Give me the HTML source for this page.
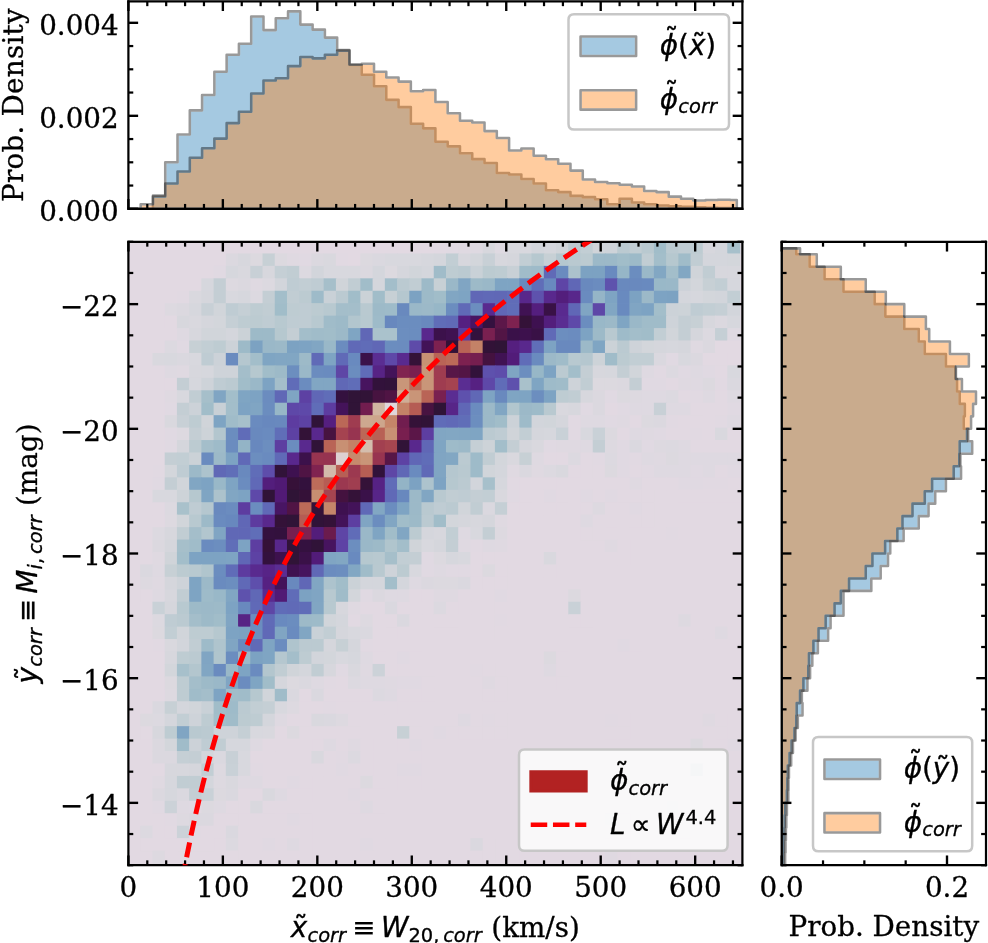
<!DOCTYPE html>
<html><head><meta charset="utf-8"><title>figure</title>
<style>html,body{margin:0;padding:0;background:#fff}svg text{stroke:#000;stroke-width:.22px;stroke-linejoin:round}body{width:988px;height:943px;overflow:hidden}</style></head>
<body>
<svg width="988" height="943" viewBox="0 0 711.36 678.96" style="display:block">
 
 <defs>
  <style type="text/css">*{stroke-linejoin: round; stroke-linecap: butt}</style>
 </defs>
 <g id="figure_1">
  <g id="patch_1">
   <path d="M 0 678.96 
L 711.36 678.96 
L 711.36 0 
L 0 0 
L 0 678.96 
z
" style="fill: none"/>
  </g>
  <g id="axes_1">
   <g id="patch_2">
    <path d="M 92.448 622.944 
L 534.528 622.944 
L 534.528 174.096 
L 92.448 174.096 
L 92.448 622.944 
z
" style="fill: none"/>
   </g>
   <g id="cells"><rect x="92.45" y="174.10" width="442.08" height="448.85" fill="#e2d9e2"/>
<rect x="312.30" y="174.10" width="9.31" height="8.88" fill="#e1d9e2"/>
<rect x="321.11" y="174.10" width="9.31" height="8.88" fill="#e0d9e2"/>
<rect x="329.91" y="174.10" width="9.31" height="8.88" fill="#dfd9e1"/>
<rect x="338.72" y="174.10" width="9.31" height="8.88" fill="#ded9e1"/>
<rect x="347.52" y="174.10" width="9.31" height="8.88" fill="#d7d7dd"/>
<rect x="356.33" y="174.10" width="9.31" height="8.88" fill="#ded9e1"/>
<rect x="365.13" y="174.10" width="9.31" height="8.88" fill="#d8d8de"/>
<rect x="373.94" y="174.10" width="9.31" height="8.88" fill="#d8d8de"/>
<rect x="382.74" y="174.10" width="9.31" height="8.88" fill="#d2d5db"/>
<rect x="391.55" y="174.10" width="9.31" height="8.88" fill="#d4d6dc"/>
<rect x="400.36" y="174.10" width="9.31" height="8.88" fill="#d0d4d9"/>
<rect x="409.16" y="174.10" width="9.31" height="8.88" fill="#bbcad1"/>
<rect x="417.97" y="174.10" width="9.31" height="8.88" fill="#c2ced4"/>
<rect x="426.77" y="174.10" width="9.31" height="8.88" fill="#d0d4d9"/>
<rect x="435.58" y="174.10" width="9.31" height="8.88" fill="#ced3d9"/>
<rect x="444.38" y="174.10" width="9.31" height="8.88" fill="#bbcad1"/>
<rect x="453.19" y="174.10" width="9.31" height="8.88" fill="#c1cdd3"/>
<rect x="462.00" y="174.10" width="9.31" height="8.88" fill="#b9c9d0"/>
<rect x="470.80" y="174.10" width="9.31" height="8.88" fill="#a1bdc9"/>
<rect x="479.61" y="174.10" width="9.31" height="8.88" fill="#bbcad1"/>
<rect x="488.41" y="174.10" width="9.31" height="8.88" fill="#bfccd3"/>
<rect x="497.22" y="174.10" width="9.31" height="8.88" fill="#beccd2"/>
<rect x="506.02" y="174.10" width="9.31" height="8.88" fill="#d7d7dd"/>
<rect x="514.83" y="174.10" width="9.31" height="8.88" fill="#d4d6dc"/>
<rect x="523.63" y="174.10" width="9.31" height="8.88" fill="#a7c0cb"/>
<rect x="162.60" y="182.48" width="9.31" height="9.46" fill="#dbd8df"/>
<rect x="171.41" y="182.48" width="9.31" height="9.46" fill="#d7d7dd"/>
<rect x="180.22" y="182.48" width="9.31" height="9.46" fill="#dcd9df"/>
<rect x="189.02" y="182.48" width="9.31" height="9.46" fill="#c7d0d5"/>
<rect x="197.83" y="182.48" width="9.31" height="9.46" fill="#dcd9df"/>
<rect x="206.63" y="182.48" width="9.31" height="9.46" fill="#dfd9e1"/>
<rect x="215.44" y="182.48" width="9.31" height="9.46" fill="#e0d9e2"/>
<rect x="224.24" y="182.48" width="9.31" height="9.46" fill="#dbd8df"/>
<rect x="233.05" y="182.48" width="9.31" height="9.46" fill="#d9d8de"/>
<rect x="241.86" y="182.48" width="9.31" height="9.46" fill="#e1d9e2"/>
<rect x="250.66" y="182.48" width="9.31" height="9.46" fill="#e2d9e2"/>
<rect x="259.47" y="182.48" width="9.31" height="9.46" fill="#dcd9df"/>
<rect x="268.27" y="182.48" width="9.31" height="9.46" fill="#dad8df"/>
<rect x="277.08" y="182.48" width="9.31" height="9.46" fill="#d8d8de"/>
<rect x="285.88" y="182.48" width="9.31" height="9.46" fill="#d8d8de"/>
<rect x="294.69" y="182.48" width="9.31" height="9.46" fill="#d8d8de"/>
<rect x="303.49" y="182.48" width="9.31" height="9.46" fill="#d6d7dd"/>
<rect x="312.30" y="182.48" width="9.31" height="9.46" fill="#d4d6dc"/>
<rect x="321.11" y="182.48" width="9.31" height="9.46" fill="#c2ced4"/>
<rect x="329.91" y="182.48" width="9.31" height="9.46" fill="#d7d7dd"/>
<rect x="338.72" y="182.48" width="9.31" height="9.46" fill="#d3d6db"/>
<rect x="347.52" y="182.48" width="9.31" height="9.46" fill="#c8d0d6"/>
<rect x="356.33" y="182.48" width="9.31" height="9.46" fill="#d7d7dd"/>
<rect x="365.13" y="182.48" width="9.31" height="9.46" fill="#d5d6dc"/>
<rect x="373.94" y="182.48" width="9.31" height="9.46" fill="#c2ced4"/>
<rect x="382.74" y="182.48" width="9.31" height="9.46" fill="#b6c8cf"/>
<rect x="391.55" y="182.48" width="9.31" height="9.46" fill="#c7d0d5"/>
<rect x="400.36" y="182.48" width="9.31" height="9.46" fill="#b5c7cf"/>
<rect x="409.16" y="182.48" width="9.31" height="9.46" fill="#b9c9d0"/>
<rect x="417.97" y="182.48" width="9.31" height="9.46" fill="#bccbd1"/>
<rect x="426.77" y="182.48" width="9.31" height="9.46" fill="#9cb9c8"/>
<rect x="435.58" y="182.48" width="9.31" height="9.46" fill="#9cb9c8"/>
<rect x="444.38" y="182.48" width="9.31" height="9.46" fill="#a1bdc9"/>
<rect x="453.19" y="182.48" width="9.31" height="9.46" fill="#9dbac8"/>
<rect x="462.00" y="182.48" width="9.31" height="9.46" fill="#c1cdd3"/>
<rect x="470.80" y="182.48" width="9.31" height="9.46" fill="#a3beca"/>
<rect x="479.61" y="182.48" width="9.31" height="9.46" fill="#b6c8cf"/>
<rect x="488.41" y="182.48" width="9.31" height="9.46" fill="#a0bcc9"/>
<rect x="497.22" y="182.48" width="9.31" height="9.46" fill="#c1cdd3"/>
<rect x="506.02" y="182.48" width="9.31" height="9.46" fill="#d4d6dc"/>
<rect x="514.83" y="182.48" width="9.31" height="9.46" fill="#d4d6dc"/>
<rect x="523.63" y="182.48" width="9.31" height="9.46" fill="#d3d6db"/>
<rect x="153.80" y="191.43" width="9.31" height="9.46" fill="#e0d9e2"/>
<rect x="162.60" y="191.43" width="9.31" height="9.46" fill="#d6d7dd"/>
<rect x="171.41" y="191.43" width="9.31" height="9.46" fill="#d9d8de"/>
<rect x="180.22" y="191.43" width="9.31" height="9.46" fill="#c8d0d6"/>
<rect x="189.02" y="191.43" width="9.31" height="9.46" fill="#d7d7dd"/>
<rect x="197.83" y="191.43" width="9.31" height="9.46" fill="#c5cfd5"/>
<rect x="206.63" y="191.43" width="9.31" height="9.46" fill="#c1cdd3"/>
<rect x="215.44" y="191.43" width="9.31" height="9.46" fill="#dcd9e0"/>
<rect x="224.24" y="191.43" width="9.31" height="9.46" fill="#d2d5db"/>
<rect x="233.05" y="191.43" width="9.31" height="9.46" fill="#d8d8de"/>
<rect x="241.86" y="191.43" width="9.31" height="9.46" fill="#d8d8de"/>
<rect x="250.66" y="191.43" width="9.31" height="9.46" fill="#d8d8de"/>
<rect x="259.47" y="191.43" width="9.31" height="9.46" fill="#dbd8df"/>
<rect x="268.27" y="191.43" width="9.31" height="9.46" fill="#d4d6dc"/>
<rect x="277.08" y="191.43" width="9.31" height="9.46" fill="#dcd9df"/>
<rect x="285.88" y="191.43" width="9.31" height="9.46" fill="#d5d6dc"/>
<rect x="294.69" y="191.43" width="9.31" height="9.46" fill="#d1d5da"/>
<rect x="303.49" y="191.43" width="9.31" height="9.46" fill="#d4d6dc"/>
<rect x="312.30" y="191.43" width="9.31" height="9.46" fill="#a0bcc9"/>
<rect x="321.11" y="191.43" width="9.31" height="9.46" fill="#beccd2"/>
<rect x="329.91" y="191.43" width="9.31" height="9.46" fill="#bbcad1"/>
<rect x="338.72" y="191.43" width="9.31" height="9.46" fill="#c9d1d7"/>
<rect x="347.52" y="191.43" width="9.31" height="9.46" fill="#bccbd1"/>
<rect x="356.33" y="191.43" width="9.31" height="9.46" fill="#beccd2"/>
<rect x="365.13" y="191.43" width="9.31" height="9.46" fill="#c8d0d6"/>
<rect x="373.94" y="191.43" width="9.31" height="9.46" fill="#a0bcc9"/>
<rect x="382.74" y="191.43" width="9.31" height="9.46" fill="#9ebbc9"/>
<rect x="391.55" y="191.43" width="9.31" height="9.46" fill="#606ab7"/>
<rect x="400.36" y="191.43" width="9.31" height="9.46" fill="#6a8bbf"/>
<rect x="409.16" y="191.43" width="9.31" height="9.46" fill="#acc2cc"/>
<rect x="417.97" y="191.43" width="9.31" height="9.46" fill="#7ca2c2"/>
<rect x="426.77" y="191.43" width="9.31" height="9.46" fill="#7ca2c2"/>
<rect x="435.58" y="191.43" width="9.31" height="9.46" fill="#698abf"/>
<rect x="444.38" y="191.43" width="9.31" height="9.46" fill="#96b6c7"/>
<rect x="453.19" y="191.43" width="9.31" height="9.46" fill="#6b8dbf"/>
<rect x="462.00" y="191.43" width="9.31" height="9.46" fill="#9ab8c8"/>
<rect x="470.80" y="191.43" width="9.31" height="9.46" fill="#82a7c3"/>
<rect x="479.61" y="191.43" width="9.31" height="9.46" fill="#a3beca"/>
<rect x="488.41" y="191.43" width="9.31" height="9.46" fill="#82a7c3"/>
<rect x="497.22" y="191.43" width="9.31" height="9.46" fill="#d0d4d9"/>
<rect x="506.02" y="191.43" width="9.31" height="9.46" fill="#c1cdd3"/>
<rect x="514.83" y="191.43" width="9.31" height="9.46" fill="#d7d7dd"/>
<rect x="523.63" y="191.43" width="9.31" height="9.46" fill="#d7d7dd"/>
<rect x="144.99" y="200.39" width="9.31" height="9.46" fill="#d6d7dd"/>
<rect x="153.80" y="200.39" width="9.31" height="9.46" fill="#c4ced4"/>
<rect x="162.60" y="200.39" width="9.31" height="9.46" fill="#ddd9e0"/>
<rect x="171.41" y="200.39" width="9.31" height="9.46" fill="#dbd8df"/>
<rect x="180.22" y="200.39" width="9.31" height="9.46" fill="#dfd9e1"/>
<rect x="189.02" y="200.39" width="9.31" height="9.46" fill="#dcd9e0"/>
<rect x="197.83" y="200.39" width="9.31" height="9.46" fill="#d2d5db"/>
<rect x="206.63" y="200.39" width="9.31" height="9.46" fill="#bfccd3"/>
<rect x="215.44" y="200.39" width="9.31" height="9.46" fill="#c2ced4"/>
<rect x="224.24" y="200.39" width="9.31" height="9.46" fill="#bfccd3"/>
<rect x="233.05" y="200.39" width="9.31" height="9.46" fill="#a6bfca"/>
<rect x="241.86" y="200.39" width="9.31" height="9.46" fill="#d0d4d9"/>
<rect x="250.66" y="200.39" width="9.31" height="9.46" fill="#c1cdd3"/>
<rect x="259.47" y="200.39" width="9.31" height="9.46" fill="#a1bdc9"/>
<rect x="268.27" y="200.39" width="9.31" height="9.46" fill="#d4d6dc"/>
<rect x="277.08" y="200.39" width="9.31" height="9.46" fill="#a3beca"/>
<rect x="285.88" y="200.39" width="9.31" height="9.46" fill="#bbcad1"/>
<rect x="294.69" y="200.39" width="9.31" height="9.46" fill="#c1cdd3"/>
<rect x="303.49" y="200.39" width="9.31" height="9.46" fill="#9dbac8"/>
<rect x="312.30" y="200.39" width="9.31" height="9.46" fill="#c7d0d5"/>
<rect x="321.11" y="200.39" width="9.31" height="9.46" fill="#9ab8c8"/>
<rect x="329.91" y="200.39" width="9.31" height="9.46" fill="#80a5c3"/>
<rect x="338.72" y="200.39" width="9.31" height="9.46" fill="#9dbac8"/>
<rect x="347.52" y="200.39" width="9.31" height="9.46" fill="#9ab8c8"/>
<rect x="356.33" y="200.39" width="9.31" height="9.46" fill="#7ea4c3"/>
<rect x="365.13" y="200.39" width="9.31" height="9.46" fill="#7ea4c3"/>
<rect x="373.94" y="200.39" width="9.31" height="9.46" fill="#6989be"/>
<rect x="382.74" y="200.39" width="9.31" height="9.46" fill="#606db8"/>
<rect x="391.55" y="200.39" width="9.31" height="9.46" fill="#698abf"/>
<rect x="400.36" y="200.39" width="9.31" height="9.46" fill="#5e45a6"/>
<rect x="409.16" y="200.39" width="9.31" height="9.46" fill="#6067b6"/>
<rect x="417.97" y="200.39" width="9.31" height="9.46" fill="#6989be"/>
<rect x="426.77" y="200.39" width="9.31" height="9.46" fill="#6b8cbf"/>
<rect x="435.58" y="200.39" width="9.31" height="9.46" fill="#5e52ad"/>
<rect x="444.38" y="200.39" width="9.31" height="9.46" fill="#6989be"/>
<rect x="453.19" y="200.39" width="9.31" height="9.46" fill="#6989be"/>
<rect x="462.00" y="200.39" width="9.31" height="9.46" fill="#698abf"/>
<rect x="470.80" y="200.39" width="9.31" height="9.46" fill="#99b8c8"/>
<rect x="479.61" y="200.39" width="9.31" height="9.46" fill="#9ab8c8"/>
<rect x="488.41" y="200.39" width="9.31" height="9.46" fill="#ccd2d8"/>
<rect x="497.22" y="200.39" width="9.31" height="9.46" fill="#d3d6db"/>
<rect x="506.02" y="200.39" width="9.31" height="9.46" fill="#c7d0d5"/>
<rect x="514.83" y="200.39" width="9.31" height="9.46" fill="#c2ced4"/>
<rect x="523.63" y="200.39" width="9.31" height="9.46" fill="#d6d7dd"/>
<rect x="127.38" y="209.35" width="9.31" height="9.46" fill="#e1d9e2"/>
<rect x="136.19" y="209.35" width="9.31" height="9.46" fill="#d9d8de"/>
<rect x="144.99" y="209.35" width="9.31" height="9.46" fill="#d5d6dc"/>
<rect x="153.80" y="209.35" width="9.31" height="9.46" fill="#c4ced4"/>
<rect x="162.60" y="209.35" width="9.31" height="9.46" fill="#d8d8de"/>
<rect x="171.41" y="209.35" width="9.31" height="9.46" fill="#d6d7dd"/>
<rect x="180.22" y="209.35" width="9.31" height="9.46" fill="#dcd9e0"/>
<rect x="189.02" y="209.35" width="9.31" height="9.46" fill="#c4ced4"/>
<rect x="197.83" y="209.35" width="9.31" height="9.46" fill="#a3beca"/>
<rect x="206.63" y="209.35" width="9.31" height="9.46" fill="#c1cdd3"/>
<rect x="215.44" y="209.35" width="9.31" height="9.46" fill="#bccbd1"/>
<rect x="224.24" y="209.35" width="9.31" height="9.46" fill="#9ebbc9"/>
<rect x="233.05" y="209.35" width="9.31" height="9.46" fill="#c9d1d7"/>
<rect x="241.86" y="209.35" width="9.31" height="9.46" fill="#bbcad1"/>
<rect x="250.66" y="209.35" width="9.31" height="9.46" fill="#a1bdc9"/>
<rect x="259.47" y="209.35" width="9.31" height="9.46" fill="#cbd2d7"/>
<rect x="268.27" y="209.35" width="9.31" height="9.46" fill="#a1bdc9"/>
<rect x="277.08" y="209.35" width="9.31" height="9.46" fill="#c7d0d5"/>
<rect x="285.88" y="209.35" width="9.31" height="9.46" fill="#b5c7cf"/>
<rect x="294.69" y="209.35" width="9.31" height="9.46" fill="#7ca2c2"/>
<rect x="303.49" y="209.35" width="9.31" height="9.46" fill="#9dbac8"/>
<rect x="312.30" y="209.35" width="9.31" height="9.46" fill="#a1bdc9"/>
<rect x="321.11" y="209.35" width="9.31" height="9.46" fill="#81a6c3"/>
<rect x="329.91" y="209.35" width="9.31" height="9.46" fill="#7ea4c3"/>
<rect x="338.72" y="209.35" width="9.31" height="9.46" fill="#6067b6"/>
<rect x="347.52" y="209.35" width="9.31" height="9.46" fill="#6069b7"/>
<rect x="356.33" y="209.35" width="9.31" height="9.46" fill="#6068b6"/>
<rect x="365.13" y="209.35" width="9.31" height="9.46" fill="#606cb8"/>
<rect x="373.94" y="209.35" width="9.31" height="9.46" fill="#58278b"/>
<rect x="382.74" y="209.35" width="9.31" height="9.46" fill="#5e52ad"/>
<rect x="391.55" y="209.35" width="9.31" height="9.46" fill="#59288d"/>
<rect x="400.36" y="209.35" width="9.31" height="9.46" fill="#531e7c"/>
<rect x="409.16" y="209.35" width="9.31" height="9.46" fill="#58278b"/>
<rect x="417.97" y="209.35" width="9.31" height="9.46" fill="#6a8bbf"/>
<rect x="426.77" y="209.35" width="9.31" height="9.46" fill="#95b5c7"/>
<rect x="435.58" y="209.35" width="9.31" height="9.46" fill="#7ea4c3"/>
<rect x="444.38" y="209.35" width="9.31" height="9.46" fill="#698abf"/>
<rect x="453.19" y="209.35" width="9.31" height="9.46" fill="#7ca2c2"/>
<rect x="462.00" y="209.35" width="9.31" height="9.46" fill="#9cb9c8"/>
<rect x="470.80" y="209.35" width="9.31" height="9.46" fill="#7da3c3"/>
<rect x="479.61" y="209.35" width="9.31" height="9.46" fill="#7ca2c2"/>
<rect x="488.41" y="209.35" width="9.31" height="9.46" fill="#d4d6dc"/>
<rect x="497.22" y="209.35" width="9.31" height="9.46" fill="#d6d7dd"/>
<rect x="506.02" y="209.35" width="9.31" height="9.46" fill="#d3d6db"/>
<rect x="514.83" y="209.35" width="9.31" height="9.46" fill="#d2d5db"/>
<rect x="523.63" y="209.35" width="9.31" height="9.46" fill="#c2ced4"/>
<rect x="118.58" y="218.30" width="9.31" height="9.46" fill="#ddd9e0"/>
<rect x="127.38" y="218.30" width="9.31" height="9.46" fill="#dbd8df"/>
<rect x="136.19" y="218.30" width="9.31" height="9.46" fill="#d6d7dd"/>
<rect x="144.99" y="218.30" width="9.31" height="9.46" fill="#c8d0d6"/>
<rect x="153.80" y="218.30" width="9.31" height="9.46" fill="#d1d5da"/>
<rect x="162.60" y="218.30" width="9.31" height="9.46" fill="#bfccd3"/>
<rect x="171.41" y="218.30" width="9.31" height="9.46" fill="#c5cfd5"/>
<rect x="180.22" y="218.30" width="9.31" height="9.46" fill="#beccd2"/>
<rect x="189.02" y="218.30" width="9.31" height="9.46" fill="#c1cdd3"/>
<rect x="197.83" y="218.30" width="9.31" height="9.46" fill="#a1bdc9"/>
<rect x="206.63" y="218.30" width="9.31" height="9.46" fill="#beccd2"/>
<rect x="215.44" y="218.30" width="9.31" height="9.46" fill="#bfccd3"/>
<rect x="224.24" y="218.30" width="9.31" height="9.46" fill="#bccbd1"/>
<rect x="233.05" y="218.30" width="9.31" height="9.46" fill="#b8c9d0"/>
<rect x="241.86" y="218.30" width="9.31" height="9.46" fill="#a4beca"/>
<rect x="250.66" y="218.30" width="9.31" height="9.46" fill="#a4beca"/>
<rect x="259.47" y="218.30" width="9.31" height="9.46" fill="#b9c9d0"/>
<rect x="268.27" y="218.30" width="9.31" height="9.46" fill="#9dbac8"/>
<rect x="277.08" y="218.30" width="9.31" height="9.46" fill="#9ebbc9"/>
<rect x="285.88" y="218.30" width="9.31" height="9.46" fill="#6989be"/>
<rect x="294.69" y="218.30" width="9.31" height="9.46" fill="#9ab8c8"/>
<rect x="303.49" y="218.30" width="9.31" height="9.46" fill="#9cb9c8"/>
<rect x="312.30" y="218.30" width="9.31" height="9.46" fill="#97b7c7"/>
<rect x="321.11" y="218.30" width="9.31" height="9.46" fill="#6b8dbf"/>
<rect x="329.91" y="218.30" width="9.31" height="9.46" fill="#606ab7"/>
<rect x="338.72" y="218.30" width="9.31" height="9.46" fill="#6c8ebf"/>
<rect x="347.52" y="218.30" width="9.31" height="9.46" fill="#592a8f"/>
<rect x="356.33" y="218.30" width="9.31" height="9.46" fill="#6067b6"/>
<rect x="365.13" y="218.30" width="9.31" height="9.46" fill="#606db8"/>
<rect x="373.94" y="218.30" width="9.31" height="9.46" fill="#401253"/>
<rect x="382.74" y="218.30" width="9.31" height="9.46" fill="#541e7e"/>
<rect x="391.55" y="218.30" width="9.31" height="9.46" fill="#391146"/>
<rect x="400.36" y="218.30" width="9.31" height="9.46" fill="#592a8f"/>
<rect x="409.16" y="218.30" width="9.31" height="9.46" fill="#6067b6"/>
<rect x="417.97" y="218.30" width="9.31" height="9.46" fill="#80a5c3"/>
<rect x="426.77" y="218.30" width="9.31" height="9.46" fill="#5e47a7"/>
<rect x="435.58" y="218.30" width="9.31" height="9.46" fill="#81a6c3"/>
<rect x="444.38" y="218.30" width="9.31" height="9.46" fill="#698abf"/>
<rect x="453.19" y="218.30" width="9.31" height="9.46" fill="#80a5c3"/>
<rect x="462.00" y="218.30" width="9.31" height="9.46" fill="#7da3c3"/>
<rect x="470.80" y="218.30" width="9.31" height="9.46" fill="#a3beca"/>
<rect x="479.61" y="218.30" width="9.31" height="9.46" fill="#ccd2d8"/>
<rect x="488.41" y="218.30" width="9.31" height="9.46" fill="#cdd3d8"/>
<rect x="497.22" y="218.30" width="9.31" height="9.46" fill="#bfccd3"/>
<rect x="506.02" y="218.30" width="9.31" height="9.46" fill="#c2ced4"/>
<rect x="514.83" y="218.30" width="9.31" height="9.46" fill="#c5cfd5"/>
<rect x="523.63" y="218.30" width="9.31" height="9.46" fill="#d2d5db"/>
<rect x="118.58" y="227.26" width="9.31" height="9.46" fill="#e2d9e2"/>
<rect x="127.38" y="227.26" width="9.31" height="9.46" fill="#d7d7dd"/>
<rect x="136.19" y="227.26" width="9.31" height="9.46" fill="#d9d8de"/>
<rect x="144.99" y="227.26" width="9.31" height="9.46" fill="#d5d6dc"/>
<rect x="153.80" y="227.26" width="9.31" height="9.46" fill="#d3d6db"/>
<rect x="162.60" y="227.26" width="9.31" height="9.46" fill="#c5cfd5"/>
<rect x="171.41" y="227.26" width="9.31" height="9.46" fill="#beccd2"/>
<rect x="180.22" y="227.26" width="9.31" height="9.46" fill="#bccbd1"/>
<rect x="189.02" y="227.26" width="9.31" height="9.46" fill="#bfccd3"/>
<rect x="197.83" y="227.26" width="9.31" height="9.46" fill="#b8c9d0"/>
<rect x="206.63" y="227.26" width="9.31" height="9.46" fill="#bfccd3"/>
<rect x="215.44" y="227.26" width="9.31" height="9.46" fill="#bfccd3"/>
<rect x="224.24" y="227.26" width="9.31" height="9.46" fill="#b8c9d0"/>
<rect x="233.05" y="227.26" width="9.31" height="9.46" fill="#a0bcc9"/>
<rect x="241.86" y="227.26" width="9.31" height="9.46" fill="#9dbac8"/>
<rect x="250.66" y="227.26" width="9.31" height="9.46" fill="#b2c6ce"/>
<rect x="259.47" y="227.26" width="9.31" height="9.46" fill="#b8c9d0"/>
<rect x="268.27" y="227.26" width="9.31" height="9.46" fill="#9ebbc9"/>
<rect x="277.08" y="227.26" width="9.31" height="9.46" fill="#6888be"/>
<rect x="285.88" y="227.26" width="9.31" height="9.46" fill="#6b8dbf"/>
<rect x="294.69" y="227.26" width="9.31" height="9.46" fill="#6b8dbf"/>
<rect x="303.49" y="227.26" width="9.31" height="9.46" fill="#6989be"/>
<rect x="312.30" y="227.26" width="9.31" height="9.46" fill="#606db8"/>
<rect x="321.11" y="227.26" width="9.31" height="9.46" fill="#606ab7"/>
<rect x="329.91" y="227.26" width="9.31" height="9.46" fill="#552081"/>
<rect x="338.72" y="227.26" width="9.31" height="9.46" fill="#481563"/>
<rect x="347.52" y="227.26" width="9.31" height="9.46" fill="#34113f"/>
<rect x="356.33" y="227.26" width="9.31" height="9.46" fill="#5c1749"/>
<rect x="365.13" y="227.26" width="9.31" height="9.46" fill="#7e2250"/>
<rect x="373.94" y="227.26" width="9.31" height="9.46" fill="#341238"/>
<rect x="382.74" y="227.26" width="9.31" height="9.46" fill="#3e1150"/>
<rect x="391.55" y="227.26" width="9.31" height="9.46" fill="#531e7c"/>
<rect x="400.36" y="227.26" width="9.31" height="9.46" fill="#5a2d92"/>
<rect x="409.16" y="227.26" width="9.31" height="9.46" fill="#5e49a9"/>
<rect x="417.97" y="227.26" width="9.31" height="9.46" fill="#6b8dbf"/>
<rect x="426.77" y="227.26" width="9.31" height="9.46" fill="#99b8c8"/>
<rect x="435.58" y="227.26" width="9.31" height="9.46" fill="#9cb9c8"/>
<rect x="444.38" y="227.26" width="9.31" height="9.46" fill="#7fa5c3"/>
<rect x="453.19" y="227.26" width="9.31" height="9.46" fill="#9ab8c8"/>
<rect x="462.00" y="227.26" width="9.31" height="9.46" fill="#a0bcc9"/>
<rect x="470.80" y="227.26" width="9.31" height="9.46" fill="#a0bcc9"/>
<rect x="479.61" y="227.26" width="9.31" height="9.46" fill="#ced3d9"/>
<rect x="488.41" y="227.26" width="9.31" height="9.46" fill="#c4ced4"/>
<rect x="497.22" y="227.26" width="9.31" height="9.46" fill="#c7d0d5"/>
<rect x="506.02" y="227.26" width="9.31" height="9.46" fill="#d7d7dd"/>
<rect x="514.83" y="227.26" width="9.31" height="9.46" fill="#dbd8df"/>
<rect x="523.63" y="227.26" width="9.31" height="9.46" fill="#d6d7dd"/>
<rect x="127.38" y="236.22" width="9.31" height="9.46" fill="#ded9e1"/>
<rect x="136.19" y="236.22" width="9.31" height="9.46" fill="#d7d7dd"/>
<rect x="144.99" y="236.22" width="9.31" height="9.46" fill="#d1d5da"/>
<rect x="153.80" y="236.22" width="9.31" height="9.46" fill="#d1d5da"/>
<rect x="162.60" y="236.22" width="9.31" height="9.46" fill="#d4d6dc"/>
<rect x="171.41" y="236.22" width="9.31" height="9.46" fill="#cbd2d7"/>
<rect x="180.22" y="236.22" width="9.31" height="9.46" fill="#9dbac8"/>
<rect x="189.02" y="236.22" width="9.31" height="9.46" fill="#9dbac8"/>
<rect x="197.83" y="236.22" width="9.31" height="9.46" fill="#b6c8cf"/>
<rect x="206.63" y="236.22" width="9.31" height="9.46" fill="#c4ced4"/>
<rect x="215.44" y="236.22" width="9.31" height="9.46" fill="#a3beca"/>
<rect x="224.24" y="236.22" width="9.31" height="9.46" fill="#a0bcc9"/>
<rect x="233.05" y="236.22" width="9.31" height="9.46" fill="#a1bdc9"/>
<rect x="241.86" y="236.22" width="9.31" height="9.46" fill="#9cb9c8"/>
<rect x="250.66" y="236.22" width="9.31" height="9.46" fill="#7fa5c3"/>
<rect x="259.47" y="236.22" width="9.31" height="9.46" fill="#6067b6"/>
<rect x="268.27" y="236.22" width="9.31" height="9.46" fill="#aac2cc"/>
<rect x="277.08" y="236.22" width="9.31" height="9.46" fill="#aac2cc"/>
<rect x="285.88" y="236.22" width="9.31" height="9.46" fill="#6c8ebf"/>
<rect x="294.69" y="236.22" width="9.31" height="9.46" fill="#6b8dbf"/>
<rect x="303.49" y="236.22" width="9.31" height="9.46" fill="#59288d"/>
<rect x="312.30" y="236.22" width="9.31" height="9.46" fill="#3c114b"/>
<rect x="321.11" y="236.22" width="9.31" height="9.46" fill="#3f1251"/>
<rect x="329.91" y="236.22" width="9.31" height="9.46" fill="#5d3b9f"/>
<rect x="338.72" y="236.22" width="9.31" height="9.46" fill="#33113d"/>
<rect x="347.52" y="236.22" width="9.31" height="9.46" fill="#792050"/>
<rect x="356.33" y="236.22" width="9.31" height="9.46" fill="#521545"/>
<rect x="365.13" y="236.22" width="9.31" height="9.46" fill="#3a1149"/>
<rect x="373.94" y="236.22" width="9.31" height="9.46" fill="#3d114d"/>
<rect x="382.74" y="236.22" width="9.31" height="9.46" fill="#391146"/>
<rect x="391.55" y="236.22" width="9.31" height="9.46" fill="#606ab7"/>
<rect x="400.36" y="236.22" width="9.31" height="9.46" fill="#6c8ebf"/>
<rect x="409.16" y="236.22" width="9.31" height="9.46" fill="#6b8cbf"/>
<rect x="417.97" y="236.22" width="9.31" height="9.46" fill="#7da3c3"/>
<rect x="426.77" y="236.22" width="9.31" height="9.46" fill="#9dbac8"/>
<rect x="435.58" y="236.22" width="9.31" height="9.46" fill="#b8c9d0"/>
<rect x="444.38" y="236.22" width="9.31" height="9.46" fill="#9ebbc9"/>
<rect x="453.19" y="236.22" width="9.31" height="9.46" fill="#a3beca"/>
<rect x="462.00" y="236.22" width="9.31" height="9.46" fill="#a1bdc9"/>
<rect x="470.80" y="236.22" width="9.31" height="9.46" fill="#c2ced4"/>
<rect x="479.61" y="236.22" width="9.31" height="9.46" fill="#d1d5da"/>
<rect x="488.41" y="236.22" width="9.31" height="9.46" fill="#c4ced4"/>
<rect x="497.22" y="236.22" width="9.31" height="9.46" fill="#d5d6dc"/>
<rect x="506.02" y="236.22" width="9.31" height="9.46" fill="#dcd9e0"/>
<rect x="514.83" y="236.22" width="9.31" height="9.46" fill="#c5cfd5"/>
<rect x="523.63" y="236.22" width="9.31" height="9.46" fill="#ded9e1"/>
<rect x="118.58" y="245.17" width="9.31" height="9.46" fill="#dcd9e0"/>
<rect x="127.38" y="245.17" width="9.31" height="9.46" fill="#e0d9e2"/>
<rect x="136.19" y="245.17" width="9.31" height="9.46" fill="#c7d0d5"/>
<rect x="144.99" y="245.17" width="9.31" height="9.46" fill="#c2ced4"/>
<rect x="153.80" y="245.17" width="9.31" height="9.46" fill="#beccd2"/>
<rect x="162.60" y="245.17" width="9.31" height="9.46" fill="#ccd2d8"/>
<rect x="171.41" y="245.17" width="9.31" height="9.46" fill="#9dbac8"/>
<rect x="180.22" y="245.17" width="9.31" height="9.46" fill="#7ca2c2"/>
<rect x="189.02" y="245.17" width="9.31" height="9.46" fill="#9ab8c8"/>
<rect x="197.83" y="245.17" width="9.31" height="9.46" fill="#9cb9c8"/>
<rect x="206.63" y="245.17" width="9.31" height="9.46" fill="#7ca2c2"/>
<rect x="215.44" y="245.17" width="9.31" height="9.46" fill="#7da3c3"/>
<rect x="224.24" y="245.17" width="9.31" height="9.46" fill="#81a6c3"/>
<rect x="233.05" y="245.17" width="9.31" height="9.46" fill="#99b8c8"/>
<rect x="241.86" y="245.17" width="9.31" height="9.46" fill="#6b8cbf"/>
<rect x="250.66" y="245.17" width="9.31" height="9.46" fill="#6069b7"/>
<rect x="259.47" y="245.17" width="9.31" height="9.46" fill="#606cb8"/>
<rect x="268.27" y="245.17" width="9.31" height="9.46" fill="#6067b6"/>
<rect x="277.08" y="245.17" width="9.31" height="9.46" fill="#6b8dbf"/>
<rect x="285.88" y="245.17" width="9.31" height="9.46" fill="#6b8cbf"/>
<rect x="294.69" y="245.17" width="9.31" height="9.46" fill="#5e4ba9"/>
<rect x="303.49" y="245.17" width="9.31" height="9.46" fill="#421257"/>
<rect x="312.30" y="245.17" width="9.31" height="9.46" fill="#7d2150"/>
<rect x="321.11" y="245.17" width="9.31" height="9.46" fill="#331237"/>
<rect x="329.91" y="245.17" width="9.31" height="9.46" fill="#b96356"/>
<rect x="338.72" y="245.17" width="9.31" height="9.46" fill="#c48267"/>
<rect x="347.52" y="245.17" width="9.31" height="9.46" fill="#321237"/>
<rect x="356.33" y="245.17" width="9.31" height="9.46" fill="#2f1436"/>
<rect x="365.13" y="245.17" width="9.31" height="9.46" fill="#551f7f"/>
<rect x="373.94" y="245.17" width="9.31" height="9.46" fill="#59288d"/>
<rect x="382.74" y="245.17" width="9.31" height="9.46" fill="#606eb8"/>
<rect x="391.55" y="245.17" width="9.31" height="9.46" fill="#7da3c3"/>
<rect x="400.36" y="245.17" width="9.31" height="9.46" fill="#6989be"/>
<rect x="409.16" y="245.17" width="9.31" height="9.46" fill="#6989be"/>
<rect x="417.97" y="245.17" width="9.31" height="9.46" fill="#9cb9c8"/>
<rect x="426.77" y="245.17" width="9.31" height="9.46" fill="#7fa5c3"/>
<rect x="435.58" y="245.17" width="9.31" height="9.46" fill="#cbd2d7"/>
<rect x="444.38" y="245.17" width="9.31" height="9.46" fill="#bbcad1"/>
<rect x="453.19" y="245.17" width="9.31" height="9.46" fill="#ced3d9"/>
<rect x="462.00" y="245.17" width="9.31" height="9.46" fill="#d3d6db"/>
<rect x="470.80" y="245.17" width="9.31" height="9.46" fill="#d5d6dc"/>
<rect x="479.61" y="245.17" width="9.31" height="9.46" fill="#d6d7dd"/>
<rect x="488.41" y="245.17" width="9.31" height="9.46" fill="#d5d6dc"/>
<rect x="497.22" y="245.17" width="9.31" height="9.46" fill="#dfd9e1"/>
<rect x="506.02" y="245.17" width="9.31" height="9.46" fill="#dbd8df"/>
<rect x="514.83" y="245.17" width="9.31" height="9.46" fill="#e2d9e2"/>
<rect x="523.63" y="245.17" width="9.31" height="9.46" fill="#e2d9e2"/>
<rect x="109.77" y="254.13" width="9.31" height="9.46" fill="#d9d8de"/>
<rect x="118.58" y="254.13" width="9.31" height="9.46" fill="#d8d8de"/>
<rect x="127.38" y="254.13" width="9.31" height="9.46" fill="#dad8df"/>
<rect x="136.19" y="254.13" width="9.31" height="9.46" fill="#d8d8de"/>
<rect x="144.99" y="254.13" width="9.31" height="9.46" fill="#bfccd3"/>
<rect x="153.80" y="254.13" width="9.31" height="9.46" fill="#ccd2d8"/>
<rect x="162.60" y="254.13" width="9.31" height="9.46" fill="#6a8bbf"/>
<rect x="171.41" y="254.13" width="9.31" height="9.46" fill="#b5c7cf"/>
<rect x="180.22" y="254.13" width="9.31" height="9.46" fill="#a3beca"/>
<rect x="189.02" y="254.13" width="9.31" height="9.46" fill="#7fa5c3"/>
<rect x="197.83" y="254.13" width="9.31" height="9.46" fill="#81a6c3"/>
<rect x="206.63" y="254.13" width="9.31" height="9.46" fill="#81a6c3"/>
<rect x="215.44" y="254.13" width="9.31" height="9.46" fill="#9dbac8"/>
<rect x="224.24" y="254.13" width="9.31" height="9.46" fill="#606ab7"/>
<rect x="233.05" y="254.13" width="9.31" height="9.46" fill="#7ea4c3"/>
<rect x="241.86" y="254.13" width="9.31" height="9.46" fill="#606ab7"/>
<rect x="250.66" y="254.13" width="9.31" height="9.46" fill="#698abf"/>
<rect x="259.47" y="254.13" width="9.31" height="9.46" fill="#3b114a"/>
<rect x="268.27" y="254.13" width="9.31" height="9.46" fill="#5a2d92"/>
<rect x="277.08" y="254.13" width="9.31" height="9.46" fill="#5e48a8"/>
<rect x="285.88" y="254.13" width="9.31" height="9.46" fill="#592a8f"/>
<rect x="294.69" y="254.13" width="9.31" height="9.46" fill="#341238"/>
<rect x="303.49" y="254.13" width="9.31" height="9.46" fill="#c89174"/>
<rect x="312.30" y="254.13" width="9.31" height="9.46" fill="#b96456"/>
<rect x="321.11" y="254.13" width="9.31" height="9.46" fill="#bc6a58"/>
<rect x="329.91" y="254.13" width="9.31" height="9.46" fill="#7d2150"/>
<rect x="338.72" y="254.13" width="9.31" height="9.46" fill="#751e4f"/>
<rect x="347.52" y="254.13" width="9.31" height="9.46" fill="#44123f"/>
<rect x="356.33" y="254.13" width="9.31" height="9.46" fill="#401253"/>
<rect x="365.13" y="254.13" width="9.31" height="9.46" fill="#521c79"/>
<rect x="373.94" y="254.13" width="9.31" height="9.46" fill="#606cb8"/>
<rect x="382.74" y="254.13" width="9.31" height="9.46" fill="#6a8bbf"/>
<rect x="391.55" y="254.13" width="9.31" height="9.46" fill="#9cb9c8"/>
<rect x="400.36" y="254.13" width="9.31" height="9.46" fill="#a0bcc9"/>
<rect x="409.16" y="254.13" width="9.31" height="9.46" fill="#b8c9d0"/>
<rect x="417.97" y="254.13" width="9.31" height="9.46" fill="#b5c7cf"/>
<rect x="426.77" y="254.13" width="9.31" height="9.46" fill="#cdd3d8"/>
<rect x="435.58" y="254.13" width="9.31" height="9.46" fill="#a0bcc9"/>
<rect x="444.38" y="254.13" width="9.31" height="9.46" fill="#bccbd1"/>
<rect x="453.19" y="254.13" width="9.31" height="9.46" fill="#c2ced4"/>
<rect x="462.00" y="254.13" width="9.31" height="9.46" fill="#c2ced4"/>
<rect x="470.80" y="254.13" width="9.31" height="9.46" fill="#dad8df"/>
<rect x="479.61" y="254.13" width="9.31" height="9.46" fill="#e0d9e2"/>
<rect x="488.41" y="254.13" width="9.31" height="9.46" fill="#d8d8de"/>
<rect x="497.22" y="254.13" width="9.31" height="9.46" fill="#dbd8df"/>
<rect x="506.02" y="254.13" width="9.31" height="9.46" fill="#e2d9e2"/>
<rect x="514.83" y="254.13" width="9.31" height="9.46" fill="#e2d9e2"/>
<rect x="109.77" y="263.09" width="9.31" height="9.46" fill="#e2d9e2"/>
<rect x="118.58" y="263.09" width="9.31" height="9.46" fill="#ded9e1"/>
<rect x="127.38" y="263.09" width="9.31" height="9.46" fill="#dfd9e1"/>
<rect x="136.19" y="263.09" width="9.31" height="9.46" fill="#d7d7dd"/>
<rect x="144.99" y="263.09" width="9.31" height="9.46" fill="#d6d7dd"/>
<rect x="153.80" y="263.09" width="9.31" height="9.46" fill="#ced3d9"/>
<rect x="162.60" y="263.09" width="9.31" height="9.46" fill="#ced3d9"/>
<rect x="171.41" y="263.09" width="9.31" height="9.46" fill="#a4beca"/>
<rect x="180.22" y="263.09" width="9.31" height="9.46" fill="#b6c8cf"/>
<rect x="189.02" y="263.09" width="9.31" height="9.46" fill="#a1bdc9"/>
<rect x="197.83" y="263.09" width="9.31" height="9.46" fill="#9dbac8"/>
<rect x="206.63" y="263.09" width="9.31" height="9.46" fill="#6c8ebf"/>
<rect x="215.44" y="263.09" width="9.31" height="9.46" fill="#9ab8c8"/>
<rect x="224.24" y="263.09" width="9.31" height="9.46" fill="#6b8cbf"/>
<rect x="233.05" y="263.09" width="9.31" height="9.46" fill="#6a8bbf"/>
<rect x="241.86" y="263.09" width="9.31" height="9.46" fill="#5e46a6"/>
<rect x="250.66" y="263.09" width="9.31" height="9.46" fill="#6b8dbf"/>
<rect x="259.47" y="263.09" width="9.31" height="9.46" fill="#606cb8"/>
<rect x="268.27" y="263.09" width="9.31" height="9.46" fill="#572385"/>
<rect x="277.08" y="263.09" width="9.31" height="9.46" fill="#431359"/>
<rect x="285.88" y="263.09" width="9.31" height="9.46" fill="#812450"/>
<rect x="294.69" y="263.09" width="9.31" height="9.46" fill="#792050"/>
<rect x="303.49" y="263.09" width="9.31" height="9.46" fill="#c99679"/>
<rect x="312.30" y="263.09" width="9.31" height="9.46" fill="#9f3c50"/>
<rect x="321.11" y="263.09" width="9.31" height="9.46" fill="#571647"/>
<rect x="329.91" y="263.09" width="9.31" height="9.46" fill="#531545"/>
<rect x="338.72" y="263.09" width="9.31" height="9.46" fill="#32123b"/>
<rect x="347.52" y="263.09" width="9.31" height="9.46" fill="#5e51ad"/>
<rect x="356.33" y="263.09" width="9.31" height="9.46" fill="#5e4dab"/>
<rect x="365.13" y="263.09" width="9.31" height="9.46" fill="#7fa5c3"/>
<rect x="373.94" y="263.09" width="9.31" height="9.46" fill="#6c8ebf"/>
<rect x="382.74" y="263.09" width="9.31" height="9.46" fill="#97b7c7"/>
<rect x="391.55" y="263.09" width="9.31" height="9.46" fill="#7da3c3"/>
<rect x="400.36" y="263.09" width="9.31" height="9.46" fill="#bbcad1"/>
<rect x="409.16" y="263.09" width="9.31" height="9.46" fill="#a3beca"/>
<rect x="417.97" y="263.09" width="9.31" height="9.46" fill="#c4ced4"/>
<rect x="426.77" y="263.09" width="9.31" height="9.46" fill="#d7d7dd"/>
<rect x="435.58" y="263.09" width="9.31" height="9.46" fill="#d6d7dd"/>
<rect x="444.38" y="263.09" width="9.31" height="9.46" fill="#c4ced4"/>
<rect x="453.19" y="263.09" width="9.31" height="9.46" fill="#d1d5da"/>
<rect x="462.00" y="263.09" width="9.31" height="9.46" fill="#ded9e1"/>
<rect x="470.80" y="263.09" width="9.31" height="9.46" fill="#e1d9e2"/>
<rect x="479.61" y="263.09" width="9.31" height="9.46" fill="#dcd9e0"/>
<rect x="488.41" y="263.09" width="9.31" height="9.46" fill="#e0d9e2"/>
<rect x="497.22" y="263.09" width="9.31" height="9.46" fill="#ded9e1"/>
<rect x="506.02" y="263.09" width="9.31" height="9.46" fill="#e0d9e2"/>
<rect x="514.83" y="263.09" width="9.31" height="9.46" fill="#e2d9e2"/>
<rect x="523.63" y="263.09" width="9.31" height="9.46" fill="#d8d8de"/>
<rect x="118.58" y="272.04" width="9.31" height="9.46" fill="#e2d9e2"/>
<rect x="127.38" y="272.04" width="9.31" height="9.46" fill="#c4ced4"/>
<rect x="136.19" y="272.04" width="9.31" height="9.46" fill="#d6d7dd"/>
<rect x="144.99" y="272.04" width="9.31" height="9.46" fill="#ced3d9"/>
<rect x="153.80" y="272.04" width="9.31" height="9.46" fill="#bfccd3"/>
<rect x="162.60" y="272.04" width="9.31" height="9.46" fill="#bbcad1"/>
<rect x="171.41" y="272.04" width="9.31" height="9.46" fill="#a1bdc9"/>
<rect x="180.22" y="272.04" width="9.31" height="9.46" fill="#9ab8c8"/>
<rect x="189.02" y="272.04" width="9.31" height="9.46" fill="#7da3c3"/>
<rect x="197.83" y="272.04" width="9.31" height="9.46" fill="#a4beca"/>
<rect x="206.63" y="272.04" width="9.31" height="9.46" fill="#606cb8"/>
<rect x="215.44" y="272.04" width="9.31" height="9.46" fill="#6b8cbf"/>
<rect x="224.24" y="272.04" width="9.31" height="9.46" fill="#81a6c3"/>
<rect x="233.05" y="272.04" width="9.31" height="9.46" fill="#81a6c3"/>
<rect x="241.86" y="272.04" width="9.31" height="9.46" fill="#6068b6"/>
<rect x="250.66" y="272.04" width="9.31" height="9.46" fill="#606db8"/>
<rect x="259.47" y="272.04" width="9.31" height="9.46" fill="#47145f"/>
<rect x="268.27" y="272.04" width="9.31" height="9.46" fill="#32123b"/>
<rect x="277.08" y="272.04" width="9.31" height="9.46" fill="#311339"/>
<rect x="285.88" y="272.04" width="9.31" height="9.46" fill="#c99679"/>
<rect x="294.69" y="272.04" width="9.31" height="9.46" fill="#bc6b59"/>
<rect x="303.49" y="272.04" width="9.31" height="9.46" fill="#c99679"/>
<rect x="312.30" y="272.04" width="9.31" height="9.46" fill="#9f3c50"/>
<rect x="321.11" y="272.04" width="9.31" height="9.46" fill="#a54350"/>
<rect x="329.91" y="272.04" width="9.31" height="9.46" fill="#5a2d92"/>
<rect x="338.72" y="272.04" width="9.31" height="9.46" fill="#562182"/>
<rect x="347.52" y="272.04" width="9.31" height="9.46" fill="#5e48a8"/>
<rect x="356.33" y="272.04" width="9.31" height="9.46" fill="#606cb8"/>
<rect x="365.13" y="272.04" width="9.31" height="9.46" fill="#5e51ad"/>
<rect x="373.94" y="272.04" width="9.31" height="9.46" fill="#a9c1cb"/>
<rect x="382.74" y="272.04" width="9.31" height="9.46" fill="#7fa5c3"/>
<rect x="391.55" y="272.04" width="9.31" height="9.46" fill="#9ebbc9"/>
<rect x="400.36" y="272.04" width="9.31" height="9.46" fill="#a0bcc9"/>
<rect x="409.16" y="272.04" width="9.31" height="9.46" fill="#ced3d9"/>
<rect x="417.97" y="272.04" width="9.31" height="9.46" fill="#c1cdd3"/>
<rect x="426.77" y="272.04" width="9.31" height="9.46" fill="#dcd9df"/>
<rect x="435.58" y="272.04" width="9.31" height="9.46" fill="#dcd9df"/>
<rect x="444.38" y="272.04" width="9.31" height="9.46" fill="#dbd8df"/>
<rect x="453.19" y="272.04" width="9.31" height="9.46" fill="#c4ced4"/>
<rect x="462.00" y="272.04" width="9.31" height="9.46" fill="#e0d9e2"/>
<rect x="470.80" y="272.04" width="9.31" height="9.46" fill="#e0d9e2"/>
<rect x="479.61" y="272.04" width="9.31" height="9.46" fill="#e2d9e2"/>
<rect x="488.41" y="272.04" width="9.31" height="9.46" fill="#dfd9e1"/>
<rect x="497.22" y="272.04" width="9.31" height="9.46" fill="#dfd9e1"/>
<rect x="506.02" y="272.04" width="9.31" height="9.46" fill="#dcd9df"/>
<rect x="514.83" y="272.04" width="9.31" height="9.46" fill="#e1d9e2"/>
<rect x="523.63" y="272.04" width="9.31" height="9.46" fill="#dad8df"/>
<rect x="118.58" y="281.00" width="9.31" height="9.46" fill="#dfd9e1"/>
<rect x="127.38" y="281.00" width="9.31" height="9.46" fill="#d8d8de"/>
<rect x="136.19" y="281.00" width="9.31" height="9.46" fill="#c1cdd3"/>
<rect x="144.99" y="281.00" width="9.31" height="9.46" fill="#a6bfca"/>
<rect x="153.80" y="281.00" width="9.31" height="9.46" fill="#80a5c3"/>
<rect x="162.60" y="281.00" width="9.31" height="9.46" fill="#a3beca"/>
<rect x="171.41" y="281.00" width="9.31" height="9.46" fill="#7fa5c3"/>
<rect x="180.22" y="281.00" width="9.31" height="9.46" fill="#7da3c3"/>
<rect x="189.02" y="281.00" width="9.31" height="9.46" fill="#6b8cbf"/>
<rect x="197.83" y="281.00" width="9.31" height="9.46" fill="#6068b6"/>
<rect x="206.63" y="281.00" width="9.31" height="9.46" fill="#7fa5c3"/>
<rect x="215.44" y="281.00" width="9.31" height="9.46" fill="#5d41a3"/>
<rect x="224.24" y="281.00" width="9.31" height="9.46" fill="#6067b6"/>
<rect x="233.05" y="281.00" width="9.31" height="9.46" fill="#606db8"/>
<rect x="241.86" y="281.00" width="9.31" height="9.46" fill="#34113f"/>
<rect x="250.66" y="281.00" width="9.31" height="9.46" fill="#301437"/>
<rect x="259.47" y="281.00" width="9.31" height="9.46" fill="#311337"/>
<rect x="268.27" y="281.00" width="9.31" height="9.46" fill="#471340"/>
<rect x="277.08" y="281.00" width="9.31" height="9.46" fill="#501444"/>
<rect x="285.88" y="281.00" width="9.31" height="9.46" fill="#cfad96"/>
<rect x="294.69" y="281.00" width="9.31" height="9.46" fill="#c99578"/>
<rect x="303.49" y="281.00" width="9.31" height="9.46" fill="#b96456"/>
<rect x="312.30" y="281.00" width="9.31" height="9.46" fill="#792050"/>
<rect x="321.11" y="281.00" width="9.31" height="9.46" fill="#5a2d92"/>
<rect x="329.91" y="281.00" width="9.31" height="9.46" fill="#5e51ad"/>
<rect x="338.72" y="281.00" width="9.31" height="9.46" fill="#6068b6"/>
<rect x="347.52" y="281.00" width="9.31" height="9.46" fill="#7ea4c3"/>
<rect x="356.33" y="281.00" width="9.31" height="9.46" fill="#6989be"/>
<rect x="365.13" y="281.00" width="9.31" height="9.46" fill="#7fa5c3"/>
<rect x="373.94" y="281.00" width="9.31" height="9.46" fill="#7ea4c3"/>
<rect x="382.74" y="281.00" width="9.31" height="9.46" fill="#6c8ebf"/>
<rect x="391.55" y="281.00" width="9.31" height="9.46" fill="#7da3c3"/>
<rect x="400.36" y="281.00" width="9.31" height="9.46" fill="#beccd2"/>
<rect x="409.16" y="281.00" width="9.31" height="9.46" fill="#c1cdd3"/>
<rect x="417.97" y="281.00" width="9.31" height="9.46" fill="#d7d7dd"/>
<rect x="426.77" y="281.00" width="9.31" height="9.46" fill="#dbd8df"/>
<rect x="435.58" y="281.00" width="9.31" height="9.46" fill="#e0d9e2"/>
<rect x="444.38" y="281.00" width="9.31" height="9.46" fill="#dcd9df"/>
<rect x="453.19" y="281.00" width="9.31" height="9.46" fill="#ddd9e0"/>
<rect x="462.00" y="281.00" width="9.31" height="9.46" fill="#ded9e1"/>
<rect x="470.80" y="281.00" width="9.31" height="9.46" fill="#ded9e1"/>
<rect x="479.61" y="281.00" width="9.31" height="9.46" fill="#dcd9e0"/>
<rect x="488.41" y="281.00" width="9.31" height="9.46" fill="#e2d9e2"/>
<rect x="497.22" y="281.00" width="9.31" height="9.46" fill="#e1d9e2"/>
<rect x="506.02" y="281.00" width="9.31" height="9.46" fill="#ded9e1"/>
<rect x="514.83" y="281.00" width="9.31" height="9.46" fill="#e2d9e2"/>
<rect x="523.63" y="281.00" width="9.31" height="9.46" fill="#ded9e1"/>
<rect x="118.58" y="289.96" width="9.31" height="9.46" fill="#e0d9e2"/>
<rect x="127.38" y="289.96" width="9.31" height="9.46" fill="#c4ced4"/>
<rect x="136.19" y="289.96" width="9.31" height="9.46" fill="#ccd2d8"/>
<rect x="144.99" y="289.96" width="9.31" height="9.46" fill="#a1bdc9"/>
<rect x="153.80" y="289.96" width="9.31" height="9.46" fill="#c8d0d6"/>
<rect x="162.60" y="289.96" width="9.31" height="9.46" fill="#a3beca"/>
<rect x="171.41" y="289.96" width="9.31" height="9.46" fill="#7da3c3"/>
<rect x="180.22" y="289.96" width="9.31" height="9.46" fill="#80a5c3"/>
<rect x="189.02" y="289.96" width="9.31" height="9.46" fill="#6b8dbf"/>
<rect x="197.83" y="289.96" width="9.31" height="9.46" fill="#97b7c7"/>
<rect x="206.63" y="289.96" width="9.31" height="9.46" fill="#5e48a8"/>
<rect x="215.44" y="289.96" width="9.31" height="9.46" fill="#5e49a9"/>
<rect x="224.24" y="289.96" width="9.31" height="9.46" fill="#606db8"/>
<rect x="233.05" y="289.96" width="9.31" height="9.46" fill="#5d3ca0"/>
<rect x="241.86" y="289.96" width="9.31" height="9.46" fill="#44135a"/>
<rect x="250.66" y="289.96" width="9.31" height="9.46" fill="#301437"/>
<rect x="259.47" y="289.96" width="9.31" height="9.46" fill="#721d4f"/>
<rect x="268.27" y="289.96" width="9.31" height="9.46" fill="#d1b5a1"/>
<rect x="277.08" y="289.96" width="9.31" height="9.46" fill="#e0d6da"/>
<rect x="285.88" y="289.96" width="9.31" height="9.46" fill="#c48267"/>
<rect x="294.69" y="289.96" width="9.31" height="9.46" fill="#b55c54"/>
<rect x="303.49" y="289.96" width="9.31" height="9.46" fill="#481341"/>
<rect x="312.30" y="289.96" width="9.31" height="9.46" fill="#2f1436"/>
<rect x="321.11" y="289.96" width="9.31" height="9.46" fill="#572588"/>
<rect x="329.91" y="289.96" width="9.31" height="9.46" fill="#6067b6"/>
<rect x="338.72" y="289.96" width="9.31" height="9.46" fill="#6b8cbf"/>
<rect x="347.52" y="289.96" width="9.31" height="9.46" fill="#9cb9c8"/>
<rect x="356.33" y="289.96" width="9.31" height="9.46" fill="#81a6c3"/>
<rect x="365.13" y="289.96" width="9.31" height="9.46" fill="#b2c6ce"/>
<rect x="373.94" y="289.96" width="9.31" height="9.46" fill="#9cb9c8"/>
<rect x="382.74" y="289.96" width="9.31" height="9.46" fill="#9ebbc9"/>
<rect x="391.55" y="289.96" width="9.31" height="9.46" fill="#b9c9d0"/>
<rect x="400.36" y="289.96" width="9.31" height="9.46" fill="#d9d8de"/>
<rect x="409.16" y="289.96" width="9.31" height="9.46" fill="#d7d7dd"/>
<rect x="417.97" y="289.96" width="9.31" height="9.46" fill="#e0d9e2"/>
<rect x="426.77" y="289.96" width="9.31" height="9.46" fill="#dbd8df"/>
<rect x="435.58" y="289.96" width="9.31" height="9.46" fill="#e2d9e2"/>
<rect x="444.38" y="289.96" width="9.31" height="9.46" fill="#e0d9e2"/>
<rect x="453.19" y="289.96" width="9.31" height="9.46" fill="#ded9e1"/>
<rect x="462.00" y="289.96" width="9.31" height="9.46" fill="#ded9e1"/>
<rect x="470.80" y="289.96" width="9.31" height="9.46" fill="#c8d0d6"/>
<rect x="479.61" y="289.96" width="9.31" height="9.46" fill="#ded9e1"/>
<rect x="488.41" y="289.96" width="9.31" height="9.46" fill="#ded9e1"/>
<rect x="497.22" y="289.96" width="9.31" height="9.46" fill="#e2d9e2"/>
<rect x="506.02" y="289.96" width="9.31" height="9.46" fill="#e2d9e2"/>
<rect x="514.83" y="289.96" width="9.31" height="9.46" fill="#e2d9e2"/>
<rect x="523.63" y="289.96" width="9.31" height="9.46" fill="#e0d9e2"/>
<rect x="118.58" y="298.92" width="9.31" height="9.46" fill="#d9d8de"/>
<rect x="127.38" y="298.92" width="9.31" height="9.46" fill="#c8d0d6"/>
<rect x="136.19" y="298.92" width="9.31" height="9.46" fill="#beccd2"/>
<rect x="144.99" y="298.92" width="9.31" height="9.46" fill="#d0d4d9"/>
<rect x="153.80" y="298.92" width="9.31" height="9.46" fill="#7ea4c3"/>
<rect x="162.60" y="298.92" width="9.31" height="9.46" fill="#a0bcc9"/>
<rect x="171.41" y="298.92" width="9.31" height="9.46" fill="#a7c0cb"/>
<rect x="180.22" y="298.92" width="9.31" height="9.46" fill="#6a8bbf"/>
<rect x="189.02" y="298.92" width="9.31" height="9.46" fill="#6888be"/>
<rect x="197.83" y="298.92" width="9.31" height="9.46" fill="#6989be"/>
<rect x="206.63" y="298.92" width="9.31" height="9.46" fill="#5d3ca0"/>
<rect x="215.44" y="298.92" width="9.31" height="9.46" fill="#5d42a4"/>
<rect x="224.24" y="298.92" width="9.31" height="9.46" fill="#301338"/>
<rect x="233.05" y="298.92" width="9.31" height="9.46" fill="#551f7f"/>
<rect x="241.86" y="298.92" width="9.31" height="9.46" fill="#bb6857"/>
<rect x="250.66" y="298.92" width="9.31" height="9.46" fill="#9f3c50"/>
<rect x="259.47" y="298.92" width="9.31" height="9.46" fill="#cda88f"/>
<rect x="268.27" y="298.92" width="9.31" height="9.46" fill="#cda68c"/>
<rect x="277.08" y="298.92" width="9.31" height="9.46" fill="#c58569"/>
<rect x="285.88" y="298.92" width="9.31" height="9.46" fill="#711d4f"/>
<rect x="294.69" y="298.92" width="9.31" height="9.46" fill="#341238"/>
<rect x="303.49" y="298.92" width="9.31" height="9.46" fill="#311337"/>
<rect x="312.30" y="298.92" width="9.31" height="9.46" fill="#606cb8"/>
<rect x="321.11" y="298.92" width="9.31" height="9.46" fill="#6069b7"/>
<rect x="329.91" y="298.92" width="9.31" height="9.46" fill="#606eb8"/>
<rect x="338.72" y="298.92" width="9.31" height="9.46" fill="#6c8ebf"/>
<rect x="347.52" y="298.92" width="9.31" height="9.46" fill="#9cb9c8"/>
<rect x="356.33" y="298.92" width="9.31" height="9.46" fill="#a1bdc9"/>
<rect x="365.13" y="298.92" width="9.31" height="9.46" fill="#ccd2d8"/>
<rect x="373.94" y="298.92" width="9.31" height="9.46" fill="#9ebbc9"/>
<rect x="382.74" y="298.92" width="9.31" height="9.46" fill="#d2d5db"/>
<rect x="391.55" y="298.92" width="9.31" height="9.46" fill="#d1d5da"/>
<rect x="400.36" y="298.92" width="9.31" height="9.46" fill="#d5d6dc"/>
<rect x="409.16" y="298.92" width="9.31" height="9.46" fill="#e1d9e2"/>
<rect x="417.97" y="298.92" width="9.31" height="9.46" fill="#ded9e1"/>
<rect x="426.77" y="298.92" width="9.31" height="9.46" fill="#ded9e1"/>
<rect x="435.58" y="298.92" width="9.31" height="9.46" fill="#e0d9e2"/>
<rect x="444.38" y="298.92" width="9.31" height="9.46" fill="#dfd9e1"/>
<rect x="453.19" y="298.92" width="9.31" height="9.46" fill="#e2d9e2"/>
<rect x="462.00" y="298.92" width="9.31" height="9.46" fill="#dcd9df"/>
<rect x="470.80" y="298.92" width="9.31" height="9.46" fill="#dbd8df"/>
<rect x="479.61" y="298.92" width="9.31" height="9.46" fill="#e1d9e2"/>
<rect x="488.41" y="298.92" width="9.31" height="9.46" fill="#e2d9e2"/>
<rect x="497.22" y="298.92" width="9.31" height="9.46" fill="#e2d9e2"/>
<rect x="514.83" y="298.92" width="9.31" height="9.46" fill="#e1d9e2"/>
<rect x="523.63" y="298.92" width="9.31" height="9.46" fill="#ded9e1"/>
<rect x="118.58" y="307.87" width="9.31" height="9.46" fill="#e0d9e2"/>
<rect x="127.38" y="307.87" width="9.31" height="9.46" fill="#ddd9e0"/>
<rect x="136.19" y="307.87" width="9.31" height="9.46" fill="#c4ced4"/>
<rect x="144.99" y="307.87" width="9.31" height="9.46" fill="#cdd3d8"/>
<rect x="153.80" y="307.87" width="9.31" height="9.46" fill="#b3c6ce"/>
<rect x="162.60" y="307.87" width="9.31" height="9.46" fill="#6b8dbf"/>
<rect x="171.41" y="307.87" width="9.31" height="9.46" fill="#606cb8"/>
<rect x="180.22" y="307.87" width="9.31" height="9.46" fill="#6989be"/>
<rect x="189.02" y="307.87" width="9.31" height="9.46" fill="#6a8bbf"/>
<rect x="197.83" y="307.87" width="9.31" height="9.46" fill="#606eb8"/>
<rect x="206.63" y="307.87" width="9.31" height="9.46" fill="#5d41a3"/>
<rect x="215.44" y="307.87" width="9.31" height="9.46" fill="#331237"/>
<rect x="224.24" y="307.87" width="9.31" height="9.46" fill="#59288d"/>
<rect x="233.05" y="307.87" width="9.31" height="9.46" fill="#471340"/>
<rect x="241.86" y="307.87" width="9.31" height="9.46" fill="#a54350"/>
<rect x="250.66" y="307.87" width="9.31" height="9.46" fill="#973450"/>
<rect x="259.47" y="307.87" width="9.31" height="9.46" fill="#bb6857"/>
<rect x="268.27" y="307.87" width="9.31" height="9.46" fill="#b86155"/>
<rect x="277.08" y="307.87" width="9.31" height="9.46" fill="#c89174"/>
<rect x="285.88" y="307.87" width="9.31" height="9.46" fill="#781f4f"/>
<rect x="294.69" y="307.87" width="9.31" height="9.46" fill="#5b1648"/>
<rect x="303.49" y="307.87" width="9.31" height="9.46" fill="#5d3ea1"/>
<rect x="312.30" y="307.87" width="9.31" height="9.46" fill="#81a6c3"/>
<rect x="321.11" y="307.87" width="9.31" height="9.46" fill="#82a7c3"/>
<rect x="329.91" y="307.87" width="9.31" height="9.46" fill="#81a6c3"/>
<rect x="338.72" y="307.87" width="9.31" height="9.46" fill="#7fa5c3"/>
<rect x="347.52" y="307.87" width="9.31" height="9.46" fill="#bbcad1"/>
<rect x="356.33" y="307.87" width="9.31" height="9.46" fill="#bfccd3"/>
<rect x="365.13" y="307.87" width="9.31" height="9.46" fill="#d0d4d9"/>
<rect x="373.94" y="307.87" width="9.31" height="9.46" fill="#c2ced4"/>
<rect x="382.74" y="307.87" width="9.31" height="9.46" fill="#d5d6dc"/>
<rect x="391.55" y="307.87" width="9.31" height="9.46" fill="#d6d7dd"/>
<rect x="400.36" y="307.87" width="9.31" height="9.46" fill="#c9d1d7"/>
<rect x="409.16" y="307.87" width="9.31" height="9.46" fill="#e1d9e2"/>
<rect x="417.97" y="307.87" width="9.31" height="9.46" fill="#d8d8de"/>
<rect x="426.77" y="307.87" width="9.31" height="9.46" fill="#c9d1d7"/>
<rect x="435.58" y="307.87" width="9.31" height="9.46" fill="#dcd9df"/>
<rect x="444.38" y="307.87" width="9.31" height="9.46" fill="#e2d9e2"/>
<rect x="453.19" y="307.87" width="9.31" height="9.46" fill="#ded9e1"/>
<rect x="462.00" y="307.87" width="9.31" height="9.46" fill="#dfd9e1"/>
<rect x="470.80" y="307.87" width="9.31" height="9.46" fill="#e0d9e2"/>
<rect x="479.61" y="307.87" width="9.31" height="9.46" fill="#e2d9e2"/>
<rect x="488.41" y="307.87" width="9.31" height="9.46" fill="#e2d9e2"/>
<rect x="497.22" y="307.87" width="9.31" height="9.46" fill="#e1d9e2"/>
<rect x="506.02" y="307.87" width="9.31" height="9.46" fill="#e2d9e2"/>
<rect x="514.83" y="307.87" width="9.31" height="9.46" fill="#d9d8de"/>
<rect x="523.63" y="307.87" width="9.31" height="9.46" fill="#e2d9e2"/>
<rect x="118.58" y="316.83" width="9.31" height="9.46" fill="#e0d9e2"/>
<rect x="127.38" y="316.83" width="9.31" height="9.46" fill="#d5d6dc"/>
<rect x="136.19" y="316.83" width="9.31" height="9.46" fill="#bccbd1"/>
<rect x="144.99" y="316.83" width="9.31" height="9.46" fill="#a4beca"/>
<rect x="153.80" y="316.83" width="9.31" height="9.46" fill="#9ebbc9"/>
<rect x="162.60" y="316.83" width="9.31" height="9.46" fill="#6b8cbf"/>
<rect x="171.41" y="316.83" width="9.31" height="9.46" fill="#93b4c6"/>
<rect x="180.22" y="316.83" width="9.31" height="9.46" fill="#6888be"/>
<rect x="189.02" y="316.83" width="9.31" height="9.46" fill="#6c8ebf"/>
<rect x="197.83" y="316.83" width="9.31" height="9.46" fill="#5d3ea1"/>
<rect x="206.63" y="316.83" width="9.31" height="9.46" fill="#6b8cbf"/>
<rect x="215.44" y="316.83" width="9.31" height="9.46" fill="#59298e"/>
<rect x="224.24" y="316.83" width="9.31" height="9.46" fill="#301338"/>
<rect x="233.05" y="316.83" width="9.31" height="9.46" fill="#b96456"/>
<rect x="241.86" y="316.83" width="9.31" height="9.46" fill="#c89073"/>
<rect x="250.66" y="316.83" width="9.31" height="9.46" fill="#c48166"/>
<rect x="259.47" y="316.83" width="9.31" height="9.46" fill="#d4bdad"/>
<rect x="268.27" y="316.83" width="9.31" height="9.46" fill="#a24050"/>
<rect x="277.08" y="316.83" width="9.31" height="9.46" fill="#a74650"/>
<rect x="285.88" y="316.83" width="9.31" height="9.46" fill="#311337"/>
<rect x="294.69" y="316.83" width="9.31" height="9.46" fill="#59288d"/>
<rect x="303.49" y="316.83" width="9.31" height="9.46" fill="#6067b6"/>
<rect x="312.30" y="316.83" width="9.31" height="9.46" fill="#7fa5c3"/>
<rect x="321.11" y="316.83" width="9.31" height="9.46" fill="#9ebbc9"/>
<rect x="329.91" y="316.83" width="9.31" height="9.46" fill="#9cb9c8"/>
<rect x="338.72" y="316.83" width="9.31" height="9.46" fill="#c5cfd5"/>
<rect x="347.52" y="316.83" width="9.31" height="9.46" fill="#cdd3d8"/>
<rect x="356.33" y="316.83" width="9.31" height="9.46" fill="#a3beca"/>
<rect x="365.13" y="316.83" width="9.31" height="9.46" fill="#c4ced4"/>
<rect x="373.94" y="316.83" width="9.31" height="9.46" fill="#d5d6dc"/>
<rect x="382.74" y="316.83" width="9.31" height="9.46" fill="#d9d8de"/>
<rect x="391.55" y="316.83" width="9.31" height="9.46" fill="#e0d9e2"/>
<rect x="400.36" y="316.83" width="9.31" height="9.46" fill="#dfd9e1"/>
<rect x="409.16" y="316.83" width="9.31" height="9.46" fill="#dfd9e1"/>
<rect x="417.97" y="316.83" width="9.31" height="9.46" fill="#ded9e1"/>
<rect x="426.77" y="316.83" width="9.31" height="9.46" fill="#c4ced4"/>
<rect x="435.58" y="316.83" width="9.31" height="9.46" fill="#ddd9e0"/>
<rect x="444.38" y="316.83" width="9.31" height="9.46" fill="#e0d9e2"/>
<rect x="453.19" y="316.83" width="9.31" height="9.46" fill="#dad8df"/>
<rect x="462.00" y="316.83" width="9.31" height="9.46" fill="#e0d9e2"/>
<rect x="470.80" y="316.83" width="9.31" height="9.46" fill="#ddd9e0"/>
<rect x="479.61" y="316.83" width="9.31" height="9.46" fill="#dcd9e0"/>
<rect x="488.41" y="316.83" width="9.31" height="9.46" fill="#ded9e1"/>
<rect x="497.22" y="316.83" width="9.31" height="9.46" fill="#e2d9e2"/>
<rect x="506.02" y="316.83" width="9.31" height="9.46" fill="#e2d9e2"/>
<rect x="514.83" y="316.83" width="9.31" height="9.46" fill="#e2d9e2"/>
<rect x="523.63" y="316.83" width="9.31" height="9.46" fill="#e2d9e2"/>
<rect x="118.58" y="325.79" width="9.31" height="9.46" fill="#c4ced4"/>
<rect x="127.38" y="325.79" width="9.31" height="9.46" fill="#c2ced4"/>
<rect x="136.19" y="325.79" width="9.31" height="9.46" fill="#cbd2d7"/>
<rect x="144.99" y="325.79" width="9.31" height="9.46" fill="#6a8bbf"/>
<rect x="153.80" y="325.79" width="9.31" height="9.46" fill="#9cb9c8"/>
<rect x="162.60" y="325.79" width="9.31" height="9.46" fill="#7da3c3"/>
<rect x="171.41" y="325.79" width="9.31" height="9.46" fill="#6069b7"/>
<rect x="180.22" y="325.79" width="9.31" height="9.46" fill="#6c8ebf"/>
<rect x="189.02" y="325.79" width="9.31" height="9.46" fill="#6a8bbf"/>
<rect x="197.83" y="325.79" width="9.31" height="9.46" fill="#606ab7"/>
<rect x="206.63" y="325.79" width="9.31" height="9.46" fill="#59288d"/>
<rect x="215.44" y="325.79" width="9.31" height="9.46" fill="#3c114b"/>
<rect x="224.24" y="325.79" width="9.31" height="9.46" fill="#973450"/>
<rect x="233.05" y="325.79" width="9.31" height="9.46" fill="#963350"/>
<rect x="241.86" y="325.79" width="9.31" height="9.46" fill="#ddd1d1"/>
<rect x="250.66" y="325.79" width="9.31" height="9.46" fill="#c68a6d"/>
<rect x="259.47" y="325.79" width="9.31" height="9.46" fill="#c99578"/>
<rect x="268.27" y="325.79" width="9.31" height="9.46" fill="#973450"/>
<rect x="277.08" y="325.79" width="9.31" height="9.46" fill="#571647"/>
<rect x="285.88" y="325.79" width="9.31" height="9.46" fill="#5d42a4"/>
<rect x="294.69" y="325.79" width="9.31" height="9.46" fill="#6067b6"/>
<rect x="303.49" y="325.79" width="9.31" height="9.46" fill="#606db8"/>
<rect x="312.30" y="325.79" width="9.31" height="9.46" fill="#80a5c3"/>
<rect x="321.11" y="325.79" width="9.31" height="9.46" fill="#82a7c3"/>
<rect x="329.91" y="325.79" width="9.31" height="9.46" fill="#bbcad1"/>
<rect x="338.72" y="325.79" width="9.31" height="9.46" fill="#9ebbc9"/>
<rect x="347.52" y="325.79" width="9.31" height="9.46" fill="#c1cdd3"/>
<rect x="356.33" y="325.79" width="9.31" height="9.46" fill="#d3d6db"/>
<rect x="365.13" y="325.79" width="9.31" height="9.46" fill="#d9d8de"/>
<rect x="373.94" y="325.79" width="9.31" height="9.46" fill="#c7d0d5"/>
<rect x="382.74" y="325.79" width="9.31" height="9.46" fill="#ded9e1"/>
<rect x="391.55" y="325.79" width="9.31" height="9.46" fill="#e2d9e2"/>
<rect x="400.36" y="325.79" width="9.31" height="9.46" fill="#e2d9e2"/>
<rect x="409.16" y="325.79" width="9.31" height="9.46" fill="#dcd9e0"/>
<rect x="417.97" y="325.79" width="9.31" height="9.46" fill="#e2d9e2"/>
<rect x="426.77" y="325.79" width="9.31" height="9.46" fill="#e1d9e2"/>
<rect x="435.58" y="325.79" width="9.31" height="9.46" fill="#dcd9e0"/>
<rect x="444.38" y="325.79" width="9.31" height="9.46" fill="#e0d9e2"/>
<rect x="453.19" y="325.79" width="9.31" height="9.46" fill="#e1d9e2"/>
<rect x="462.00" y="325.79" width="9.31" height="9.46" fill="#ded9e1"/>
<rect x="470.80" y="325.79" width="9.31" height="9.46" fill="#dfd9e1"/>
<rect x="479.61" y="325.79" width="9.31" height="9.46" fill="#dcd9df"/>
<rect x="488.41" y="325.79" width="9.31" height="9.46" fill="#ded9e1"/>
<rect x="497.22" y="325.79" width="9.31" height="9.46" fill="#ded9e1"/>
<rect x="506.02" y="325.79" width="9.31" height="9.46" fill="#ded9e1"/>
<rect x="514.83" y="325.79" width="9.31" height="9.46" fill="#ded9e1"/>
<rect x="523.63" y="325.79" width="9.31" height="9.46" fill="#ded9e1"/>
<rect x="109.77" y="334.74" width="9.31" height="9.46" fill="#e1d9e2"/>
<rect x="118.58" y="334.74" width="9.31" height="9.46" fill="#d3d6db"/>
<rect x="127.38" y="334.74" width="9.31" height="9.46" fill="#bfccd3"/>
<rect x="136.19" y="334.74" width="9.31" height="9.46" fill="#9cb9c8"/>
<rect x="144.99" y="334.74" width="9.31" height="9.46" fill="#adc3cd"/>
<rect x="153.80" y="334.74" width="9.31" height="9.46" fill="#6068b6"/>
<rect x="162.60" y="334.74" width="9.31" height="9.46" fill="#606eb8"/>
<rect x="171.41" y="334.74" width="9.31" height="9.46" fill="#6989be"/>
<rect x="180.22" y="334.74" width="9.31" height="9.46" fill="#606db8"/>
<rect x="189.02" y="334.74" width="9.31" height="9.46" fill="#5e4dab"/>
<rect x="197.83" y="334.74" width="9.31" height="9.46" fill="#311339"/>
<rect x="206.63" y="334.74" width="9.31" height="9.46" fill="#3e1150"/>
<rect x="215.44" y="334.74" width="9.31" height="9.46" fill="#4f1444"/>
<rect x="224.24" y="334.74" width="9.31" height="9.46" fill="#802350"/>
<rect x="233.05" y="334.74" width="9.31" height="9.46" fill="#d3baaa"/>
<rect x="241.86" y="334.74" width="9.31" height="9.46" fill="#b75f55"/>
<rect x="250.66" y="334.74" width="9.31" height="9.46" fill="#9c3950"/>
<rect x="259.47" y="334.74" width="9.31" height="9.46" fill="#b65e54"/>
<rect x="268.27" y="334.74" width="9.31" height="9.46" fill="#31123a"/>
<rect x="277.08" y="334.74" width="9.31" height="9.46" fill="#5e46a6"/>
<rect x="285.88" y="334.74" width="9.31" height="9.46" fill="#6068b6"/>
<rect x="294.69" y="334.74" width="9.31" height="9.46" fill="#6a8bbf"/>
<rect x="303.49" y="334.74" width="9.31" height="9.46" fill="#6069b7"/>
<rect x="312.30" y="334.74" width="9.31" height="9.46" fill="#80a5c3"/>
<rect x="321.11" y="334.74" width="9.31" height="9.46" fill="#b5c7cf"/>
<rect x="329.91" y="334.74" width="9.31" height="9.46" fill="#b9c9d0"/>
<rect x="338.72" y="334.74" width="9.31" height="9.46" fill="#9ebbc9"/>
<rect x="347.52" y="334.74" width="9.31" height="9.46" fill="#d1d5da"/>
<rect x="356.33" y="334.74" width="9.31" height="9.46" fill="#d4d6dc"/>
<rect x="365.13" y="334.74" width="9.31" height="9.46" fill="#dfd9e1"/>
<rect x="373.94" y="334.74" width="9.31" height="9.46" fill="#dad8df"/>
<rect x="382.74" y="334.74" width="9.31" height="9.46" fill="#dfd9e1"/>
<rect x="391.55" y="334.74" width="9.31" height="9.46" fill="#dcd9e0"/>
<rect x="400.36" y="334.74" width="9.31" height="9.46" fill="#d9d8de"/>
<rect x="409.16" y="334.74" width="9.31" height="9.46" fill="#e2d9e2"/>
<rect x="417.97" y="334.74" width="9.31" height="9.46" fill="#e2d9e2"/>
<rect x="426.77" y="334.74" width="9.31" height="9.46" fill="#e2d9e2"/>
<rect x="435.58" y="334.74" width="9.31" height="9.46" fill="#dcd9df"/>
<rect x="444.38" y="334.74" width="9.31" height="9.46" fill="#e0d9e2"/>
<rect x="453.19" y="334.74" width="9.31" height="9.46" fill="#e2d9e2"/>
<rect x="462.00" y="334.74" width="9.31" height="9.46" fill="#e1d9e2"/>
<rect x="470.80" y="334.74" width="9.31" height="9.46" fill="#ded9e1"/>
<rect x="479.61" y="334.74" width="9.31" height="9.46" fill="#ded9e1"/>
<rect x="488.41" y="334.74" width="9.31" height="9.46" fill="#ded9e1"/>
<rect x="497.22" y="334.74" width="9.31" height="9.46" fill="#e0d9e2"/>
<rect x="506.02" y="334.74" width="9.31" height="9.46" fill="#ded9e1"/>
<rect x="514.83" y="334.74" width="9.31" height="9.46" fill="#e2d9e2"/>
<rect x="523.63" y="334.74" width="9.31" height="9.46" fill="#e0d9e2"/>
<rect x="109.77" y="343.70" width="9.31" height="9.46" fill="#e0d9e2"/>
<rect x="118.58" y="343.70" width="9.31" height="9.46" fill="#c4ced4"/>
<rect x="127.38" y="343.70" width="9.31" height="9.46" fill="#d1d5da"/>
<rect x="136.19" y="343.70" width="9.31" height="9.46" fill="#81a6c3"/>
<rect x="144.99" y="343.70" width="9.31" height="9.46" fill="#7da3c3"/>
<rect x="153.80" y="343.70" width="9.31" height="9.46" fill="#99b8c8"/>
<rect x="162.60" y="343.70" width="9.31" height="9.46" fill="#7ea4c3"/>
<rect x="171.41" y="343.70" width="9.31" height="9.46" fill="#6b8cbf"/>
<rect x="180.22" y="343.70" width="9.31" height="9.46" fill="#6069b7"/>
<rect x="189.02" y="343.70" width="9.31" height="9.46" fill="#531e7c"/>
<rect x="197.83" y="343.70" width="9.31" height="9.46" fill="#501a74"/>
<rect x="206.63" y="343.70" width="9.31" height="9.46" fill="#361138"/>
<rect x="215.44" y="343.70" width="9.31" height="9.46" fill="#33113d"/>
<rect x="224.24" y="343.70" width="9.31" height="9.46" fill="#bd6c5a"/>
<rect x="233.05" y="343.70" width="9.31" height="9.46" fill="#b65d54"/>
<rect x="241.86" y="343.70" width="9.31" height="9.46" fill="#9b3850"/>
<rect x="250.66" y="343.70" width="9.31" height="9.46" fill="#a03e50"/>
<rect x="259.47" y="343.70" width="9.31" height="9.46" fill="#341238"/>
<rect x="268.27" y="343.70" width="9.31" height="9.46" fill="#562284"/>
<rect x="277.08" y="343.70" width="9.31" height="9.46" fill="#606cb8"/>
<rect x="285.88" y="343.70" width="9.31" height="9.46" fill="#93b4c6"/>
<rect x="294.69" y="343.70" width="9.31" height="9.46" fill="#7ca2c2"/>
<rect x="303.49" y="343.70" width="9.31" height="9.46" fill="#adc3cd"/>
<rect x="312.30" y="343.70" width="9.31" height="9.46" fill="#7da3c3"/>
<rect x="321.11" y="343.70" width="9.31" height="9.46" fill="#b6c8cf"/>
<rect x="329.91" y="343.70" width="9.31" height="9.46" fill="#bbcad1"/>
<rect x="338.72" y="343.70" width="9.31" height="9.46" fill="#d2d5db"/>
<rect x="347.52" y="343.70" width="9.31" height="9.46" fill="#a7c0cb"/>
<rect x="356.33" y="343.70" width="9.31" height="9.46" fill="#d6d7dd"/>
<rect x="365.13" y="343.70" width="9.31" height="9.46" fill="#e1d9e2"/>
<rect x="373.94" y="343.70" width="9.31" height="9.46" fill="#e2d9e2"/>
<rect x="382.74" y="343.70" width="9.31" height="9.46" fill="#e2d9e2"/>
<rect x="391.55" y="343.70" width="9.31" height="9.46" fill="#e2d9e2"/>
<rect x="400.36" y="343.70" width="9.31" height="9.46" fill="#e2d9e2"/>
<rect x="409.16" y="343.70" width="9.31" height="9.46" fill="#e2d9e2"/>
<rect x="435.58" y="343.70" width="9.31" height="9.46" fill="#e2d9e2"/>
<rect x="444.38" y="343.70" width="9.31" height="9.46" fill="#e2d9e2"/>
<rect x="453.19" y="343.70" width="9.31" height="9.46" fill="#dfd9e1"/>
<rect x="462.00" y="343.70" width="9.31" height="9.46" fill="#e2d9e2"/>
<rect x="470.80" y="343.70" width="9.31" height="9.46" fill="#e2d9e2"/>
<rect x="479.61" y="343.70" width="9.31" height="9.46" fill="#e2d9e2"/>
<rect x="488.41" y="343.70" width="9.31" height="9.46" fill="#e0d9e2"/>
<rect x="497.22" y="343.70" width="9.31" height="9.46" fill="#e0d9e2"/>
<rect x="506.02" y="343.70" width="9.31" height="9.46" fill="#e1d9e2"/>
<rect x="514.83" y="343.70" width="9.31" height="9.46" fill="#e1d9e2"/>
<rect x="523.63" y="343.70" width="9.31" height="9.46" fill="#e2d9e2"/>
<rect x="109.77" y="352.66" width="9.31" height="9.46" fill="#d8d8de"/>
<rect x="118.58" y="352.66" width="9.31" height="9.46" fill="#d8d8de"/>
<rect x="127.38" y="352.66" width="9.31" height="9.46" fill="#cdd3d8"/>
<rect x="136.19" y="352.66" width="9.31" height="9.46" fill="#b6c8cf"/>
<rect x="144.99" y="352.66" width="9.31" height="9.46" fill="#7fa5c3"/>
<rect x="153.80" y="352.66" width="9.31" height="9.46" fill="#acc2cc"/>
<rect x="162.60" y="352.66" width="9.31" height="9.46" fill="#81a6c3"/>
<rect x="171.41" y="352.66" width="9.31" height="9.46" fill="#7da3c3"/>
<rect x="180.22" y="352.66" width="9.31" height="9.46" fill="#5e49a9"/>
<rect x="189.02" y="352.66" width="9.31" height="9.46" fill="#301338"/>
<rect x="197.83" y="352.66" width="9.31" height="9.46" fill="#511a75"/>
<rect x="206.63" y="352.66" width="9.31" height="9.46" fill="#2f1436"/>
<rect x="215.44" y="352.66" width="9.31" height="9.46" fill="#351138"/>
<rect x="224.24" y="352.66" width="9.31" height="9.46" fill="#c78e71"/>
<rect x="233.05" y="352.66" width="9.31" height="9.46" fill="#a54450"/>
<rect x="241.86" y="352.66" width="9.31" height="9.46" fill="#44123f"/>
<rect x="250.66" y="352.66" width="9.31" height="9.46" fill="#341238"/>
<rect x="259.47" y="352.66" width="9.31" height="9.46" fill="#3a1149"/>
<rect x="268.27" y="352.66" width="9.31" height="9.46" fill="#572588"/>
<rect x="277.08" y="352.66" width="9.31" height="9.46" fill="#6069b7"/>
<rect x="285.88" y="352.66" width="9.31" height="9.46" fill="#6888be"/>
<rect x="294.69" y="352.66" width="9.31" height="9.46" fill="#9cb9c8"/>
<rect x="303.49" y="352.66" width="9.31" height="9.46" fill="#81a6c3"/>
<rect x="312.30" y="352.66" width="9.31" height="9.46" fill="#b9c9d0"/>
<rect x="321.11" y="352.66" width="9.31" height="9.46" fill="#c1cdd3"/>
<rect x="329.91" y="352.66" width="9.31" height="9.46" fill="#bfccd3"/>
<rect x="338.72" y="352.66" width="9.31" height="9.46" fill="#c4ced4"/>
<rect x="347.52" y="352.66" width="9.31" height="9.46" fill="#c2ced4"/>
<rect x="356.33" y="352.66" width="9.31" height="9.46" fill="#d9d8de"/>
<rect x="365.13" y="352.66" width="9.31" height="9.46" fill="#e0d9e2"/>
<rect x="373.94" y="352.66" width="9.31" height="9.46" fill="#e2d9e2"/>
<rect x="391.55" y="352.66" width="9.31" height="9.46" fill="#e0d9e2"/>
<rect x="400.36" y="352.66" width="9.31" height="9.46" fill="#e2d9e2"/>
<rect x="417.97" y="352.66" width="9.31" height="9.46" fill="#e0d9e2"/>
<rect x="426.77" y="352.66" width="9.31" height="9.46" fill="#e2d9e2"/>
<rect x="435.58" y="352.66" width="9.31" height="9.46" fill="#e0d9e2"/>
<rect x="444.38" y="352.66" width="9.31" height="9.46" fill="#e2d9e2"/>
<rect x="453.19" y="352.66" width="9.31" height="9.46" fill="#e2d9e2"/>
<rect x="462.00" y="352.66" width="9.31" height="9.46" fill="#e2d9e2"/>
<rect x="488.41" y="352.66" width="9.31" height="9.46" fill="#e2d9e2"/>
<rect x="497.22" y="352.66" width="9.31" height="9.46" fill="#e2d9e2"/>
<rect x="506.02" y="352.66" width="9.31" height="9.46" fill="#e2d9e2"/>
<rect x="514.83" y="352.66" width="9.31" height="9.46" fill="#e2d9e2"/>
<rect x="523.63" y="352.66" width="9.31" height="9.46" fill="#e2d9e2"/>
<rect x="109.77" y="361.61" width="9.31" height="9.46" fill="#e2d9e2"/>
<rect x="118.58" y="361.61" width="9.31" height="9.46" fill="#dcd9e0"/>
<rect x="127.38" y="361.61" width="9.31" height="9.46" fill="#a9c1cb"/>
<rect x="136.19" y="361.61" width="9.31" height="9.46" fill="#bfccd3"/>
<rect x="144.99" y="361.61" width="9.31" height="9.46" fill="#b5c7cf"/>
<rect x="153.80" y="361.61" width="9.31" height="9.46" fill="#6989be"/>
<rect x="162.60" y="361.61" width="9.31" height="9.46" fill="#6b8cbf"/>
<rect x="171.41" y="361.61" width="9.31" height="9.46" fill="#5d3ca0"/>
<rect x="180.22" y="361.61" width="9.31" height="9.46" fill="#6b8dbf"/>
<rect x="189.02" y="361.61" width="9.31" height="9.46" fill="#6069b7"/>
<rect x="197.83" y="361.61" width="9.31" height="9.46" fill="#481563"/>
<rect x="206.63" y="361.61" width="9.31" height="9.46" fill="#501444"/>
<rect x="215.44" y="361.61" width="9.31" height="9.46" fill="#bc6a58"/>
<rect x="224.24" y="361.61" width="9.31" height="9.46" fill="#341238"/>
<rect x="233.05" y="361.61" width="9.31" height="9.46" fill="#c5866a"/>
<rect x="241.86" y="361.61" width="9.31" height="9.46" fill="#3e1150"/>
<rect x="250.66" y="361.61" width="9.31" height="9.46" fill="#431359"/>
<rect x="259.47" y="361.61" width="9.31" height="9.46" fill="#6069b7"/>
<rect x="268.27" y="361.61" width="9.31" height="9.46" fill="#82a7c3"/>
<rect x="277.08" y="361.61" width="9.31" height="9.46" fill="#6b8dbf"/>
<rect x="285.88" y="361.61" width="9.31" height="9.46" fill="#7ea4c3"/>
<rect x="294.69" y="361.61" width="9.31" height="9.46" fill="#9cb9c8"/>
<rect x="303.49" y="361.61" width="9.31" height="9.46" fill="#b9c9d0"/>
<rect x="312.30" y="361.61" width="9.31" height="9.46" fill="#bfccd3"/>
<rect x="321.11" y="361.61" width="9.31" height="9.46" fill="#bbcad1"/>
<rect x="329.91" y="361.61" width="9.31" height="9.46" fill="#d1d5da"/>
<rect x="338.72" y="361.61" width="9.31" height="9.46" fill="#c1cdd3"/>
<rect x="347.52" y="361.61" width="9.31" height="9.46" fill="#dad8df"/>
<rect x="356.33" y="361.61" width="9.31" height="9.46" fill="#c5cfd5"/>
<rect x="365.13" y="361.61" width="9.31" height="9.46" fill="#e2d9e2"/>
<rect x="373.94" y="361.61" width="9.31" height="9.46" fill="#e2d9e2"/>
<rect x="391.55" y="361.61" width="9.31" height="9.46" fill="#e2d9e2"/>
<rect x="400.36" y="361.61" width="9.31" height="9.46" fill="#e2d9e2"/>
<rect x="417.97" y="361.61" width="9.31" height="9.46" fill="#e2d9e2"/>
<rect x="426.77" y="361.61" width="9.31" height="9.46" fill="#ddd9e0"/>
<rect x="435.58" y="361.61" width="9.31" height="9.46" fill="#e2d9e2"/>
<rect x="444.38" y="361.61" width="9.31" height="9.46" fill="#e2d9e2"/>
<rect x="453.19" y="361.61" width="9.31" height="9.46" fill="#e0d9e2"/>
<rect x="462.00" y="361.61" width="9.31" height="9.46" fill="#e2d9e2"/>
<rect x="118.58" y="370.57" width="9.31" height="9.46" fill="#ddd9e0"/>
<rect x="127.38" y="370.57" width="9.31" height="9.46" fill="#d1d5da"/>
<rect x="136.19" y="370.57" width="9.31" height="9.46" fill="#b8c9d0"/>
<rect x="144.99" y="370.57" width="9.31" height="9.46" fill="#9dbac8"/>
<rect x="153.80" y="370.57" width="9.31" height="9.46" fill="#6a8bbf"/>
<rect x="162.60" y="370.57" width="9.31" height="9.46" fill="#6888be"/>
<rect x="171.41" y="370.57" width="9.31" height="9.46" fill="#6067b6"/>
<rect x="180.22" y="370.57" width="9.31" height="9.46" fill="#5d3b9f"/>
<rect x="189.02" y="370.57" width="9.31" height="9.46" fill="#59288d"/>
<rect x="197.83" y="370.57" width="9.31" height="9.46" fill="#341238"/>
<rect x="206.63" y="370.57" width="9.31" height="9.46" fill="#301437"/>
<rect x="215.44" y="370.57" width="9.31" height="9.46" fill="#b55c54"/>
<rect x="224.24" y="370.57" width="9.31" height="9.46" fill="#301338"/>
<rect x="233.05" y="370.57" width="9.31" height="9.46" fill="#341238"/>
<rect x="241.86" y="370.57" width="9.31" height="9.46" fill="#431359"/>
<rect x="250.66" y="370.57" width="9.31" height="9.46" fill="#5d3ea1"/>
<rect x="259.47" y="370.57" width="9.31" height="9.46" fill="#80a5c3"/>
<rect x="268.27" y="370.57" width="9.31" height="9.46" fill="#6b8dbf"/>
<rect x="277.08" y="370.57" width="9.31" height="9.46" fill="#81a6c3"/>
<rect x="285.88" y="370.57" width="9.31" height="9.46" fill="#a1bdc9"/>
<rect x="294.69" y="370.57" width="9.31" height="9.46" fill="#9dbac8"/>
<rect x="303.49" y="370.57" width="9.31" height="9.46" fill="#bbcad1"/>
<rect x="312.30" y="370.57" width="9.31" height="9.46" fill="#a1bdc9"/>
<rect x="321.11" y="370.57" width="9.31" height="9.46" fill="#d3d6db"/>
<rect x="329.91" y="370.57" width="9.31" height="9.46" fill="#d5d6dc"/>
<rect x="338.72" y="370.57" width="9.31" height="9.46" fill="#d7d7dd"/>
<rect x="347.52" y="370.57" width="9.31" height="9.46" fill="#d5d6dc"/>
<rect x="356.33" y="370.57" width="9.31" height="9.46" fill="#dfd9e1"/>
<rect x="365.13" y="370.57" width="9.31" height="9.46" fill="#e2d9e2"/>
<rect x="417.97" y="370.57" width="9.31" height="9.46" fill="#ded9e1"/>
<rect x="426.77" y="370.57" width="9.31" height="9.46" fill="#e2d9e2"/>
<rect x="435.58" y="370.57" width="9.31" height="9.46" fill="#e2d9e2"/>
<rect x="453.19" y="370.57" width="9.31" height="9.46" fill="#e2d9e2"/>
<rect x="462.00" y="370.57" width="9.31" height="9.46" fill="#e2d9e2"/>
<rect x="109.77" y="379.53" width="9.31" height="9.46" fill="#dcd9e0"/>
<rect x="118.58" y="379.53" width="9.31" height="9.46" fill="#d7d7dd"/>
<rect x="127.38" y="379.53" width="9.31" height="9.46" fill="#c1cdd3"/>
<rect x="136.19" y="379.53" width="9.31" height="9.46" fill="#a4beca"/>
<rect x="144.99" y="379.53" width="9.31" height="9.46" fill="#b2c6ce"/>
<rect x="153.80" y="379.53" width="9.31" height="9.46" fill="#80a5c3"/>
<rect x="162.60" y="379.53" width="9.31" height="9.46" fill="#6068b6"/>
<rect x="171.41" y="379.53" width="9.31" height="9.46" fill="#6067b6"/>
<rect x="180.22" y="379.53" width="9.31" height="9.46" fill="#606eb8"/>
<rect x="189.02" y="379.53" width="9.31" height="9.46" fill="#34113f"/>
<rect x="197.83" y="379.53" width="9.31" height="9.46" fill="#33113d"/>
<rect x="206.63" y="379.53" width="9.31" height="9.46" fill="#761f4f"/>
<rect x="215.44" y="379.53" width="9.31" height="9.46" fill="#7e2250"/>
<rect x="224.24" y="379.53" width="9.31" height="9.46" fill="#531d7a"/>
<rect x="233.05" y="379.53" width="9.31" height="9.46" fill="#6b1b4d"/>
<rect x="241.86" y="379.53" width="9.31" height="9.46" fill="#5e45a6"/>
<rect x="250.66" y="379.53" width="9.31" height="9.46" fill="#606cb8"/>
<rect x="259.47" y="379.53" width="9.31" height="9.46" fill="#9ab8c8"/>
<rect x="268.27" y="379.53" width="9.31" height="9.46" fill="#7fa5c3"/>
<rect x="277.08" y="379.53" width="9.31" height="9.46" fill="#a1bdc9"/>
<rect x="285.88" y="379.53" width="9.31" height="9.46" fill="#81a6c3"/>
<rect x="294.69" y="379.53" width="9.31" height="9.46" fill="#bccbd1"/>
<rect x="303.49" y="379.53" width="9.31" height="9.46" fill="#d5d6dc"/>
<rect x="312.30" y="379.53" width="9.31" height="9.46" fill="#d7d7dd"/>
<rect x="321.11" y="379.53" width="9.31" height="9.46" fill="#c2ced4"/>
<rect x="329.91" y="379.53" width="9.31" height="9.46" fill="#ded9e1"/>
<rect x="338.72" y="379.53" width="9.31" height="9.46" fill="#d8d8de"/>
<rect x="347.52" y="379.53" width="9.31" height="9.46" fill="#c4ced4"/>
<rect x="356.33" y="379.53" width="9.31" height="9.46" fill="#ddd9e0"/>
<rect x="365.13" y="379.53" width="9.31" height="9.46" fill="#e2d9e2"/>
<rect x="417.97" y="379.53" width="9.31" height="9.46" fill="#e2d9e2"/>
<rect x="426.77" y="379.53" width="9.31" height="9.46" fill="#e2d9e2"/>
<rect x="479.61" y="379.53" width="9.31" height="9.46" fill="#e1d9e2"/>
<rect x="488.41" y="379.53" width="9.31" height="9.46" fill="#e2d9e2"/>
<rect x="109.77" y="388.48" width="9.31" height="9.46" fill="#dbd8df"/>
<rect x="118.58" y="388.48" width="9.31" height="9.46" fill="#d5d6dc"/>
<rect x="127.38" y="388.48" width="9.31" height="9.46" fill="#a6bfca"/>
<rect x="136.19" y="388.48" width="9.31" height="9.46" fill="#a0bcc9"/>
<rect x="144.99" y="388.48" width="9.31" height="9.46" fill="#6a8bbf"/>
<rect x="153.80" y="388.48" width="9.31" height="9.46" fill="#6c8ebf"/>
<rect x="162.60" y="388.48" width="9.31" height="9.46" fill="#606eb8"/>
<rect x="171.41" y="388.48" width="9.31" height="9.46" fill="#7da3c3"/>
<rect x="180.22" y="388.48" width="9.31" height="9.46" fill="#5d3ea1"/>
<rect x="189.02" y="388.48" width="9.31" height="9.46" fill="#351138"/>
<rect x="197.83" y="388.48" width="9.31" height="9.46" fill="#58278b"/>
<rect x="206.63" y="388.48" width="9.31" height="9.46" fill="#311339"/>
<rect x="215.44" y="388.48" width="9.31" height="9.46" fill="#34113f"/>
<rect x="224.24" y="388.48" width="9.31" height="9.46" fill="#301338"/>
<rect x="233.05" y="388.48" width="9.31" height="9.46" fill="#47145f"/>
<rect x="241.86" y="388.48" width="9.31" height="9.46" fill="#5e43a5"/>
<rect x="250.66" y="388.48" width="9.31" height="9.46" fill="#6c8ebf"/>
<rect x="259.47" y="388.48" width="9.31" height="9.46" fill="#9ab8c8"/>
<rect x="268.27" y="388.48" width="9.31" height="9.46" fill="#9dbac8"/>
<rect x="277.08" y="388.48" width="9.31" height="9.46" fill="#b0c5cd"/>
<rect x="285.88" y="388.48" width="9.31" height="9.46" fill="#a3beca"/>
<rect x="294.69" y="388.48" width="9.31" height="9.46" fill="#d0d4d9"/>
<rect x="303.49" y="388.48" width="9.31" height="9.46" fill="#d8d8de"/>
<rect x="312.30" y="388.48" width="9.31" height="9.46" fill="#d5d6dc"/>
<rect x="321.11" y="388.48" width="9.31" height="9.46" fill="#c4ced4"/>
<rect x="329.91" y="388.48" width="9.31" height="9.46" fill="#dfd9e1"/>
<rect x="338.72" y="388.48" width="9.31" height="9.46" fill="#e1d9e2"/>
<rect x="347.52" y="388.48" width="9.31" height="9.46" fill="#ded9e1"/>
<rect x="356.33" y="388.48" width="9.31" height="9.46" fill="#dfd9e1"/>
<rect x="365.13" y="388.48" width="9.31" height="9.46" fill="#e2d9e2"/>
<rect x="435.58" y="388.48" width="9.31" height="9.46" fill="#dfd9e1"/>
<rect x="444.38" y="388.48" width="9.31" height="9.46" fill="#e2d9e2"/>
<rect x="479.61" y="388.48" width="9.31" height="9.46" fill="#e2d9e2"/>
<rect x="488.41" y="388.48" width="9.31" height="9.46" fill="#e2d9e2"/>
<rect x="109.77" y="397.44" width="9.31" height="9.46" fill="#dfd9e1"/>
<rect x="118.58" y="397.44" width="9.31" height="9.46" fill="#d0d4d9"/>
<rect x="127.38" y="397.44" width="9.31" height="9.46" fill="#a3beca"/>
<rect x="136.19" y="397.44" width="9.31" height="9.46" fill="#7da3c3"/>
<rect x="144.99" y="397.44" width="9.31" height="9.46" fill="#7da3c3"/>
<rect x="153.80" y="397.44" width="9.31" height="9.46" fill="#7da3c3"/>
<rect x="162.60" y="397.44" width="9.31" height="9.46" fill="#7ea4c3"/>
<rect x="171.41" y="397.44" width="9.31" height="9.46" fill="#6067b6"/>
<rect x="180.22" y="397.44" width="9.31" height="9.46" fill="#5d42a4"/>
<rect x="189.02" y="397.44" width="9.31" height="9.46" fill="#33113d"/>
<rect x="197.83" y="397.44" width="9.31" height="9.46" fill="#3d114d"/>
<rect x="206.63" y="397.44" width="9.31" height="9.46" fill="#301437"/>
<rect x="215.44" y="397.44" width="9.31" height="9.46" fill="#3a1148"/>
<rect x="224.24" y="397.44" width="9.31" height="9.46" fill="#521c79"/>
<rect x="233.05" y="397.44" width="9.31" height="9.46" fill="#80a5c3"/>
<rect x="241.86" y="397.44" width="9.31" height="9.46" fill="#82a7c3"/>
<rect x="250.66" y="397.44" width="9.31" height="9.46" fill="#698abf"/>
<rect x="259.47" y="397.44" width="9.31" height="9.46" fill="#b6c8cf"/>
<rect x="268.27" y="397.44" width="9.31" height="9.46" fill="#b8c9d0"/>
<rect x="277.08" y="397.44" width="9.31" height="9.46" fill="#a6bfca"/>
<rect x="285.88" y="397.44" width="9.31" height="9.46" fill="#c2ced4"/>
<rect x="294.69" y="397.44" width="9.31" height="9.46" fill="#c4ced4"/>
<rect x="303.49" y="397.44" width="9.31" height="9.46" fill="#e0d9e2"/>
<rect x="312.30" y="397.44" width="9.31" height="9.46" fill="#dcd9df"/>
<rect x="321.11" y="397.44" width="9.31" height="9.46" fill="#d6d7dd"/>
<rect x="329.91" y="397.44" width="9.31" height="9.46" fill="#d8d8de"/>
<rect x="338.72" y="397.44" width="9.31" height="9.46" fill="#e2d9e2"/>
<rect x="347.52" y="397.44" width="9.31" height="9.46" fill="#e2d9e2"/>
<rect x="356.33" y="397.44" width="9.31" height="9.46" fill="#e2d9e2"/>
<rect x="365.13" y="397.44" width="9.31" height="9.46" fill="#e2d9e2"/>
<rect x="391.55" y="397.44" width="9.31" height="9.46" fill="#d9d8de"/>
<rect x="400.36" y="397.44" width="9.31" height="9.46" fill="#e2d9e2"/>
<rect x="435.58" y="397.44" width="9.31" height="9.46" fill="#e2d9e2"/>
<rect x="444.38" y="397.44" width="9.31" height="9.46" fill="#e2d9e2"/>
<rect x="100.97" y="406.40" width="9.31" height="9.46" fill="#dad8df"/>
<rect x="109.77" y="406.40" width="9.31" height="9.46" fill="#ded9e1"/>
<rect x="118.58" y="406.40" width="9.31" height="9.46" fill="#c7d0d5"/>
<rect x="127.38" y="406.40" width="9.31" height="9.46" fill="#bccbd1"/>
<rect x="136.19" y="406.40" width="9.31" height="9.46" fill="#b8c9d0"/>
<rect x="144.99" y="406.40" width="9.31" height="9.46" fill="#b0c5cd"/>
<rect x="153.80" y="406.40" width="9.31" height="9.46" fill="#6b8dbf"/>
<rect x="162.60" y="406.40" width="9.31" height="9.46" fill="#606cb8"/>
<rect x="171.41" y="406.40" width="9.31" height="9.46" fill="#5d3b9f"/>
<rect x="180.22" y="406.40" width="9.31" height="9.46" fill="#592a8f"/>
<rect x="189.02" y="406.40" width="9.31" height="9.46" fill="#572487"/>
<rect x="197.83" y="406.40" width="9.31" height="9.46" fill="#5a2d92"/>
<rect x="206.63" y="406.40" width="9.31" height="9.46" fill="#3f1251"/>
<rect x="215.44" y="406.40" width="9.31" height="9.46" fill="#46145e"/>
<rect x="224.24" y="406.40" width="9.31" height="9.46" fill="#6068b6"/>
<rect x="233.05" y="406.40" width="9.31" height="9.46" fill="#6b8cbf"/>
<rect x="241.86" y="406.40" width="9.31" height="9.46" fill="#6c8ebf"/>
<rect x="250.66" y="406.40" width="9.31" height="9.46" fill="#82a7c3"/>
<rect x="259.47" y="406.40" width="9.31" height="9.46" fill="#a0bcc9"/>
<rect x="268.27" y="406.40" width="9.31" height="9.46" fill="#b9c9d0"/>
<rect x="277.08" y="406.40" width="9.31" height="9.46" fill="#ced3d9"/>
<rect x="285.88" y="406.40" width="9.31" height="9.46" fill="#bccbd1"/>
<rect x="294.69" y="406.40" width="9.31" height="9.46" fill="#d8d8de"/>
<rect x="303.49" y="406.40" width="9.31" height="9.46" fill="#e0d9e2"/>
<rect x="312.30" y="406.40" width="9.31" height="9.46" fill="#ded9e1"/>
<rect x="321.11" y="406.40" width="9.31" height="9.46" fill="#e0d9e2"/>
<rect x="329.91" y="406.40" width="9.31" height="9.46" fill="#e0d9e2"/>
<rect x="338.72" y="406.40" width="9.31" height="9.46" fill="#e2d9e2"/>
<rect x="347.52" y="406.40" width="9.31" height="9.46" fill="#dcd9df"/>
<rect x="356.33" y="406.40" width="9.31" height="9.46" fill="#e2d9e2"/>
<rect x="391.55" y="406.40" width="9.31" height="9.46" fill="#e2d9e2"/>
<rect x="400.36" y="406.40" width="9.31" height="9.46" fill="#e2d9e2"/>
<rect x="100.97" y="415.35" width="9.31" height="9.46" fill="#ddd9e0"/>
<rect x="109.77" y="415.35" width="9.31" height="9.46" fill="#dfd9e1"/>
<rect x="118.58" y="415.35" width="9.31" height="9.46" fill="#d5d6dc"/>
<rect x="127.38" y="415.35" width="9.31" height="9.46" fill="#ced3d9"/>
<rect x="136.19" y="415.35" width="9.31" height="9.46" fill="#7ea4c3"/>
<rect x="144.99" y="415.35" width="9.31" height="9.46" fill="#9cb9c8"/>
<rect x="153.80" y="415.35" width="9.31" height="9.46" fill="#6a8bbf"/>
<rect x="162.60" y="415.35" width="9.31" height="9.46" fill="#6c8ebf"/>
<rect x="171.41" y="415.35" width="9.31" height="9.46" fill="#6069b7"/>
<rect x="180.22" y="415.35" width="9.31" height="9.46" fill="#5e4fac"/>
<rect x="189.02" y="415.35" width="9.31" height="9.46" fill="#562182"/>
<rect x="197.83" y="415.35" width="9.31" height="9.46" fill="#431359"/>
<rect x="206.63" y="415.35" width="9.31" height="9.46" fill="#6989be"/>
<rect x="215.44" y="415.35" width="9.31" height="9.46" fill="#6067b6"/>
<rect x="224.24" y="415.35" width="9.31" height="9.46" fill="#81a6c3"/>
<rect x="233.05" y="415.35" width="9.31" height="9.46" fill="#adc3cd"/>
<rect x="241.86" y="415.35" width="9.31" height="9.46" fill="#a1bdc9"/>
<rect x="250.66" y="415.35" width="9.31" height="9.46" fill="#cbd2d7"/>
<rect x="259.47" y="415.35" width="9.31" height="9.46" fill="#d4d6dc"/>
<rect x="268.27" y="415.35" width="9.31" height="9.46" fill="#d4d6dc"/>
<rect x="277.08" y="415.35" width="9.31" height="9.46" fill="#a3beca"/>
<rect x="285.88" y="415.35" width="9.31" height="9.46" fill="#d4d6dc"/>
<rect x="294.69" y="415.35" width="9.31" height="9.46" fill="#ded9e1"/>
<rect x="303.49" y="415.35" width="9.31" height="9.46" fill="#dbd8df"/>
<rect x="312.30" y="415.35" width="9.31" height="9.46" fill="#dcd9df"/>
<rect x="321.11" y="415.35" width="9.31" height="9.46" fill="#dcd9df"/>
<rect x="329.91" y="415.35" width="9.31" height="9.46" fill="#dad8df"/>
<rect x="338.72" y="415.35" width="9.31" height="9.46" fill="#e2d9e2"/>
<rect x="347.52" y="415.35" width="9.31" height="9.46" fill="#e2d9e2"/>
<rect x="356.33" y="415.35" width="9.31" height="9.46" fill="#e2d9e2"/>
<rect x="100.97" y="424.31" width="9.31" height="9.46" fill="#e2d9e2"/>
<rect x="109.77" y="424.31" width="9.31" height="9.46" fill="#ded9e1"/>
<rect x="118.58" y="424.31" width="9.31" height="9.46" fill="#d7d7dd"/>
<rect x="127.38" y="424.31" width="9.31" height="9.46" fill="#c1cdd3"/>
<rect x="136.19" y="424.31" width="9.31" height="9.46" fill="#7ea4c3"/>
<rect x="144.99" y="424.31" width="9.31" height="9.46" fill="#9ebbc9"/>
<rect x="153.80" y="424.31" width="9.31" height="9.46" fill="#99b8c8"/>
<rect x="162.60" y="424.31" width="9.31" height="9.46" fill="#81a6c3"/>
<rect x="171.41" y="424.31" width="9.31" height="9.46" fill="#5e52ad"/>
<rect x="180.22" y="424.31" width="9.31" height="9.46" fill="#6068b6"/>
<rect x="189.02" y="424.31" width="9.31" height="9.46" fill="#592a8f"/>
<rect x="197.83" y="424.31" width="9.31" height="9.46" fill="#511a75"/>
<rect x="206.63" y="424.31" width="9.31" height="9.46" fill="#606cb8"/>
<rect x="215.44" y="424.31" width="9.31" height="9.46" fill="#7ca2c2"/>
<rect x="224.24" y="424.31" width="9.31" height="9.46" fill="#80a5c3"/>
<rect x="233.05" y="424.31" width="9.31" height="9.46" fill="#b8c9d0"/>
<rect x="241.86" y="424.31" width="9.31" height="9.46" fill="#a0bcc9"/>
<rect x="250.66" y="424.31" width="9.31" height="9.46" fill="#d3d6db"/>
<rect x="259.47" y="424.31" width="9.31" height="9.46" fill="#e0d9e2"/>
<rect x="268.27" y="424.31" width="9.31" height="9.46" fill="#dbd8df"/>
<rect x="277.08" y="424.31" width="9.31" height="9.46" fill="#ded9e1"/>
<rect x="285.88" y="424.31" width="9.31" height="9.46" fill="#ded9e1"/>
<rect x="294.69" y="424.31" width="9.31" height="9.46" fill="#e2d9e2"/>
<rect x="303.49" y="424.31" width="9.31" height="9.46" fill="#e2d9e2"/>
<rect x="312.30" y="424.31" width="9.31" height="9.46" fill="#dfd9e1"/>
<rect x="321.11" y="424.31" width="9.31" height="9.46" fill="#dfd9e1"/>
<rect x="329.91" y="424.31" width="9.31" height="9.46" fill="#e2d9e2"/>
<rect x="338.72" y="424.31" width="9.31" height="9.46" fill="#e2d9e2"/>
<rect x="356.33" y="424.31" width="9.31" height="9.46" fill="#e0d9e2"/>
<rect x="365.13" y="424.31" width="9.31" height="9.46" fill="#e2d9e2"/>
<rect x="409.16" y="424.31" width="9.31" height="9.46" fill="#dcd9df"/>
<rect x="417.97" y="424.31" width="9.31" height="9.46" fill="#e2d9e2"/>
<rect x="109.77" y="433.27" width="9.31" height="9.46" fill="#c9d1d7"/>
<rect x="118.58" y="433.27" width="9.31" height="9.46" fill="#d5d6dc"/>
<rect x="127.38" y="433.27" width="9.31" height="9.46" fill="#b8c9d0"/>
<rect x="136.19" y="433.27" width="9.31" height="9.46" fill="#9dbac8"/>
<rect x="144.99" y="433.27" width="9.31" height="9.46" fill="#9cb9c8"/>
<rect x="153.80" y="433.27" width="9.31" height="9.46" fill="#9dbac8"/>
<rect x="162.60" y="433.27" width="9.31" height="9.46" fill="#7da3c3"/>
<rect x="171.41" y="433.27" width="9.31" height="9.46" fill="#6989be"/>
<rect x="180.22" y="433.27" width="9.31" height="9.46" fill="#6069b7"/>
<rect x="189.02" y="433.27" width="9.31" height="9.46" fill="#5e46a6"/>
<rect x="197.83" y="433.27" width="9.31" height="9.46" fill="#606cb8"/>
<rect x="206.63" y="433.27" width="9.31" height="9.46" fill="#606ab7"/>
<rect x="215.44" y="433.27" width="9.31" height="9.46" fill="#606db8"/>
<rect x="224.24" y="433.27" width="9.31" height="9.46" fill="#81a6c3"/>
<rect x="233.05" y="433.27" width="9.31" height="9.46" fill="#b8c9d0"/>
<rect x="241.86" y="433.27" width="9.31" height="9.46" fill="#d7d7dd"/>
<rect x="250.66" y="433.27" width="9.31" height="9.46" fill="#dfd9e1"/>
<rect x="259.47" y="433.27" width="9.31" height="9.46" fill="#e2d9e2"/>
<rect x="268.27" y="433.27" width="9.31" height="9.46" fill="#e2d9e2"/>
<rect x="277.08" y="433.27" width="9.31" height="9.46" fill="#dad8df"/>
<rect x="285.88" y="433.27" width="9.31" height="9.46" fill="#e2d9e2"/>
<rect x="294.69" y="433.27" width="9.31" height="9.46" fill="#e2d9e2"/>
<rect x="312.30" y="433.27" width="9.31" height="9.46" fill="#dcd9e0"/>
<rect x="321.11" y="433.27" width="9.31" height="9.46" fill="#e2d9e2"/>
<rect x="329.91" y="433.27" width="9.31" height="9.46" fill="#e2d9e2"/>
<rect x="356.33" y="433.27" width="9.31" height="9.46" fill="#e2d9e2"/>
<rect x="365.13" y="433.27" width="9.31" height="9.46" fill="#e2d9e2"/>
<rect x="409.16" y="433.27" width="9.31" height="9.46" fill="#c9d1d7"/>
<rect x="417.97" y="433.27" width="9.31" height="9.46" fill="#e2d9e2"/>
<rect x="109.77" y="442.22" width="9.31" height="9.46" fill="#dcd9e0"/>
<rect x="118.58" y="442.22" width="9.31" height="9.46" fill="#bfccd3"/>
<rect x="127.38" y="442.22" width="9.31" height="9.46" fill="#bbcad1"/>
<rect x="136.19" y="442.22" width="9.31" height="9.46" fill="#a4beca"/>
<rect x="144.99" y="442.22" width="9.31" height="9.46" fill="#9dbac8"/>
<rect x="153.80" y="442.22" width="9.31" height="9.46" fill="#a1bdc9"/>
<rect x="162.60" y="442.22" width="9.31" height="9.46" fill="#80a5c3"/>
<rect x="171.41" y="442.22" width="9.31" height="9.46" fill="#572385"/>
<rect x="180.22" y="442.22" width="9.31" height="9.46" fill="#6b8dbf"/>
<rect x="189.02" y="442.22" width="9.31" height="9.46" fill="#606ab7"/>
<rect x="197.83" y="442.22" width="9.31" height="9.46" fill="#698abf"/>
<rect x="206.63" y="442.22" width="9.31" height="9.46" fill="#6b8dbf"/>
<rect x="215.44" y="442.22" width="9.31" height="9.46" fill="#9dbac8"/>
<rect x="224.24" y="442.22" width="9.31" height="9.46" fill="#9ebbc9"/>
<rect x="233.05" y="442.22" width="9.31" height="9.46" fill="#d1d5da"/>
<rect x="241.86" y="442.22" width="9.31" height="9.46" fill="#d4d6dc"/>
<rect x="250.66" y="442.22" width="9.31" height="9.46" fill="#e1d9e2"/>
<rect x="259.47" y="442.22" width="9.31" height="9.46" fill="#ddd9e0"/>
<rect x="268.27" y="442.22" width="9.31" height="9.46" fill="#e2d9e2"/>
<rect x="277.08" y="442.22" width="9.31" height="9.46" fill="#e2d9e2"/>
<rect x="285.88" y="442.22" width="9.31" height="9.46" fill="#dad8df"/>
<rect x="294.69" y="442.22" width="9.31" height="9.46" fill="#e2d9e2"/>
<rect x="312.30" y="442.22" width="9.31" height="9.46" fill="#e2d9e2"/>
<rect x="321.11" y="442.22" width="9.31" height="9.46" fill="#e2d9e2"/>
<rect x="356.33" y="442.22" width="9.31" height="9.46" fill="#e1d9e2"/>
<rect x="365.13" y="442.22" width="9.31" height="9.46" fill="#e2d9e2"/>
<rect x="409.16" y="442.22" width="9.31" height="9.46" fill="#e2d9e2"/>
<rect x="417.97" y="442.22" width="9.31" height="9.46" fill="#e2d9e2"/>
<rect x="488.41" y="442.22" width="9.31" height="9.46" fill="#ddd9e0"/>
<rect x="497.22" y="442.22" width="9.31" height="9.46" fill="#e2d9e2"/>
<rect x="109.77" y="451.18" width="9.31" height="9.46" fill="#dcd9df"/>
<rect x="118.58" y="451.18" width="9.31" height="9.46" fill="#c2ced4"/>
<rect x="127.38" y="451.18" width="9.31" height="9.46" fill="#d1d5da"/>
<rect x="136.19" y="451.18" width="9.31" height="9.46" fill="#beccd2"/>
<rect x="144.99" y="451.18" width="9.31" height="9.46" fill="#beccd2"/>
<rect x="153.80" y="451.18" width="9.31" height="9.46" fill="#b6c8cf"/>
<rect x="162.60" y="451.18" width="9.31" height="9.46" fill="#7da3c3"/>
<rect x="171.41" y="451.18" width="9.31" height="9.46" fill="#7ca2c2"/>
<rect x="180.22" y="451.18" width="9.31" height="9.46" fill="#6c8ebf"/>
<rect x="189.02" y="451.18" width="9.31" height="9.46" fill="#6069b7"/>
<rect x="197.83" y="451.18" width="9.31" height="9.46" fill="#80a5c3"/>
<rect x="206.63" y="451.18" width="9.31" height="9.46" fill="#6a8bbf"/>
<rect x="215.44" y="451.18" width="9.31" height="9.46" fill="#81a6c3"/>
<rect x="224.24" y="451.18" width="9.31" height="9.46" fill="#c9d1d7"/>
<rect x="233.05" y="451.18" width="9.31" height="9.46" fill="#c2ced4"/>
<rect x="241.86" y="451.18" width="9.31" height="9.46" fill="#d5d6dc"/>
<rect x="250.66" y="451.18" width="9.31" height="9.46" fill="#d8d8de"/>
<rect x="259.47" y="451.18" width="9.31" height="9.46" fill="#dad8df"/>
<rect x="268.27" y="451.18" width="9.31" height="9.46" fill="#e2d9e2"/>
<rect x="285.88" y="451.18" width="9.31" height="9.46" fill="#e2d9e2"/>
<rect x="294.69" y="451.18" width="9.31" height="9.46" fill="#e2d9e2"/>
<rect x="356.33" y="451.18" width="9.31" height="9.46" fill="#e2d9e2"/>
<rect x="365.13" y="451.18" width="9.31" height="9.46" fill="#e2d9e2"/>
<rect x="488.41" y="451.18" width="9.31" height="9.46" fill="#e2d9e2"/>
<rect x="497.22" y="451.18" width="9.31" height="9.46" fill="#e2d9e2"/>
<rect x="514.83" y="451.18" width="9.31" height="9.46" fill="#ded9e1"/>
<rect x="523.63" y="451.18" width="9.31" height="9.46" fill="#e2d9e2"/>
<rect x="109.77" y="460.14" width="9.31" height="9.46" fill="#e1d9e2"/>
<rect x="118.58" y="460.14" width="9.31" height="9.46" fill="#d9d8de"/>
<rect x="127.38" y="460.14" width="9.31" height="9.46" fill="#d2d5db"/>
<rect x="136.19" y="460.14" width="9.31" height="9.46" fill="#c1cdd3"/>
<rect x="144.99" y="460.14" width="9.31" height="9.46" fill="#9ebbc9"/>
<rect x="153.80" y="460.14" width="9.31" height="9.46" fill="#afc4cd"/>
<rect x="162.60" y="460.14" width="9.31" height="9.46" fill="#80a5c3"/>
<rect x="171.41" y="460.14" width="9.31" height="9.46" fill="#6989be"/>
<rect x="180.22" y="460.14" width="9.31" height="9.46" fill="#606ab7"/>
<rect x="189.02" y="460.14" width="9.31" height="9.46" fill="#7fa5c3"/>
<rect x="197.83" y="460.14" width="9.31" height="9.46" fill="#6b8cbf"/>
<rect x="206.63" y="460.14" width="9.31" height="9.46" fill="#afc4cd"/>
<rect x="215.44" y="460.14" width="9.31" height="9.46" fill="#bbcad1"/>
<rect x="224.24" y="460.14" width="9.31" height="9.46" fill="#bbcad1"/>
<rect x="233.05" y="460.14" width="9.31" height="9.46" fill="#d5d6dc"/>
<rect x="241.86" y="460.14" width="9.31" height="9.46" fill="#c7d0d5"/>
<rect x="250.66" y="460.14" width="9.31" height="9.46" fill="#d5d6dc"/>
<rect x="259.47" y="460.14" width="9.31" height="9.46" fill="#e1d9e2"/>
<rect x="268.27" y="460.14" width="9.31" height="9.46" fill="#e2d9e2"/>
<rect x="444.38" y="460.14" width="9.31" height="9.46" fill="#e0d9e2"/>
<rect x="453.19" y="460.14" width="9.31" height="9.46" fill="#e2d9e2"/>
<rect x="514.83" y="460.14" width="9.31" height="9.46" fill="#e2d9e2"/>
<rect x="523.63" y="460.14" width="9.31" height="9.46" fill="#e2d9e2"/>
<rect x="109.77" y="469.09" width="9.31" height="9.46" fill="#e2d9e2"/>
<rect x="118.58" y="469.09" width="9.31" height="9.46" fill="#d7d7dd"/>
<rect x="127.38" y="469.09" width="9.31" height="9.46" fill="#beccd2"/>
<rect x="136.19" y="469.09" width="9.31" height="9.46" fill="#bbcad1"/>
<rect x="144.99" y="469.09" width="9.31" height="9.46" fill="#80a5c3"/>
<rect x="153.80" y="469.09" width="9.31" height="9.46" fill="#b0c5cd"/>
<rect x="162.60" y="469.09" width="9.31" height="9.46" fill="#6b8dbf"/>
<rect x="171.41" y="469.09" width="9.31" height="9.46" fill="#9cb9c8"/>
<rect x="180.22" y="469.09" width="9.31" height="9.46" fill="#7ca2c2"/>
<rect x="189.02" y="469.09" width="9.31" height="9.46" fill="#7fa5c3"/>
<rect x="197.83" y="469.09" width="9.31" height="9.46" fill="#b5c7cf"/>
<rect x="206.63" y="469.09" width="9.31" height="9.46" fill="#a4beca"/>
<rect x="215.44" y="469.09" width="9.31" height="9.46" fill="#beccd2"/>
<rect x="224.24" y="469.09" width="9.31" height="9.46" fill="#d2d5db"/>
<rect x="233.05" y="469.09" width="9.31" height="9.46" fill="#d3d6db"/>
<rect x="241.86" y="469.09" width="9.31" height="9.46" fill="#d8d8de"/>
<rect x="250.66" y="469.09" width="9.31" height="9.46" fill="#d6d7dd"/>
<rect x="259.47" y="469.09" width="9.31" height="9.46" fill="#ded9e1"/>
<rect x="268.27" y="469.09" width="9.31" height="9.46" fill="#e2d9e2"/>
<rect x="285.88" y="469.09" width="9.31" height="9.46" fill="#e0d9e2"/>
<rect x="294.69" y="469.09" width="9.31" height="9.46" fill="#e2d9e2"/>
<rect x="391.55" y="469.09" width="9.31" height="9.46" fill="#dcd9df"/>
<rect x="400.36" y="469.09" width="9.31" height="9.46" fill="#e2d9e2"/>
<rect x="444.38" y="469.09" width="9.31" height="9.46" fill="#e2d9e2"/>
<rect x="453.19" y="469.09" width="9.31" height="9.46" fill="#e2d9e2"/>
<rect x="118.58" y="478.05" width="9.31" height="9.46" fill="#d3d6db"/>
<rect x="127.38" y="478.05" width="9.31" height="9.46" fill="#a7c0cb"/>
<rect x="136.19" y="478.05" width="9.31" height="9.46" fill="#b3c6ce"/>
<rect x="144.99" y="478.05" width="9.31" height="9.46" fill="#81a6c3"/>
<rect x="153.80" y="478.05" width="9.31" height="9.46" fill="#6a8bbf"/>
<rect x="162.60" y="478.05" width="9.31" height="9.46" fill="#99b8c8"/>
<rect x="171.41" y="478.05" width="9.31" height="9.46" fill="#7ea4c3"/>
<rect x="180.22" y="478.05" width="9.31" height="9.46" fill="#6a8bbf"/>
<rect x="189.02" y="478.05" width="9.31" height="9.46" fill="#b3c6ce"/>
<rect x="197.83" y="478.05" width="9.31" height="9.46" fill="#c1cdd3"/>
<rect x="206.63" y="478.05" width="9.31" height="9.46" fill="#d0d4d9"/>
<rect x="215.44" y="478.05" width="9.31" height="9.46" fill="#d4d6dc"/>
<rect x="224.24" y="478.05" width="9.31" height="9.46" fill="#c1cdd3"/>
<rect x="233.05" y="478.05" width="9.31" height="9.46" fill="#d7d7dd"/>
<rect x="241.86" y="478.05" width="9.31" height="9.46" fill="#e0d9e2"/>
<rect x="250.66" y="478.05" width="9.31" height="9.46" fill="#d9d8de"/>
<rect x="259.47" y="478.05" width="9.31" height="9.46" fill="#dfd9e1"/>
<rect x="268.27" y="478.05" width="9.31" height="9.46" fill="#ccd2d8"/>
<rect x="277.08" y="478.05" width="9.31" height="9.46" fill="#e2d9e2"/>
<rect x="285.88" y="478.05" width="9.31" height="9.46" fill="#e2d9e2"/>
<rect x="294.69" y="478.05" width="9.31" height="9.46" fill="#e2d9e2"/>
<rect x="338.72" y="478.05" width="9.31" height="9.46" fill="#e1d9e2"/>
<rect x="347.52" y="478.05" width="9.31" height="9.46" fill="#e2d9e2"/>
<rect x="391.55" y="478.05" width="9.31" height="9.46" fill="#ded9e1"/>
<rect x="400.36" y="478.05" width="9.31" height="9.46" fill="#e2d9e2"/>
<rect x="118.58" y="487.01" width="9.31" height="9.46" fill="#dcd9df"/>
<rect x="127.38" y="487.01" width="9.31" height="9.46" fill="#beccd2"/>
<rect x="136.19" y="487.01" width="9.31" height="9.46" fill="#a4beca"/>
<rect x="144.99" y="487.01" width="9.31" height="9.46" fill="#9dbac8"/>
<rect x="153.80" y="487.01" width="9.31" height="9.46" fill="#9ab8c8"/>
<rect x="162.60" y="487.01" width="9.31" height="9.46" fill="#80a5c3"/>
<rect x="171.41" y="487.01" width="9.31" height="9.46" fill="#6b8cbf"/>
<rect x="180.22" y="487.01" width="9.31" height="9.46" fill="#7fa5c3"/>
<rect x="189.02" y="487.01" width="9.31" height="9.46" fill="#a1bdc9"/>
<rect x="197.83" y="487.01" width="9.31" height="9.46" fill="#d5d6dc"/>
<rect x="206.63" y="487.01" width="9.31" height="9.46" fill="#dcd9df"/>
<rect x="215.44" y="487.01" width="9.31" height="9.46" fill="#dad8df"/>
<rect x="224.24" y="487.01" width="9.31" height="9.46" fill="#ded9e1"/>
<rect x="233.05" y="487.01" width="9.31" height="9.46" fill="#e1d9e2"/>
<rect x="241.86" y="487.01" width="9.31" height="9.46" fill="#e2d9e2"/>
<rect x="250.66" y="487.01" width="9.31" height="9.46" fill="#dcd9e0"/>
<rect x="259.47" y="487.01" width="9.31" height="9.46" fill="#ded9e1"/>
<rect x="268.27" y="487.01" width="9.31" height="9.46" fill="#ded9e1"/>
<rect x="277.08" y="487.01" width="9.31" height="9.46" fill="#dfd9e1"/>
<rect x="285.88" y="487.01" width="9.31" height="9.46" fill="#e0d9e2"/>
<rect x="294.69" y="487.01" width="9.31" height="9.46" fill="#e0d9e2"/>
<rect x="303.49" y="487.01" width="9.31" height="9.46" fill="#e2d9e2"/>
<rect x="338.72" y="487.01" width="9.31" height="9.46" fill="#e2d9e2"/>
<rect x="347.52" y="487.01" width="9.31" height="9.46" fill="#dfd9e1"/>
<rect x="356.33" y="487.01" width="9.31" height="9.46" fill="#e2d9e2"/>
<rect x="391.55" y="487.01" width="9.31" height="9.46" fill="#e2d9e2"/>
<rect x="400.36" y="487.01" width="9.31" height="9.46" fill="#e2d9e2"/>
<rect x="118.58" y="495.96" width="9.31" height="9.46" fill="#ddd9e0"/>
<rect x="127.38" y="495.96" width="9.31" height="9.46" fill="#beccd2"/>
<rect x="136.19" y="495.96" width="9.31" height="9.46" fill="#a0bcc9"/>
<rect x="144.99" y="495.96" width="9.31" height="9.46" fill="#a4beca"/>
<rect x="153.80" y="495.96" width="9.31" height="9.46" fill="#7ea4c3"/>
<rect x="162.60" y="495.96" width="9.31" height="9.46" fill="#a1bdc9"/>
<rect x="171.41" y="495.96" width="9.31" height="9.46" fill="#a0bcc9"/>
<rect x="180.22" y="495.96" width="9.31" height="9.46" fill="#b6c8cf"/>
<rect x="189.02" y="495.96" width="9.31" height="9.46" fill="#d1d5da"/>
<rect x="197.83" y="495.96" width="9.31" height="9.46" fill="#a0bcc9"/>
<rect x="206.63" y="495.96" width="9.31" height="9.46" fill="#dad8df"/>
<rect x="215.44" y="495.96" width="9.31" height="9.46" fill="#e2d9e2"/>
<rect x="224.24" y="495.96" width="9.31" height="9.46" fill="#dad8df"/>
<rect x="233.05" y="495.96" width="9.31" height="9.46" fill="#e2d9e2"/>
<rect x="241.86" y="495.96" width="9.31" height="9.46" fill="#e2d9e2"/>
<rect x="250.66" y="495.96" width="9.31" height="9.46" fill="#e2d9e2"/>
<rect x="259.47" y="495.96" width="9.31" height="9.46" fill="#e2d9e2"/>
<rect x="268.27" y="495.96" width="9.31" height="9.46" fill="#dcd9e0"/>
<rect x="277.08" y="495.96" width="9.31" height="9.46" fill="#ded9e1"/>
<rect x="285.88" y="495.96" width="9.31" height="9.46" fill="#e2d9e2"/>
<rect x="294.69" y="495.96" width="9.31" height="9.46" fill="#e2d9e2"/>
<rect x="303.49" y="495.96" width="9.31" height="9.46" fill="#e2d9e2"/>
<rect x="347.52" y="495.96" width="9.31" height="9.46" fill="#e2d9e2"/>
<rect x="356.33" y="495.96" width="9.31" height="9.46" fill="#e2d9e2"/>
<rect x="109.77" y="504.92" width="9.31" height="9.46" fill="#dad8df"/>
<rect x="118.58" y="504.92" width="9.31" height="9.46" fill="#c7d0d5"/>
<rect x="127.38" y="504.92" width="9.31" height="9.46" fill="#d4d6dc"/>
<rect x="136.19" y="504.92" width="9.31" height="9.46" fill="#d1d5da"/>
<rect x="144.99" y="504.92" width="9.31" height="9.46" fill="#c9d1d7"/>
<rect x="153.80" y="504.92" width="9.31" height="9.46" fill="#a1bdc9"/>
<rect x="162.60" y="504.92" width="9.31" height="9.46" fill="#9ebbc9"/>
<rect x="171.41" y="504.92" width="9.31" height="9.46" fill="#bbcad1"/>
<rect x="180.22" y="504.92" width="9.31" height="9.46" fill="#c2ced4"/>
<rect x="189.02" y="504.92" width="9.31" height="9.46" fill="#c5cfd5"/>
<rect x="197.83" y="504.92" width="9.31" height="9.46" fill="#d8d8de"/>
<rect x="206.63" y="504.92" width="9.31" height="9.46" fill="#ddd9e0"/>
<rect x="215.44" y="504.92" width="9.31" height="9.46" fill="#e2d9e2"/>
<rect x="224.24" y="504.92" width="9.31" height="9.46" fill="#e2d9e2"/>
<rect x="233.05" y="504.92" width="9.31" height="9.46" fill="#e1d9e2"/>
<rect x="241.86" y="504.92" width="9.31" height="9.46" fill="#e2d9e2"/>
<rect x="268.27" y="504.92" width="9.31" height="9.46" fill="#e2d9e2"/>
<rect x="277.08" y="504.92" width="9.31" height="9.46" fill="#e2d9e2"/>
<rect x="285.88" y="504.92" width="9.31" height="9.46" fill="#e2d9e2"/>
<rect x="100.97" y="513.88" width="9.31" height="9.46" fill="#dcd9df"/>
<rect x="109.77" y="513.88" width="9.31" height="9.46" fill="#dcd9e0"/>
<rect x="118.58" y="513.88" width="9.31" height="9.46" fill="#d4d6dc"/>
<rect x="127.38" y="513.88" width="9.31" height="9.46" fill="#c2ced4"/>
<rect x="136.19" y="513.88" width="9.31" height="9.46" fill="#ced3d9"/>
<rect x="144.99" y="513.88" width="9.31" height="9.46" fill="#beccd2"/>
<rect x="153.80" y="513.88" width="9.31" height="9.46" fill="#a3beca"/>
<rect x="162.60" y="513.88" width="9.31" height="9.46" fill="#a0bcc9"/>
<rect x="171.41" y="513.88" width="9.31" height="9.46" fill="#bccbd1"/>
<rect x="180.22" y="513.88" width="9.31" height="9.46" fill="#beccd2"/>
<rect x="189.02" y="513.88" width="9.31" height="9.46" fill="#d4d6dc"/>
<rect x="197.83" y="513.88" width="9.31" height="9.46" fill="#ded9e1"/>
<rect x="206.63" y="513.88" width="9.31" height="9.46" fill="#e2d9e2"/>
<rect x="215.44" y="513.88" width="9.31" height="9.46" fill="#e2d9e2"/>
<rect x="224.24" y="513.88" width="9.31" height="9.46" fill="#d9d8de"/>
<rect x="233.05" y="513.88" width="9.31" height="9.46" fill="#dad8df"/>
<rect x="241.86" y="513.88" width="9.31" height="9.46" fill="#ddd9e0"/>
<rect x="250.66" y="513.88" width="9.31" height="9.46" fill="#e2d9e2"/>
<rect x="329.91" y="513.88" width="9.31" height="9.46" fill="#ded9e1"/>
<rect x="338.72" y="513.88" width="9.31" height="9.46" fill="#e2d9e2"/>
<rect x="347.52" y="513.88" width="9.31" height="9.46" fill="#e1d9e2"/>
<rect x="356.33" y="513.88" width="9.31" height="9.46" fill="#e2d9e2"/>
<rect x="435.58" y="513.88" width="9.31" height="9.46" fill="#e1d9e2"/>
<rect x="444.38" y="513.88" width="9.31" height="9.46" fill="#e2d9e2"/>
<rect x="506.02" y="513.88" width="9.31" height="9.46" fill="#dfd9e1"/>
<rect x="514.83" y="513.88" width="9.31" height="9.46" fill="#e2d9e2"/>
<rect x="100.97" y="522.84" width="9.31" height="9.46" fill="#e2d9e2"/>
<rect x="109.77" y="522.84" width="9.31" height="9.46" fill="#d7d7dd"/>
<rect x="118.58" y="522.84" width="9.31" height="9.46" fill="#beccd2"/>
<rect x="127.38" y="522.84" width="9.31" height="9.46" fill="#80a5c3"/>
<rect x="136.19" y="522.84" width="9.31" height="9.46" fill="#b9c9d0"/>
<rect x="144.99" y="522.84" width="9.31" height="9.46" fill="#bbcad1"/>
<rect x="153.80" y="522.84" width="9.31" height="9.46" fill="#ced3d9"/>
<rect x="162.60" y="522.84" width="9.31" height="9.46" fill="#ced3d9"/>
<rect x="171.41" y="522.84" width="9.31" height="9.46" fill="#c5cfd5"/>
<rect x="180.22" y="522.84" width="9.31" height="9.46" fill="#d8d8de"/>
<rect x="189.02" y="522.84" width="9.31" height="9.46" fill="#d9d8de"/>
<rect x="197.83" y="522.84" width="9.31" height="9.46" fill="#e2d9e2"/>
<rect x="206.63" y="522.84" width="9.31" height="9.46" fill="#dcd9df"/>
<rect x="215.44" y="522.84" width="9.31" height="9.46" fill="#e2d9e2"/>
<rect x="224.24" y="522.84" width="9.31" height="9.46" fill="#e2d9e2"/>
<rect x="233.05" y="522.84" width="9.31" height="9.46" fill="#e2d9e2"/>
<rect x="241.86" y="522.84" width="9.31" height="9.46" fill="#e2d9e2"/>
<rect x="250.66" y="522.84" width="9.31" height="9.46" fill="#e2d9e2"/>
<rect x="285.88" y="522.84" width="9.31" height="9.46" fill="#c7d0d5"/>
<rect x="294.69" y="522.84" width="9.31" height="9.46" fill="#e2d9e2"/>
<rect x="312.30" y="522.84" width="9.31" height="9.46" fill="#e0d9e2"/>
<rect x="321.11" y="522.84" width="9.31" height="9.46" fill="#e2d9e2"/>
<rect x="329.91" y="522.84" width="9.31" height="9.46" fill="#e2d9e2"/>
<rect x="338.72" y="522.84" width="9.31" height="9.46" fill="#e2d9e2"/>
<rect x="347.52" y="522.84" width="9.31" height="9.46" fill="#e2d9e2"/>
<rect x="356.33" y="522.84" width="9.31" height="9.46" fill="#e2d9e2"/>
<rect x="435.58" y="522.84" width="9.31" height="9.46" fill="#e2d9e2"/>
<rect x="444.38" y="522.84" width="9.31" height="9.46" fill="#e2d9e2"/>
<rect x="506.02" y="522.84" width="9.31" height="9.46" fill="#e2d9e2"/>
<rect x="514.83" y="522.84" width="9.31" height="9.46" fill="#e2d9e2"/>
<rect x="109.77" y="531.79" width="9.31" height="9.46" fill="#dbd8df"/>
<rect x="118.58" y="531.79" width="9.31" height="9.46" fill="#d3d6db"/>
<rect x="127.38" y="531.79" width="9.31" height="9.46" fill="#a0bcc9"/>
<rect x="136.19" y="531.79" width="9.31" height="9.46" fill="#ccd2d8"/>
<rect x="144.99" y="531.79" width="9.31" height="9.46" fill="#bfccd3"/>
<rect x="153.80" y="531.79" width="9.31" height="9.46" fill="#c1cdd3"/>
<rect x="162.60" y="531.79" width="9.31" height="9.46" fill="#d6d7dd"/>
<rect x="171.41" y="531.79" width="9.31" height="9.46" fill="#d6d7dd"/>
<rect x="180.22" y="531.79" width="9.31" height="9.46" fill="#ded9e1"/>
<rect x="189.02" y="531.79" width="9.31" height="9.46" fill="#e2d9e2"/>
<rect x="197.83" y="531.79" width="9.31" height="9.46" fill="#e2d9e2"/>
<rect x="206.63" y="531.79" width="9.31" height="9.46" fill="#e2d9e2"/>
<rect x="215.44" y="531.79" width="9.31" height="9.46" fill="#e2d9e2"/>
<rect x="233.05" y="531.79" width="9.31" height="9.46" fill="#ded9e1"/>
<rect x="241.86" y="531.79" width="9.31" height="9.46" fill="#e2d9e2"/>
<rect x="250.66" y="531.79" width="9.31" height="9.46" fill="#dfd9e1"/>
<rect x="259.47" y="531.79" width="9.31" height="9.46" fill="#e2d9e2"/>
<rect x="285.88" y="531.79" width="9.31" height="9.46" fill="#e2d9e2"/>
<rect x="294.69" y="531.79" width="9.31" height="9.46" fill="#e0d9e2"/>
<rect x="303.49" y="531.79" width="9.31" height="9.46" fill="#e2d9e2"/>
<rect x="312.30" y="531.79" width="9.31" height="9.46" fill="#e2d9e2"/>
<rect x="321.11" y="531.79" width="9.31" height="9.46" fill="#e2d9e2"/>
<rect x="497.22" y="531.79" width="9.31" height="9.46" fill="#dcd9df"/>
<rect x="506.02" y="531.79" width="9.31" height="9.46" fill="#e2d9e2"/>
<rect x="523.63" y="531.79" width="9.31" height="9.46" fill="#e0d9e2"/>
<rect x="109.77" y="540.75" width="9.31" height="9.46" fill="#dbd8df"/>
<rect x="118.58" y="540.75" width="9.31" height="9.46" fill="#dbd8df"/>
<rect x="127.38" y="540.75" width="9.31" height="9.46" fill="#c5cfd5"/>
<rect x="136.19" y="540.75" width="9.31" height="9.46" fill="#c4ced4"/>
<rect x="144.99" y="540.75" width="9.31" height="9.46" fill="#d3d6db"/>
<rect x="153.80" y="540.75" width="9.31" height="9.46" fill="#dad8df"/>
<rect x="162.60" y="540.75" width="9.31" height="9.46" fill="#c8d0d6"/>
<rect x="171.41" y="540.75" width="9.31" height="9.46" fill="#d8d8de"/>
<rect x="180.22" y="540.75" width="9.31" height="9.46" fill="#e2d9e2"/>
<rect x="189.02" y="540.75" width="9.31" height="9.46" fill="#e2d9e2"/>
<rect x="224.24" y="540.75" width="9.31" height="9.46" fill="#d9d8de"/>
<rect x="233.05" y="540.75" width="9.31" height="9.46" fill="#e2d9e2"/>
<rect x="241.86" y="540.75" width="9.31" height="9.46" fill="#e1d9e2"/>
<rect x="250.66" y="540.75" width="9.31" height="9.46" fill="#dcd9e0"/>
<rect x="259.47" y="540.75" width="9.31" height="9.46" fill="#e2d9e2"/>
<rect x="294.69" y="540.75" width="9.31" height="9.46" fill="#e2d9e2"/>
<rect x="303.49" y="540.75" width="9.31" height="9.46" fill="#e2d9e2"/>
<rect x="497.22" y="540.75" width="9.31" height="9.46" fill="#e2d9e2"/>
<rect x="506.02" y="540.75" width="9.31" height="9.46" fill="#e2d9e2"/>
<rect x="523.63" y="540.75" width="9.31" height="9.46" fill="#e2d9e2"/>
<rect x="109.77" y="549.71" width="9.31" height="9.46" fill="#e2d9e2"/>
<rect x="118.58" y="549.71" width="9.31" height="9.46" fill="#d7d7dd"/>
<rect x="127.38" y="549.71" width="9.31" height="9.46" fill="#d7d7dd"/>
<rect x="136.19" y="549.71" width="9.31" height="9.46" fill="#d5d6dc"/>
<rect x="144.99" y="549.71" width="9.31" height="9.46" fill="#c2ced4"/>
<rect x="153.80" y="549.71" width="9.31" height="9.46" fill="#ddd9e0"/>
<rect x="162.60" y="549.71" width="9.31" height="9.46" fill="#c9d1d7"/>
<rect x="171.41" y="549.71" width="9.31" height="9.46" fill="#d8d8de"/>
<rect x="180.22" y="549.71" width="9.31" height="9.46" fill="#e1d9e2"/>
<rect x="189.02" y="549.71" width="9.31" height="9.46" fill="#e2d9e2"/>
<rect x="224.24" y="549.71" width="9.31" height="9.46" fill="#e2d9e2"/>
<rect x="233.05" y="549.71" width="9.31" height="9.46" fill="#e2d9e2"/>
<rect x="241.86" y="549.71" width="9.31" height="9.46" fill="#e0d9e2"/>
<rect x="250.66" y="549.71" width="9.31" height="9.46" fill="#e2d9e2"/>
<rect x="259.47" y="549.71" width="9.31" height="9.46" fill="#e2d9e2"/>
<rect x="285.88" y="549.71" width="9.31" height="9.46" fill="#e0d9e2"/>
<rect x="294.69" y="549.71" width="9.31" height="9.46" fill="#e0d9e2"/>
<rect x="303.49" y="549.71" width="9.31" height="9.46" fill="#e2d9e2"/>
<rect x="497.22" y="549.71" width="9.31" height="9.46" fill="#cbd2d7"/>
<rect x="506.02" y="549.71" width="9.31" height="9.46" fill="#e2d9e2"/>
<rect x="109.77" y="558.66" width="9.31" height="9.46" fill="#dfd9e1"/>
<rect x="118.58" y="558.66" width="9.31" height="9.46" fill="#d6d7dd"/>
<rect x="127.38" y="558.66" width="9.31" height="9.46" fill="#c1cdd3"/>
<rect x="136.19" y="558.66" width="9.31" height="9.46" fill="#c1cdd3"/>
<rect x="144.99" y="558.66" width="9.31" height="9.46" fill="#d4d6dc"/>
<rect x="153.80" y="558.66" width="9.31" height="9.46" fill="#ddd9e0"/>
<rect x="162.60" y="558.66" width="9.31" height="9.46" fill="#d9d8de"/>
<rect x="171.41" y="558.66" width="9.31" height="9.46" fill="#ded9e1"/>
<rect x="180.22" y="558.66" width="9.31" height="9.46" fill="#ded9e1"/>
<rect x="189.02" y="558.66" width="9.31" height="9.46" fill="#e2d9e2"/>
<rect x="206.63" y="558.66" width="9.31" height="9.46" fill="#e0d9e2"/>
<rect x="215.44" y="558.66" width="9.31" height="9.46" fill="#e2d9e2"/>
<rect x="241.86" y="558.66" width="9.31" height="9.46" fill="#e2d9e2"/>
<rect x="250.66" y="558.66" width="9.31" height="9.46" fill="#e2d9e2"/>
<rect x="259.47" y="558.66" width="9.31" height="9.46" fill="#dcd9df"/>
<rect x="268.27" y="558.66" width="9.31" height="9.46" fill="#e2d9e2"/>
<rect x="285.88" y="558.66" width="9.31" height="9.46" fill="#e2d9e2"/>
<rect x="294.69" y="558.66" width="9.31" height="9.46" fill="#e2d9e2"/>
<rect x="303.49" y="558.66" width="9.31" height="9.46" fill="#e2d9e2"/>
<rect x="382.74" y="558.66" width="9.31" height="9.46" fill="#e0d9e2"/>
<rect x="391.55" y="558.66" width="9.31" height="9.46" fill="#e2d9e2"/>
<rect x="444.38" y="558.66" width="9.31" height="9.46" fill="#ded9e1"/>
<rect x="453.19" y="558.66" width="9.31" height="9.46" fill="#e2d9e2"/>
<rect x="497.22" y="558.66" width="9.31" height="9.46" fill="#e2d9e2"/>
<rect x="506.02" y="558.66" width="9.31" height="9.46" fill="#e2d9e2"/>
<rect x="109.77" y="567.62" width="9.31" height="9.46" fill="#dbd8df"/>
<rect x="118.58" y="567.62" width="9.31" height="9.46" fill="#d6d7dd"/>
<rect x="127.38" y="567.62" width="9.31" height="9.46" fill="#dad8df"/>
<rect x="136.19" y="567.62" width="9.31" height="9.46" fill="#c4ced4"/>
<rect x="144.99" y="567.62" width="9.31" height="9.46" fill="#c9d1d7"/>
<rect x="153.80" y="567.62" width="9.31" height="9.46" fill="#dcd9df"/>
<rect x="162.60" y="567.62" width="9.31" height="9.46" fill="#dad8df"/>
<rect x="171.41" y="567.62" width="9.31" height="9.46" fill="#e2d9e2"/>
<rect x="180.22" y="567.62" width="9.31" height="9.46" fill="#e2d9e2"/>
<rect x="189.02" y="567.62" width="9.31" height="9.46" fill="#d9d8de"/>
<rect x="197.83" y="567.62" width="9.31" height="9.46" fill="#ded9e1"/>
<rect x="206.63" y="567.62" width="9.31" height="9.46" fill="#e2d9e2"/>
<rect x="215.44" y="567.62" width="9.31" height="9.46" fill="#e2d9e2"/>
<rect x="250.66" y="567.62" width="9.31" height="9.46" fill="#e0d9e2"/>
<rect x="259.47" y="567.62" width="9.31" height="9.46" fill="#e2d9e2"/>
<rect x="268.27" y="567.62" width="9.31" height="9.46" fill="#e2d9e2"/>
<rect x="382.74" y="567.62" width="9.31" height="9.46" fill="#e2d9e2"/>
<rect x="391.55" y="567.62" width="9.31" height="9.46" fill="#e2d9e2"/>
<rect x="444.38" y="567.62" width="9.31" height="9.46" fill="#e2d9e2"/>
<rect x="453.19" y="567.62" width="9.31" height="9.46" fill="#e2d9e2"/>
<rect x="109.77" y="576.58" width="9.31" height="9.46" fill="#e0d9e2"/>
<rect x="118.58" y="576.58" width="9.31" height="9.46" fill="#ccd2d8"/>
<rect x="127.38" y="576.58" width="9.31" height="9.46" fill="#ded9e1"/>
<rect x="136.19" y="576.58" width="9.31" height="9.46" fill="#e0d9e2"/>
<rect x="144.99" y="576.58" width="9.31" height="9.46" fill="#dcd9df"/>
<rect x="153.80" y="576.58" width="9.31" height="9.46" fill="#ded9e1"/>
<rect x="162.60" y="576.58" width="9.31" height="9.46" fill="#e2d9e2"/>
<rect x="171.41" y="576.58" width="9.31" height="9.46" fill="#e2d9e2"/>
<rect x="180.22" y="576.58" width="9.31" height="9.46" fill="#d9d8de"/>
<rect x="189.02" y="576.58" width="9.31" height="9.46" fill="#e2d9e2"/>
<rect x="197.83" y="576.58" width="9.31" height="9.46" fill="#e2d9e2"/>
<rect x="206.63" y="576.58" width="9.31" height="9.46" fill="#e2d9e2"/>
<rect x="250.66" y="576.58" width="9.31" height="9.46" fill="#e2d9e2"/>
<rect x="259.47" y="576.58" width="9.31" height="9.46" fill="#ded9e1"/>
<rect x="268.27" y="576.58" width="9.31" height="9.46" fill="#e2d9e2"/>
<rect x="479.61" y="576.58" width="9.31" height="9.46" fill="#ddd9e0"/>
<rect x="488.41" y="576.58" width="9.31" height="9.46" fill="#e2d9e2"/>
<rect x="109.77" y="585.53" width="9.31" height="9.46" fill="#e2d9e2"/>
<rect x="118.58" y="585.53" width="9.31" height="9.46" fill="#e1d9e2"/>
<rect x="127.38" y="585.53" width="9.31" height="9.46" fill="#ddd9e0"/>
<rect x="136.19" y="585.53" width="9.31" height="9.46" fill="#dbd8df"/>
<rect x="144.99" y="585.53" width="9.31" height="9.46" fill="#dbd8df"/>
<rect x="153.80" y="585.53" width="9.31" height="9.46" fill="#e2d9e2"/>
<rect x="162.60" y="585.53" width="9.31" height="9.46" fill="#e2d9e2"/>
<rect x="180.22" y="585.53" width="9.31" height="9.46" fill="#e2d9e2"/>
<rect x="189.02" y="585.53" width="9.31" height="9.46" fill="#e2d9e2"/>
<rect x="206.63" y="585.53" width="9.31" height="9.46" fill="#e0d9e2"/>
<rect x="215.44" y="585.53" width="9.31" height="9.46" fill="#e2d9e2"/>
<rect x="259.47" y="585.53" width="9.31" height="9.46" fill="#e2d9e2"/>
<rect x="268.27" y="585.53" width="9.31" height="9.46" fill="#e2d9e2"/>
<rect x="435.58" y="585.53" width="9.31" height="9.46" fill="#dcd9df"/>
<rect x="444.38" y="585.53" width="9.31" height="9.46" fill="#e2d9e2"/>
<rect x="479.61" y="585.53" width="9.31" height="9.46" fill="#e0d9e2"/>
<rect x="488.41" y="585.53" width="9.31" height="9.46" fill="#e2d9e2"/>
<rect x="100.97" y="594.49" width="9.31" height="9.46" fill="#dcd9e0"/>
<rect x="109.77" y="594.49" width="9.31" height="9.46" fill="#e2d9e2"/>
<rect x="118.58" y="594.49" width="9.31" height="9.46" fill="#e2d9e2"/>
<rect x="127.38" y="594.49" width="9.31" height="9.46" fill="#ccd2d8"/>
<rect x="136.19" y="594.49" width="9.31" height="9.46" fill="#e1d9e2"/>
<rect x="144.99" y="594.49" width="9.31" height="9.46" fill="#e2d9e2"/>
<rect x="153.80" y="594.49" width="9.31" height="9.46" fill="#e2d9e2"/>
<rect x="162.60" y="594.49" width="9.31" height="9.46" fill="#dad8df"/>
<rect x="171.41" y="594.49" width="9.31" height="9.46" fill="#e2d9e2"/>
<rect x="206.63" y="594.49" width="9.31" height="9.46" fill="#e2d9e2"/>
<rect x="215.44" y="594.49" width="9.31" height="9.46" fill="#e2d9e2"/>
<rect x="435.58" y="594.49" width="9.31" height="9.46" fill="#e2d9e2"/>
<rect x="444.38" y="594.49" width="9.31" height="9.46" fill="#e2d9e2"/>
<rect x="479.61" y="594.49" width="9.31" height="9.46" fill="#e2d9e2"/>
<rect x="488.41" y="594.49" width="9.31" height="9.46" fill="#e2d9e2"/>
<rect x="100.97" y="603.45" width="9.31" height="9.46" fill="#e2d9e2"/>
<rect x="109.77" y="603.45" width="9.31" height="9.46" fill="#e2d9e2"/>
<rect x="127.38" y="603.45" width="9.31" height="9.46" fill="#e2d9e2"/>
<rect x="136.19" y="603.45" width="9.31" height="9.46" fill="#e2d9e2"/>
<rect x="144.99" y="603.45" width="9.31" height="9.46" fill="#e2d9e2"/>
<rect x="162.60" y="603.45" width="9.31" height="9.46" fill="#dcd9e0"/>
<rect x="171.41" y="603.45" width="9.31" height="9.46" fill="#e2d9e2"/>
<rect x="189.02" y="603.45" width="9.31" height="9.46" fill="#e0d9e2"/>
<rect x="197.83" y="603.45" width="9.31" height="9.46" fill="#e2d9e2"/>
<rect x="206.63" y="603.45" width="9.31" height="9.46" fill="#ded9e1"/>
<rect x="215.44" y="603.45" width="9.31" height="9.46" fill="#e2d9e2"/>
<rect x="259.47" y="603.45" width="9.31" height="9.46" fill="#e0d9e2"/>
<rect x="268.27" y="603.45" width="9.31" height="9.46" fill="#e2d9e2"/>
<rect x="338.72" y="603.45" width="9.31" height="9.46" fill="#dad8df"/>
<rect x="347.52" y="603.45" width="9.31" height="9.46" fill="#e2d9e2"/>
<rect x="373.94" y="603.45" width="9.31" height="9.46" fill="#ded9e1"/>
<rect x="382.74" y="603.45" width="9.31" height="9.46" fill="#e2d9e2"/>
<rect x="109.77" y="612.40" width="9.31" height="9.46" fill="#ddd9e0"/>
<rect x="118.58" y="612.40" width="9.31" height="9.46" fill="#e2d9e2"/>
<rect x="162.60" y="612.40" width="9.31" height="9.46" fill="#e2d9e2"/>
<rect x="171.41" y="612.40" width="9.31" height="9.46" fill="#e2d9e2"/>
<rect x="189.02" y="612.40" width="9.31" height="9.46" fill="#e2d9e2"/>
<rect x="197.83" y="612.40" width="9.31" height="9.46" fill="#e2d9e2"/>
<rect x="206.63" y="612.40" width="9.31" height="9.46" fill="#e2d9e2"/>
<rect x="215.44" y="612.40" width="9.31" height="9.46" fill="#e2d9e2"/>
<rect x="259.47" y="612.40" width="9.31" height="9.46" fill="#e2d9e2"/>
<rect x="268.27" y="612.40" width="9.31" height="9.46" fill="#e2d9e2"/>
<rect x="338.72" y="612.40" width="9.31" height="9.46" fill="#e2d9e2"/>
<rect x="347.52" y="612.40" width="9.31" height="9.46" fill="#e2d9e2"/>
<rect x="373.94" y="612.40" width="9.31" height="9.46" fill="#e2d9e2"/>
<rect x="382.74" y="612.40" width="9.31" height="9.46" fill="#e2d9e2"/>
<rect x="435.58" y="612.40" width="9.31" height="9.46" fill="#dfd9e1"/>
<rect x="444.38" y="612.40" width="9.31" height="9.46" fill="#e2d9e2"/></g>
   <g id="matplotlib.axis_1">
    <g id="xtick_1">
     <g id="line2d_1">
      <defs>
       <path id="m6bbc13c40f" d="M 0 0 
L 0 -7 
" style="stroke: #000000; stroke-width: 1.7"/>
      </defs>
      <g>
       <use href="#m6bbc13c40f" x="92.448" y="622.944" style="stroke: #000000; stroke-width: 1.7"/>
      </g>
     </g>
     <g id="line2d_2">
      <defs>
       <path id="mc6f41d7c7b" d="M 0 0 
L 0 7 
" style="stroke: #000000; stroke-width: 1.7"/>
      </defs>
      <g>
       <use href="#mc6f41d7c7b" x="92.448" y="174.096" style="stroke: #000000; stroke-width: 1.7"/>
      </g>
     </g>
     <g id="text_1">
      <text style="font-size: 20px; font-family: 'DejaVu Serif', 'Liberation Serif', serif; text-anchor: middle" x="92.448" y="645.940" transform="rotate(-0 92.448 645.940)">0</text>
     </g>
    </g>
    <g id="xtick_2">
     <g id="line2d_3">
      <g>
       <use href="#m6bbc13c40f" x="160.460" y="622.944" style="stroke: #000000; stroke-width: 1.7"/>
      </g>
     </g>
     <g id="line2d_4">
      <g>
       <use href="#mc6f41d7c7b" x="160.460" y="174.096" style="stroke: #000000; stroke-width: 1.7"/>
      </g>
     </g>
     <g id="text_2">
      <text style="font-size: 20px; font-family: 'DejaVu Serif', 'Liberation Serif', serif; text-anchor: middle" x="160.460" y="645.940" transform="rotate(-0 160.460 645.940)">100</text>
     </g>
    </g>
    <g id="xtick_3">
     <g id="line2d_5">
      <g>
       <use href="#m6bbc13c40f" x="228.472" y="622.944" style="stroke: #000000; stroke-width: 1.7"/>
      </g>
     </g>
     <g id="line2d_6">
      <g>
       <use href="#mc6f41d7c7b" x="228.472" y="174.096" style="stroke: #000000; stroke-width: 1.7"/>
      </g>
     </g>
     <g id="text_3">
      <text style="font-size: 20px; font-family: 'DejaVu Serif', 'Liberation Serif', serif; text-anchor: middle" x="228.472" y="645.940" transform="rotate(-0 228.472 645.940)">200</text>
     </g>
    </g>
    <g id="xtick_4">
     <g id="line2d_7">
      <g>
       <use href="#m6bbc13c40f" x="296.484" y="622.944" style="stroke: #000000; stroke-width: 1.7"/>
      </g>
     </g>
     <g id="line2d_8">
      <g>
       <use href="#mc6f41d7c7b" x="296.484" y="174.096" style="stroke: #000000; stroke-width: 1.7"/>
      </g>
     </g>
     <g id="text_4">
      <text style="font-size: 20px; font-family: 'DejaVu Serif', 'Liberation Serif', serif; text-anchor: middle" x="296.484" y="645.940" transform="rotate(-0 296.484 645.940)">300</text>
     </g>
    </g>
    <g id="xtick_5">
     <g id="line2d_9">
      <g>
       <use href="#m6bbc13c40f" x="364.497" y="622.944" style="stroke: #000000; stroke-width: 1.7"/>
      </g>
     </g>
     <g id="line2d_10">
      <g>
       <use href="#mc6f41d7c7b" x="364.497" y="174.096" style="stroke: #000000; stroke-width: 1.7"/>
      </g>
     </g>
     <g id="text_5">
      <text style="font-size: 20px; font-family: 'DejaVu Serif', 'Liberation Serif', serif; text-anchor: middle" x="364.497" y="645.940" transform="rotate(-0 364.497 645.940)">400</text>
     </g>
    </g>
    <g id="xtick_6">
     <g id="line2d_11">
      <g>
       <use href="#m6bbc13c40f" x="432.509" y="622.944" style="stroke: #000000; stroke-width: 1.7"/>
      </g>
     </g>
     <g id="line2d_12">
      <g>
       <use href="#mc6f41d7c7b" x="432.509" y="174.096" style="stroke: #000000; stroke-width: 1.7"/>
      </g>
     </g>
     <g id="text_6">
      <text style="font-size: 20px; font-family: 'DejaVu Serif', 'Liberation Serif', serif; text-anchor: middle" x="432.509" y="645.940" transform="rotate(-0 432.509 645.940)">500</text>
     </g>
    </g>
    <g id="xtick_7">
     <g id="line2d_13">
      <g>
       <use href="#m6bbc13c40f" x="500.521" y="622.944" style="stroke: #000000; stroke-width: 1.7"/>
      </g>
     </g>
     <g id="line2d_14">
      <g>
       <use href="#mc6f41d7c7b" x="500.521" y="174.096" style="stroke: #000000; stroke-width: 1.7"/>
      </g>
     </g>
     <g id="text_7">
      <text style="font-size: 20px; font-family: 'DejaVu Serif', 'Liberation Serif', serif; text-anchor: middle" x="500.521" y="645.940" transform="rotate(-0 500.521 645.940)">600</text>
     </g>
    </g>
    <g id="xtick_8">
     <g id="line2d_15">
      <defs>
       <path id="mdcc2ed4d52" d="M 0 0 
L 0 -3.5 
" style="stroke: #000000; stroke-width: 1.6"/>
      </defs>
      <g>
       <use href="#mdcc2ed4d52" x="106.050" y="622.944" style="stroke: #000000; stroke-width: 1.6"/>
      </g>
     </g>
     <g id="line2d_16">
      <defs>
       <path id="mb19a188a09" d="M 0 0 
L 0 3.5 
" style="stroke: #000000; stroke-width: 1.6"/>
      </defs>
      <g>
       <use href="#mb19a188a09" x="106.050" y="174.096" style="stroke: #000000; stroke-width: 1.6"/>
      </g>
     </g>
    </g>
    <g id="xtick_9">
     <g id="line2d_17">
      <g>
       <use href="#mdcc2ed4d52" x="119.652" y="622.944" style="stroke: #000000; stroke-width: 1.6"/>
      </g>
     </g>
     <g id="line2d_18">
      <g>
       <use href="#mb19a188a09" x="119.652" y="174.096" style="stroke: #000000; stroke-width: 1.6"/>
      </g>
     </g>
    </g>
    <g id="xtick_10">
     <g id="line2d_19">
      <g>
       <use href="#mdcc2ed4d52" x="133.255" y="622.944" style="stroke: #000000; stroke-width: 1.6"/>
      </g>
     </g>
     <g id="line2d_20">
      <g>
       <use href="#mb19a188a09" x="133.255" y="174.096" style="stroke: #000000; stroke-width: 1.6"/>
      </g>
     </g>
    </g>
    <g id="xtick_11">
     <g id="line2d_21">
      <g>
       <use href="#mdcc2ed4d52" x="146.857" y="622.944" style="stroke: #000000; stroke-width: 1.6"/>
      </g>
     </g>
     <g id="line2d_22">
      <g>
       <use href="#mb19a188a09" x="146.857" y="174.096" style="stroke: #000000; stroke-width: 1.6"/>
      </g>
     </g>
    </g>
    <g id="xtick_12">
     <g id="line2d_23">
      <g>
       <use href="#mdcc2ed4d52" x="174.062" y="622.944" style="stroke: #000000; stroke-width: 1.6"/>
      </g>
     </g>
     <g id="line2d_24">
      <g>
       <use href="#mb19a188a09" x="174.062" y="174.096" style="stroke: #000000; stroke-width: 1.6"/>
      </g>
     </g>
    </g>
    <g id="xtick_13">
     <g id="line2d_25">
      <g>
       <use href="#mdcc2ed4d52" x="187.665" y="622.944" style="stroke: #000000; stroke-width: 1.6"/>
      </g>
     </g>
     <g id="line2d_26">
      <g>
       <use href="#mb19a188a09" x="187.665" y="174.096" style="stroke: #000000; stroke-width: 1.6"/>
      </g>
     </g>
    </g>
    <g id="xtick_14">
     <g id="line2d_27">
      <g>
       <use href="#mdcc2ed4d52" x="201.267" y="622.944" style="stroke: #000000; stroke-width: 1.6"/>
      </g>
     </g>
     <g id="line2d_28">
      <g>
       <use href="#mb19a188a09" x="201.267" y="174.096" style="stroke: #000000; stroke-width: 1.6"/>
      </g>
     </g>
    </g>
    <g id="xtick_15">
     <g id="line2d_29">
      <g>
       <use href="#mdcc2ed4d52" x="214.870" y="622.944" style="stroke: #000000; stroke-width: 1.6"/>
      </g>
     </g>
     <g id="line2d_30">
      <g>
       <use href="#mb19a188a09" x="214.870" y="174.096" style="stroke: #000000; stroke-width: 1.6"/>
      </g>
     </g>
    </g>
    <g id="xtick_16">
     <g id="line2d_31">
      <g>
       <use href="#mdcc2ed4d52" x="242.075" y="622.944" style="stroke: #000000; stroke-width: 1.6"/>
      </g>
     </g>
     <g id="line2d_32">
      <g>
       <use href="#mb19a188a09" x="242.075" y="174.096" style="stroke: #000000; stroke-width: 1.6"/>
      </g>
     </g>
    </g>
    <g id="xtick_17">
     <g id="line2d_33">
      <g>
       <use href="#mdcc2ed4d52" x="255.677" y="622.944" style="stroke: #000000; stroke-width: 1.6"/>
      </g>
     </g>
     <g id="line2d_34">
      <g>
       <use href="#mb19a188a09" x="255.677" y="174.096" style="stroke: #000000; stroke-width: 1.6"/>
      </g>
     </g>
    </g>
    <g id="xtick_18">
     <g id="line2d_35">
      <g>
       <use href="#mdcc2ed4d52" x="269.28" y="622.944" style="stroke: #000000; stroke-width: 1.6"/>
      </g>
     </g>
     <g id="line2d_36">
      <g>
       <use href="#mb19a188a09" x="269.28" y="174.096" style="stroke: #000000; stroke-width: 1.6"/>
      </g>
     </g>
    </g>
    <g id="xtick_19">
     <g id="line2d_37">
      <g>
       <use href="#mdcc2ed4d52" x="282.882" y="622.944" style="stroke: #000000; stroke-width: 1.6"/>
      </g>
     </g>
     <g id="line2d_38">
      <g>
       <use href="#mb19a188a09" x="282.882" y="174.096" style="stroke: #000000; stroke-width: 1.6"/>
      </g>
     </g>
    </g>
    <g id="xtick_20">
     <g id="line2d_39">
      <g>
       <use href="#mdcc2ed4d52" x="310.087" y="622.944" style="stroke: #000000; stroke-width: 1.6"/>
      </g>
     </g>
     <g id="line2d_40">
      <g>
       <use href="#mb19a188a09" x="310.087" y="174.096" style="stroke: #000000; stroke-width: 1.6"/>
      </g>
     </g>
    </g>
    <g id="xtick_21">
     <g id="line2d_41">
      <g>
       <use href="#mdcc2ed4d52" x="323.689" y="622.944" style="stroke: #000000; stroke-width: 1.6"/>
      </g>
     </g>
     <g id="line2d_42">
      <g>
       <use href="#mb19a188a09" x="323.689" y="174.096" style="stroke: #000000; stroke-width: 1.6"/>
      </g>
     </g>
    </g>
    <g id="xtick_22">
     <g id="line2d_43">
      <g>
       <use href="#mdcc2ed4d52" x="337.292" y="622.944" style="stroke: #000000; stroke-width: 1.6"/>
      </g>
     </g>
     <g id="line2d_44">
      <g>
       <use href="#mb19a188a09" x="337.292" y="174.096" style="stroke: #000000; stroke-width: 1.6"/>
      </g>
     </g>
    </g>
    <g id="xtick_23">
     <g id="line2d_45">
      <g>
       <use href="#mdcc2ed4d52" x="350.894" y="622.944" style="stroke: #000000; stroke-width: 1.6"/>
      </g>
     </g>
     <g id="line2d_46">
      <g>
       <use href="#mb19a188a09" x="350.894" y="174.096" style="stroke: #000000; stroke-width: 1.6"/>
      </g>
     </g>
    </g>
    <g id="xtick_24">
     <g id="line2d_47">
      <g>
       <use href="#mdcc2ed4d52" x="378.099" y="622.944" style="stroke: #000000; stroke-width: 1.6"/>
      </g>
     </g>
     <g id="line2d_48">
      <g>
       <use href="#mb19a188a09" x="378.099" y="174.096" style="stroke: #000000; stroke-width: 1.6"/>
      </g>
     </g>
    </g>
    <g id="xtick_25">
     <g id="line2d_49">
      <g>
       <use href="#mdcc2ed4d52" x="391.702" y="622.944" style="stroke: #000000; stroke-width: 1.6"/>
      </g>
     </g>
     <g id="line2d_50">
      <g>
       <use href="#mb19a188a09" x="391.702" y="174.096" style="stroke: #000000; stroke-width: 1.6"/>
      </g>
     </g>
    </g>
    <g id="xtick_26">
     <g id="line2d_51">
      <g>
       <use href="#mdcc2ed4d52" x="405.304" y="622.944" style="stroke: #000000; stroke-width: 1.6"/>
      </g>
     </g>
     <g id="line2d_52">
      <g>
       <use href="#mb19a188a09" x="405.304" y="174.096" style="stroke: #000000; stroke-width: 1.6"/>
      </g>
     </g>
    </g>
    <g id="xtick_27">
     <g id="line2d_53">
      <g>
       <use href="#mdcc2ed4d52" x="418.907" y="622.944" style="stroke: #000000; stroke-width: 1.6"/>
      </g>
     </g>
     <g id="line2d_54">
      <g>
       <use href="#mb19a188a09" x="418.907" y="174.096" style="stroke: #000000; stroke-width: 1.6"/>
      </g>
     </g>
    </g>
    <g id="xtick_28">
     <g id="line2d_55">
      <g>
       <use href="#mdcc2ed4d52" x="446.112" y="622.944" style="stroke: #000000; stroke-width: 1.6"/>
      </g>
     </g>
     <g id="line2d_56">
      <g>
       <use href="#mb19a188a09" x="446.112" y="174.096" style="stroke: #000000; stroke-width: 1.6"/>
      </g>
     </g>
    </g>
    <g id="xtick_29">
     <g id="line2d_57">
      <g>
       <use href="#mdcc2ed4d52" x="459.714" y="622.944" style="stroke: #000000; stroke-width: 1.6"/>
      </g>
     </g>
     <g id="line2d_58">
      <g>
       <use href="#mb19a188a09" x="459.714" y="174.096" style="stroke: #000000; stroke-width: 1.6"/>
      </g>
     </g>
    </g>
    <g id="xtick_30">
     <g id="line2d_59">
      <g>
       <use href="#mdcc2ed4d52" x="473.316" y="622.944" style="stroke: #000000; stroke-width: 1.6"/>
      </g>
     </g>
     <g id="line2d_60">
      <g>
       <use href="#mb19a188a09" x="473.316" y="174.096" style="stroke: #000000; stroke-width: 1.6"/>
      </g>
     </g>
    </g>
    <g id="xtick_31">
     <g id="line2d_61">
      <g>
       <use href="#mdcc2ed4d52" x="486.919" y="622.944" style="stroke: #000000; stroke-width: 1.6"/>
      </g>
     </g>
     <g id="line2d_62">
      <g>
       <use href="#mb19a188a09" x="486.919" y="174.096" style="stroke: #000000; stroke-width: 1.6"/>
      </g>
     </g>
    </g>
    <g id="xtick_32">
     <g id="line2d_63">
      <g>
       <use href="#mdcc2ed4d52" x="514.124" y="622.944" style="stroke: #000000; stroke-width: 1.6"/>
      </g>
     </g>
     <g id="line2d_64">
      <g>
       <use href="#mb19a188a09" x="514.124" y="174.096" style="stroke: #000000; stroke-width: 1.6"/>
      </g>
     </g>
    </g>
    <g id="xtick_33">
     <g id="line2d_65">
      <g>
       <use href="#mdcc2ed4d52" x="527.726" y="622.944" style="stroke: #000000; stroke-width: 1.6"/>
      </g>
     </g>
     <g id="line2d_66">
      <g>
       <use href="#mb19a188a09" x="527.726" y="174.096" style="stroke: #000000; stroke-width: 1.6"/>
      </g>
     </g>
    </g>
    <g id="text_8">
     <!-- $\tilde{x}_{corr} \equiv W_{20,corr}$ (km/s) -->
     <g transform="translate(209.388 675.700)">
      <text>
       <tspan x="12.177" y="-1.468" style="font-size: 20px; font-family: 'DejaVu Sans', 'Liberation Sans', sans-serif">̃</tspan>
       <tspan x="44.245" y="-0.812" style="font-size: 20px; font-family: 'DejaVu Sans', 'Liberation Sans', sans-serif">≡</tspan>
       <tspan x="0" y="-0.812" style="font-style: oblique; font-size: 20px; font-family: 'DejaVu Sans', 'Liberation Sans', sans-serif">x</tspan>
       <tspan x="64.899" y="-0.812" style="font-style: oblique; font-size: 20px; font-family: 'DejaVu Sans', 'Liberation Sans', sans-serif">W</tspan>
       <tspan x="12.027" y="2.468" style="font-style: oblique; font-size: 14px; font-family: 'DejaVu Sans', 'Liberation Sans', sans-serif">c</tspan>
       <tspan x="19.724" y="2.468" style="font-style: oblique; font-size: 14px; font-family: 'DejaVu Sans', 'Liberation Sans', sans-serif">o</tspan>
       <tspan x="28.290" y="2.468" style="font-style: oblique; font-size: 14px; font-family: 'DejaVu Sans', 'Liberation Sans', sans-serif">r</tspan>
       <tspan x="34.045" y="2.468" style="font-style: oblique; font-size: 14px; font-family: 'DejaVu Sans', 'Liberation Sans', sans-serif">r</tspan>
       <tspan x="109.666" y="2.468" style="font-style: oblique; font-size: 14px; font-family: 'DejaVu Sans', 'Liberation Sans', sans-serif">c</tspan>
       <tspan x="117.364" y="2.468" style="font-style: oblique; font-size: 14px; font-family: 'DejaVu Sans', 'Liberation Sans', sans-serif">o</tspan>
       <tspan x="125.929" y="2.468" style="font-style: oblique; font-size: 14px; font-family: 'DejaVu Sans', 'Liberation Sans', sans-serif">r</tspan>
       <tspan x="131.685" y="2.468" style="font-style: oblique; font-size: 14px; font-family: 'DejaVu Sans', 'Liberation Sans', sans-serif">r</tspan>
       <tspan x="84.674" y="2.468" style="font-size: 14px; font-family: 'DejaVu Sans', 'Liberation Sans', sans-serif">2</tspan>
       <tspan x="93.582" y="2.468" style="font-size: 14px; font-family: 'DejaVu Sans', 'Liberation Sans', sans-serif">0</tspan>
       <tspan x="102.489" y="2.468" style="font-size: 14px; font-family: 'DejaVu Sans', 'Liberation Sans', sans-serif">,</tspan>
       <tspan x="137.988" y="-0.812" style="font-size: 20px; font-family: 'DejaVu Serif', 'Liberation Serif', serif"> </tspan>
       <tspan x="144.345" y="-0.812" style="font-size: 20px; font-family: 'DejaVu Serif', 'Liberation Serif', serif">(</tspan>
       <tspan x="152.148" y="-0.812" style="font-size: 20px; font-family: 'DejaVu Serif', 'Liberation Serif', serif">k</tspan>
       <tspan x="164.267" y="-0.812" style="font-size: 20px; font-family: 'DejaVu Serif', 'Liberation Serif', serif">m</tspan>
       <tspan x="183.232" y="-0.812" style="font-size: 20px; font-family: 'DejaVu Serif', 'Liberation Serif', serif">/</tspan>
       <tspan x="189.970" y="-0.812" style="font-size: 20px; font-family: 'DejaVu Serif', 'Liberation Serif', serif">s</tspan>
       <tspan x="200.234" y="-0.812" style="font-size: 20px; font-family: 'DejaVu Serif', 'Liberation Serif', serif">)</tspan>
      </text>
     </g>
    </g>
   </g>
   <g id="matplotlib.axis_2">
    <g id="ytick_1">
     <g id="line2d_67">
      <defs>
       <path id="m655200f965" d="M 0 0 
L 7 0 
" style="stroke: #000000; stroke-width: 1.7"/>
      </defs>
      <g>
       <use href="#m655200f965" x="92.448" y="218.980" style="stroke: #000000; stroke-width: 1.7"/>
      </g>
     </g>
     <g id="line2d_68">
      <defs>
       <path id="mf1af1d5090" d="M 0 0 
L -7 0 
" style="stroke: #000000; stroke-width: 1.7"/>
      </defs>
      <g>
       <use href="#mf1af1d5090" x="534.528" y="218.980" style="stroke: #000000; stroke-width: 1.7"/>
      </g>
     </g>
     <g id="text_9">
      <text style="font-size: 20px; font-family: 'DejaVu Serif', 'Liberation Serif', serif; text-anchor: end" x="85.448" y="227.579" transform="rotate(-0 85.448 227.579)">−22</text>
     </g>
    </g>
    <g id="ytick_2">
     <g id="line2d_69">
      <g>
       <use href="#m655200f965" x="92.448" y="308.750" style="stroke: #000000; stroke-width: 1.7"/>
      </g>
     </g>
     <g id="line2d_70">
      <g>
       <use href="#mf1af1d5090" x="534.528" y="308.750" style="stroke: #000000; stroke-width: 1.7"/>
      </g>
     </g>
     <g id="text_10">
      <text style="font-size: 20px; font-family: 'DejaVu Serif', 'Liberation Serif', serif; text-anchor: end" x="85.448" y="317.348" transform="rotate(-0 85.448 317.348)">−20</text>
     </g>
    </g>
    <g id="ytick_3">
     <g id="line2d_71">
      <g>
       <use href="#m655200f965" x="92.448" y="398.52" style="stroke: #000000; stroke-width: 1.7"/>
      </g>
     </g>
     <g id="line2d_72">
      <g>
       <use href="#mf1af1d5090" x="534.528" y="398.52" style="stroke: #000000; stroke-width: 1.7"/>
      </g>
     </g>
     <g id="text_11">
      <text style="font-size: 20px; font-family: 'DejaVu Serif', 'Liberation Serif', serif; text-anchor: end" x="85.448" y="407.118" transform="rotate(-0 85.448 407.118)">−18</text>
     </g>
    </g>
    <g id="ytick_4">
     <g id="line2d_73">
      <g>
       <use href="#m655200f965" x="92.448" y="488.289" style="stroke: #000000; stroke-width: 1.7"/>
      </g>
     </g>
     <g id="line2d_74">
      <g>
       <use href="#mf1af1d5090" x="534.528" y="488.289" style="stroke: #000000; stroke-width: 1.7"/>
      </g>
     </g>
     <g id="text_12">
      <text style="font-size: 20px; font-family: 'DejaVu Serif', 'Liberation Serif', serif; text-anchor: end" x="85.448" y="496.888" transform="rotate(-0 85.448 496.888)">−16</text>
     </g>
    </g>
    <g id="ytick_5">
     <g id="line2d_75">
      <g>
       <use href="#m655200f965" x="92.448" y="578.059" style="stroke: #000000; stroke-width: 1.7"/>
      </g>
     </g>
     <g id="line2d_76">
      <g>
       <use href="#mf1af1d5090" x="534.528" y="578.059" style="stroke: #000000; stroke-width: 1.7"/>
      </g>
     </g>
     <g id="text_13">
      <text style="font-size: 20px; font-family: 'DejaVu Serif', 'Liberation Serif', serif; text-anchor: end" x="85.448" y="586.657" transform="rotate(-0 85.448 586.657)">−14</text>
     </g>
    </g>
    <g id="ytick_6">
     <g id="line2d_77">
      <defs>
       <path id="m14c185b99c" d="M 0 0 
L 3.5 0 
" style="stroke: #000000; stroke-width: 1.6"/>
      </defs>
      <g>
       <use href="#m14c185b99c" x="92.448" y="174.096" style="stroke: #000000; stroke-width: 1.6"/>
      </g>
     </g>
     <g id="line2d_78">
      <defs>
       <path id="m5b1c192d87" d="M 0 0 
L -3.5 0 
" style="stroke: #000000; stroke-width: 1.6"/>
      </defs>
      <g>
       <use href="#m5b1c192d87" x="534.528" y="174.096" style="stroke: #000000; stroke-width: 1.6"/>
      </g>
     </g>
    </g>
    <g id="ytick_7">
     <g id="line2d_79">
      <g>
       <use href="#m14c185b99c" x="92.448" y="196.538" style="stroke: #000000; stroke-width: 1.6"/>
      </g>
     </g>
     <g id="line2d_80">
      <g>
       <use href="#m5b1c192d87" x="534.528" y="196.538" style="stroke: #000000; stroke-width: 1.6"/>
      </g>
     </g>
    </g>
    <g id="ytick_8">
     <g id="line2d_81">
      <g>
       <use href="#m14c185b99c" x="92.448" y="241.423" style="stroke: #000000; stroke-width: 1.6"/>
      </g>
     </g>
     <g id="line2d_82">
      <g>
       <use href="#m5b1c192d87" x="534.528" y="241.423" style="stroke: #000000; stroke-width: 1.6"/>
      </g>
     </g>
    </g>
    <g id="ytick_9">
     <g id="line2d_83">
      <g>
       <use href="#m14c185b99c" x="92.448" y="263.865" style="stroke: #000000; stroke-width: 1.6"/>
      </g>
     </g>
     <g id="line2d_84">
      <g>
       <use href="#m5b1c192d87" x="534.528" y="263.865" style="stroke: #000000; stroke-width: 1.6"/>
      </g>
     </g>
    </g>
    <g id="ytick_10">
     <g id="line2d_85">
      <g>
       <use href="#m14c185b99c" x="92.448" y="286.308" style="stroke: #000000; stroke-width: 1.6"/>
      </g>
     </g>
     <g id="line2d_86">
      <g>
       <use href="#m5b1c192d87" x="534.528" y="286.308" style="stroke: #000000; stroke-width: 1.6"/>
      </g>
     </g>
    </g>
    <g id="ytick_11">
     <g id="line2d_87">
      <g>
       <use href="#m14c185b99c" x="92.448" y="331.192" style="stroke: #000000; stroke-width: 1.6"/>
      </g>
     </g>
     <g id="line2d_88">
      <g>
       <use href="#m5b1c192d87" x="534.528" y="331.192" style="stroke: #000000; stroke-width: 1.6"/>
      </g>
     </g>
    </g>
    <g id="ytick_12">
     <g id="line2d_89">
      <g>
       <use href="#m14c185b99c" x="92.448" y="353.635" style="stroke: #000000; stroke-width: 1.6"/>
      </g>
     </g>
     <g id="line2d_90">
      <g>
       <use href="#m5b1c192d87" x="534.528" y="353.635" style="stroke: #000000; stroke-width: 1.6"/>
      </g>
     </g>
    </g>
    <g id="ytick_13">
     <g id="line2d_91">
      <g>
       <use href="#m14c185b99c" x="92.448" y="376.077" style="stroke: #000000; stroke-width: 1.6"/>
      </g>
     </g>
     <g id="line2d_92">
      <g>
       <use href="#m5b1c192d87" x="534.528" y="376.077" style="stroke: #000000; stroke-width: 1.6"/>
      </g>
     </g>
    </g>
    <g id="ytick_14">
     <g id="line2d_93">
      <g>
       <use href="#m14c185b99c" x="92.448" y="420.962" style="stroke: #000000; stroke-width: 1.6"/>
      </g>
     </g>
     <g id="line2d_94">
      <g>
       <use href="#m5b1c192d87" x="534.528" y="420.962" style="stroke: #000000; stroke-width: 1.6"/>
      </g>
     </g>
    </g>
    <g id="ytick_15">
     <g id="line2d_95">
      <g>
       <use href="#m14c185b99c" x="92.448" y="443.404" style="stroke: #000000; stroke-width: 1.6"/>
      </g>
     </g>
     <g id="line2d_96">
      <g>
       <use href="#m5b1c192d87" x="534.528" y="443.404" style="stroke: #000000; stroke-width: 1.6"/>
      </g>
     </g>
    </g>
    <g id="ytick_16">
     <g id="line2d_97">
      <g>
       <use href="#m14c185b99c" x="92.448" y="465.847" style="stroke: #000000; stroke-width: 1.6"/>
      </g>
     </g>
     <g id="line2d_98">
      <g>
       <use href="#m5b1c192d87" x="534.528" y="465.847" style="stroke: #000000; stroke-width: 1.6"/>
      </g>
     </g>
    </g>
    <g id="ytick_17">
     <g id="line2d_99">
      <g>
       <use href="#m14c185b99c" x="92.448" y="510.732" style="stroke: #000000; stroke-width: 1.6"/>
      </g>
     </g>
     <g id="line2d_100">
      <g>
       <use href="#m5b1c192d87" x="534.528" y="510.732" style="stroke: #000000; stroke-width: 1.6"/>
      </g>
     </g>
    </g>
    <g id="ytick_18">
     <g id="line2d_101">
      <g>
       <use href="#m14c185b99c" x="92.448" y="533.174" style="stroke: #000000; stroke-width: 1.6"/>
      </g>
     </g>
     <g id="line2d_102">
      <g>
       <use href="#m5b1c192d87" x="534.528" y="533.174" style="stroke: #000000; stroke-width: 1.6"/>
      </g>
     </g>
    </g>
    <g id="ytick_19">
     <g id="line2d_103">
      <g>
       <use href="#m14c185b99c" x="92.448" y="555.616" style="stroke: #000000; stroke-width: 1.6"/>
      </g>
     </g>
     <g id="line2d_104">
      <g>
       <use href="#m5b1c192d87" x="534.528" y="555.616" style="stroke: #000000; stroke-width: 1.6"/>
      </g>
     </g>
    </g>
    <g id="ytick_20">
     <g id="line2d_105">
      <g>
       <use href="#m14c185b99c" x="92.448" y="600.501" style="stroke: #000000; stroke-width: 1.6"/>
      </g>
     </g>
     <g id="line2d_106">
      <g>
       <use href="#m5b1c192d87" x="534.528" y="600.501" style="stroke: #000000; stroke-width: 1.6"/>
      </g>
     </g>
    </g>
    <g id="ytick_21">
     <g id="line2d_107">
      <g>
       <use href="#m14c185b99c" x="92.448" y="622.944" style="stroke: #000000; stroke-width: 1.6"/>
      </g>
     </g>
     <g id="line2d_108">
      <g>
       <use href="#m5b1c192d87" x="534.528" y="622.944" style="stroke: #000000; stroke-width: 1.6"/>
      </g>
     </g>
    </g>
    <g id="text_14">
     <!-- $\tilde{y}_{corr} \equiv M_{i,corr}$ (mag) -->
     <g transform="translate(27.638 492.12) rotate(-90)">
      <text>
       <tspan x="12.177" y="-1.468" style="font-size: 20px; font-family: 'DejaVu Sans', 'Liberation Sans', sans-serif">̃</tspan>
       <tspan x="44.245" y="-0.812" style="font-size: 20px; font-family: 'DejaVu Sans', 'Liberation Sans', sans-serif">≡</tspan>
       <tspan x="0" y="-0.812" style="font-style: oblique; font-size: 20px; font-family: 'DejaVu Sans', 'Liberation Sans', sans-serif">y</tspan>
       <tspan x="64.899" y="-0.812" style="font-style: oblique; font-size: 20px; font-family: 'DejaVu Sans', 'Liberation Sans', sans-serif">M</tspan>
       <tspan x="12.027" y="2.468" style="font-style: oblique; font-size: 14px; font-family: 'DejaVu Sans', 'Liberation Sans', sans-serif">c</tspan>
       <tspan x="19.724" y="2.468" style="font-style: oblique; font-size: 14px; font-family: 'DejaVu Sans', 'Liberation Sans', sans-serif">o</tspan>
       <tspan x="28.290" y="2.468" style="font-style: oblique; font-size: 14px; font-family: 'DejaVu Sans', 'Liberation Sans', sans-serif">r</tspan>
       <tspan x="34.045" y="2.468" style="font-style: oblique; font-size: 14px; font-family: 'DejaVu Sans', 'Liberation Sans', sans-serif">r</tspan>
       <tspan x="82.155" y="2.468" style="font-style: oblique; font-size: 14px; font-family: 'DejaVu Sans', 'Liberation Sans', sans-serif">i</tspan>
       <tspan x="93.222" y="2.468" style="font-style: oblique; font-size: 14px; font-family: 'DejaVu Sans', 'Liberation Sans', sans-serif">c</tspan>
       <tspan x="100.919" y="2.468" style="font-style: oblique; font-size: 14px; font-family: 'DejaVu Sans', 'Liberation Sans', sans-serif">o</tspan>
       <tspan x="109.485" y="2.468" style="font-style: oblique; font-size: 14px; font-family: 'DejaVu Sans', 'Liberation Sans', sans-serif">r</tspan>
       <tspan x="115.241" y="2.468" style="font-style: oblique; font-size: 14px; font-family: 'DejaVu Sans', 'Liberation Sans', sans-serif">r</tspan>
       <tspan x="86.044" y="2.468" style="font-size: 14px; font-family: 'DejaVu Sans', 'Liberation Sans', sans-serif">,</tspan>
       <tspan x="121.543" y="-0.812" style="font-size: 20px; font-family: 'DejaVu Serif', 'Liberation Serif', serif"> </tspan>
       <tspan x="127.901" y="-0.812" style="font-size: 20px; font-family: 'DejaVu Serif', 'Liberation Serif', serif">(</tspan>
       <tspan x="135.704" y="-0.812" style="font-size: 20px; font-family: 'DejaVu Serif', 'Liberation Serif', serif">m</tspan>
       <tspan x="154.668" y="-0.812" style="font-size: 20px; font-family: 'DejaVu Serif', 'Liberation Serif', serif">a</tspan>
       <tspan x="166.592" y="-0.812" style="font-size: 20px; font-family: 'DejaVu Serif', 'Liberation Serif', serif">g</tspan>
       <tspan x="179.395" y="-0.812" style="font-size: 20px; font-family: 'DejaVu Serif', 'Liberation Serif', serif">)</tspan>
      </text>
     </g>
    </g>
   </g>
   <g id="patch_3">
    <path d="M 92.448 622.944 
L 92.448 174.096 
" style="fill: none; stroke: #000000; stroke-width: 1.6; stroke-linejoin: miter; stroke-linecap: square"/>
   </g>
   <g id="patch_4">
    <path d="M 534.528 622.944 
L 534.528 174.096 
" style="fill: none; stroke: #000000; stroke-width: 1.6; stroke-linejoin: miter; stroke-linecap: square"/>
   </g>
   <g id="patch_5">
    <path d="M 92.448 622.944 
L 534.528 622.944 
" style="fill: none; stroke: #000000; stroke-width: 1.6; stroke-linejoin: miter; stroke-linecap: square"/>
   </g>
   <g id="patch_6">
    <path d="M 92.448 174.096 
L 534.528 174.096 
" style="fill: none; stroke: #000000; stroke-width: 1.6; stroke-linejoin: miter; stroke-linecap: square"/>
   </g>
   <g id="line2d_109">
    <path d="M 123.736 679.96 
L 126.112 664.215 
L 128.979 646.696 
L 131.845 630.500 
L 134.711 615.442 
L 137.577 601.373 
L 140.443 588.170 
L 143.309 575.733 
L 147.608 558.334 
L 151.907 542.242 
L 156.206 527.273 
L 160.505 513.281 
L 164.804 500.147 
L 169.104 487.771 
L 173.403 476.070 
L 177.702 464.975 
L 182.001 454.426 
L 186.300 444.372 
L 190.599 434.768 
L 196.331 422.598 
L 202.063 411.081 
L 207.795 400.151 
L 213.528 389.752 
L 219.260 379.833 
L 224.992 370.354 
L 230.724 361.275 
L 236.456 352.566 
L 242.188 344.196 
L 249.353 334.174 
L 256.519 324.599 
L 263.684 315.434 
L 270.849 306.644 
L 278.014 298.200 
L 285.179 290.077 
L 292.345 282.250 
L 300.943 273.219 
L 309.541 264.554 
L 318.139 256.225 
L 326.737 248.208 
L 335.336 240.480 
L 343.934 233.020 
L 353.965 224.634 
L 363.996 216.563 
L 374.028 208.784 
L 384.059 201.278 
L 394.090 194.026 
L 405.554 186.028 
L 417.019 178.317 
L 428.483 170.874 
L 439.947 163.681 
L 452.844 155.866 
L 465.742 148.327 
L 478.639 141.044 
L 491.536 134.000 
L 505.867 126.435 
L 520.197 119.129 
L 534.528 112.063 
L 534.528 112.063 
" clip-path="url(#pa96011f8ba)" style="fill: none; stroke-dasharray: 10.908,5.004; stroke-dashoffset: 0; stroke: #ff0000; stroke-width: 3.6"/>
   </g>
   <g id="patch_7">
    <path d="M 377.68 612.576 
L 519.872 612.576 
Q 523.872 612.576 523.872 608.576 
L 523.872 543.64 
Q 523.872 539.64 519.872 539.64 
L 377.68 539.64 
Q 373.68 539.64 373.68 543.64 
L 373.68 608.576 
Q 373.68 612.576 377.68 612.576 
z
" style="fill: #ffffff; fill-opacity: 0.8; stroke: #c7c7c7; stroke-width: 1.8; stroke-linejoin: miter"/>
   </g>
   <g id="legend_1">
    <g id="patch_8">
     <path d="M 382.128 569.587 
L 422.128 569.587 
L 422.128 555.587 
L 382.128 555.587 
z
" style="fill: #b22222; stroke: #b22222; stroke-width: 2; stroke-linejoin: miter"/>
    </g>
    <g id="text_15">
     <!-- $\tilde{\phi}_{corr}$ -->
     <g transform="translate(439.128 569.587)">
      <text>
       <tspan x="13.517" y="-5.468" style="font-size: 20px; font-family: 'DejaVu Sans', 'Liberation Sans', sans-serif">̃</tspan>
       <tspan x="0" y="-0.546" style="font-style: oblique; font-size: 20px; font-family: 'DejaVu Sans', 'Liberation Sans', sans-serif">ϕ</tspan>
       <tspan x="13.384" y="2.734" style="font-style: oblique; font-size: 14px; font-family: 'DejaVu Sans', 'Liberation Sans', sans-serif">c</tspan>
       <tspan x="21.082" y="2.734" style="font-style: oblique; font-size: 14px; font-family: 'DejaVu Sans', 'Liberation Sans', sans-serif">o</tspan>
       <tspan x="29.647" y="2.734" style="font-style: oblique; font-size: 14px; font-family: 'DejaVu Sans', 'Liberation Sans', sans-serif">r</tspan>
       <tspan x="35.403" y="2.734" style="font-style: oblique; font-size: 14px; font-family: 'DejaVu Sans', 'Liberation Sans', sans-serif">r</tspan>
      </text>
     </g>
    </g>
    <g id="line2d_110">
     <path d="M 382.128 593.784 
L 402.128 593.784 
L 422.128 593.784 
" style="fill: none; stroke-dasharray: 11.88,4.125; stroke-dashoffset: 0; stroke: #ff0000; stroke-width: 3.3"/>
    </g>
    <g id="text_16">
     <!-- $L \propto W^{4.4}$ -->
     <g transform="translate(439.128 600.784)">
      <text>
       <tspan x="0" y="-0.139" style="font-style: oblique; font-size: 20px; font-family: 'DejaVu Sans', 'Liberation Sans', sans-serif">L</tspan>
       <tspan x="33.222" y="-0.139" style="font-style: oblique; font-size: 20px; font-family: 'DejaVu Sans', 'Liberation Sans', sans-serif">W</tspan>
       <tspan x="15.039" y="-0.139" style="font-size: 20px; font-family: 'DejaVu Sans', 'Liberation Sans', sans-serif">∝</tspan>
       <tspan x="54.400" y="-7.795" style="font-size: 14px; font-family: 'DejaVu Sans', 'Liberation Sans', sans-serif">4</tspan>
       <tspan x="63.308" y="-7.795" style="font-size: 14px; font-family: 'DejaVu Sans', 'Liberation Sans', sans-serif">.</tspan>
       <tspan x="67.758" y="-7.795" style="font-size: 14px; font-family: 'DejaVu Sans', 'Liberation Sans', sans-serif">4</tspan>
      </text>
     </g>
    </g>
   </g>
  </g>
  <g id="axes_2">
   <g id="patch_9">
    <path d="M 92.448 150.336 
L 534.528 150.336 
L 534.528 0.936 
L 92.448 0.936 
L 92.448 150.336 
z
" style="fill: none"/>
   </g>
   <g id="H_tb" clip-path="url(#pdfea9045f9)"><mask id="mH_tb" maskUnits="userSpaceOnUse" x="0" y="0" width="712" height="680"><path d="M 92.448 150.336 
L 92.448 150.336 
L 101.289 150.336 
L 101.289 150.336 
L 110.131 150.336 
L 110.131 140.847 
L 118.972 140.847 
L 118.972 116.880 
L 127.814 116.880 
L 127.814 96.853 
L 136.656 96.853 
L 136.656 79.452 
L 145.497 79.452 
L 145.497 68.453 
L 154.339 68.453 
L 154.339 51.709 
L 163.180 51.709 
L 163.180 39.397 
L 172.022 39.397 
L 172.022 31.517 
L 180.864 31.517 
L 180.864 11.818 
L 189.705 11.818 
L 189.705 21.668 
L 198.547 21.668 
L 198.547 13.132 
L 207.388 13.132 
L 207.388 8.207 
L 216.230 8.207 
L 216.230 17.728 
L 225.072 17.728 
L 225.072 21.340 
L 233.913 21.340 
L 233.913 27.085 
L 242.755 27.085 
L 242.755 36.114 
L 251.596 36.114 
L 251.596 46.784 
L 260.438 46.784 
L 260.438 53.843 
L 269.28 53.843 
L 269.28 62.051 
L 278.121 62.051 
L 278.121 71.900 
L 286.963 71.900 
L 286.963 77.154 
L 295.804 77.154 
L 295.804 89.137 
L 304.646 89.137 
L 304.646 92.420 
L 313.488 92.420 
L 313.488 102.106 
L 322.329 102.106 
L 322.329 105.389 
L 331.171 105.389 
L 331.171 110.314 
L 340.012 110.314 
L 340.012 114.582 
L 348.854 114.582 
L 348.854 117.372 
L 357.696 117.372 
L 357.696 124.521 
L 366.537 124.521 
L 366.537 125.633 
L 375.379 125.633 
L 375.379 128.838 
L 384.220 128.838 
L 384.220 132.117 
L 393.062 132.117 
L 393.062 137.036 
L 401.904 137.036 
L 401.904 138.311 
L 410.745 138.311 
L 410.745 141.044 
L 419.587 141.044 
L 419.587 141.955 
L 428.428 141.955 
L 428.428 143.412 
L 437.270 143.412 
L 437.270 147.056 
L 446.112 147.056 
L 446.112 143.048 
L 454.953 143.048 
L 454.953 145.781 
L 463.795 145.781 
L 463.795 147.056 
L 472.636 147.056 
L 472.636 147.967 
L 481.478 147.967 
L 481.478 148.514 
L 490.32 148.514 
L 490.32 148.878 
L 499.161 148.878 
L 499.161 149.242 
L 508.003 149.242 
L 508.003 149.607 
L 516.844 149.607 
L 516.844 149.789 
L 525.686 149.789 
L 525.686 149.971 
L 534.528 149.971 
L 534.528 150.336 
z
" fill="#fff" stroke="#000" stroke-width="1.85" stroke-linejoin="miter"/></mask><path d="M 92.448 150.336 
L 92.448 150.336 
L 101.289 150.336 
L 101.289 150.336 
L 110.131 150.336 
L 110.131 140.847 
L 118.972 140.847 
L 118.972 116.880 
L 127.814 116.880 
L 127.814 96.853 
L 136.656 96.853 
L 136.656 79.452 
L 145.497 79.452 
L 145.497 68.453 
L 154.339 68.453 
L 154.339 51.709 
L 163.180 51.709 
L 163.180 39.397 
L 172.022 39.397 
L 172.022 31.517 
L 180.864 31.517 
L 180.864 11.818 
L 189.705 11.818 
L 189.705 21.668 
L 198.547 21.668 
L 198.547 13.132 
L 207.388 13.132 
L 207.388 8.207 
L 216.230 8.207 
L 216.230 17.728 
L 225.072 17.728 
L 225.072 21.340 
L 233.913 21.340 
L 233.913 27.085 
L 242.755 27.085 
L 242.755 36.114 
L 251.596 36.114 
L 251.596 46.784 
L 260.438 46.784 
L 260.438 53.843 
L 269.28 53.843 
L 269.28 62.051 
L 278.121 62.051 
L 278.121 71.900 
L 286.963 71.900 
L 286.963 77.154 
L 295.804 77.154 
L 295.804 89.137 
L 304.646 89.137 
L 304.646 92.420 
L 313.488 92.420 
L 313.488 102.106 
L 322.329 102.106 
L 322.329 105.389 
L 331.171 105.389 
L 331.171 110.314 
L 340.012 110.314 
L 340.012 114.582 
L 348.854 114.582 
L 348.854 117.372 
L 357.696 117.372 
L 357.696 124.521 
L 366.537 124.521 
L 366.537 125.633 
L 375.379 125.633 
L 375.379 128.838 
L 384.220 128.838 
L 384.220 132.117 
L 393.062 132.117 
L 393.062 137.036 
L 401.904 137.036 
L 401.904 138.311 
L 410.745 138.311 
L 410.745 141.044 
L 419.587 141.044 
L 419.587 141.955 
L 428.428 141.955 
L 428.428 143.412 
L 437.270 143.412 
L 437.270 147.056 
L 446.112 147.056 
L 446.112 143.048 
L 454.953 143.048 
L 454.953 145.781 
L 463.795 145.781 
L 463.795 147.056 
L 472.636 147.056 
L 472.636 147.967 
L 481.478 147.967 
L 481.478 148.514 
L 490.32 148.514 
L 490.32 148.878 
L 499.161 148.878 
L 499.161 149.242 
L 508.003 149.242 
L 508.003 149.607 
L 516.844 149.607 
L 516.844 149.789 
L 525.686 149.789 
L 525.686 149.971 
L 534.528 149.971 
L 534.528 150.336 
z
" fill="#1f77b4" fill-opacity="0.4" mask="url(#mH_tb)"/><path d="M 92.448 150.336 
L 92.448 150.336 
L 101.289 150.336 
L 101.289 150.336 
L 110.131 150.336 
L 110.131 140.847 
L 118.972 140.847 
L 118.972 116.880 
L 127.814 116.880 
L 127.814 96.853 
L 136.656 96.853 
L 136.656 79.452 
L 145.497 79.452 
L 145.497 68.453 
L 154.339 68.453 
L 154.339 51.709 
L 163.180 51.709 
L 163.180 39.397 
L 172.022 39.397 
L 172.022 31.517 
L 180.864 31.517 
L 180.864 11.818 
L 189.705 11.818 
L 189.705 21.668 
L 198.547 21.668 
L 198.547 13.132 
L 207.388 13.132 
L 207.388 8.207 
L 216.230 8.207 
L 216.230 17.728 
L 225.072 17.728 
L 225.072 21.340 
L 233.913 21.340 
L 233.913 27.085 
L 242.755 27.085 
L 242.755 36.114 
L 251.596 36.114 
L 251.596 46.784 
L 260.438 46.784 
L 260.438 53.843 
L 269.28 53.843 
L 269.28 62.051 
L 278.121 62.051 
L 278.121 71.900 
L 286.963 71.900 
L 286.963 77.154 
L 295.804 77.154 
L 295.804 89.137 
L 304.646 89.137 
L 304.646 92.420 
L 313.488 92.420 
L 313.488 102.106 
L 322.329 102.106 
L 322.329 105.389 
L 331.171 105.389 
L 331.171 110.314 
L 340.012 110.314 
L 340.012 114.582 
L 348.854 114.582 
L 348.854 117.372 
L 357.696 117.372 
L 357.696 124.521 
L 366.537 124.521 
L 366.537 125.633 
L 375.379 125.633 
L 375.379 128.838 
L 384.220 128.838 
L 384.220 132.117 
L 393.062 132.117 
L 393.062 137.036 
L 401.904 137.036 
L 401.904 138.311 
L 410.745 138.311 
L 410.745 141.044 
L 419.587 141.044 
L 419.587 141.955 
L 428.428 141.955 
L 428.428 143.412 
L 437.270 143.412 
L 437.270 147.056 
L 446.112 147.056 
L 446.112 143.048 
L 454.953 143.048 
L 454.953 145.781 
L 463.795 145.781 
L 463.795 147.056 
L 472.636 147.056 
L 472.636 147.967 
L 481.478 147.967 
L 481.478 148.514 
L 490.32 148.514 
L 490.32 148.878 
L 499.161 148.878 
L 499.161 149.242 
L 508.003 149.242 
L 508.003 149.607 
L 516.844 149.607 
L 516.844 149.789 
L 525.686 149.789 
L 525.686 149.971 
L 534.528 149.971 
L 534.528 150.336 
z
" fill="none" stroke="#000000" stroke-opacity="0.4" stroke-width="1.85" stroke-linejoin="miter"/></g>
   <g id="H_to" clip-path="url(#pdfea9045f9)"><mask id="mH_to" maskUnits="userSpaceOnUse" x="0" y="0" width="712" height="680"><path d="M 92.448 150.336 
L 92.448 150.336 
L 101.289 150.336 
L 101.289 147.096 
L 110.131 147.096 
L 110.131 141.504 
L 118.972 141.504 
L 118.972 132.147 
L 127.814 132.147 
L 127.814 123.446 
L 136.656 123.446 
L 136.656 113.597 
L 145.497 113.597 
L 145.497 106.702 
L 154.339 106.702 
L 154.339 99.807 
L 163.180 99.807 
L 163.180 88.645 
L 172.022 88.645 
L 172.022 80.437 
L 180.864 80.437 
L 180.864 67.304 
L 189.705 67.304 
L 189.705 57.947 
L 198.547 57.947 
L 198.547 56.305 
L 207.388 56.305 
L 207.388 47.605 
L 216.230 47.605 
L 216.230 41.039 
L 225.072 41.039 
L 225.072 42.024 
L 233.913 42.024 
L 233.913 39.397 
L 242.755 39.397 
L 242.755 36.442 
L 251.596 36.442 
L 251.596 46.456 
L 260.438 46.456 
L 260.438 45.963 
L 269.28 45.963 
L 269.28 51.709 
L 278.121 51.709 
L 278.121 55.813 
L 286.963 55.813 
L 286.963 58.768 
L 295.804 58.768 
L 295.804 65.662 
L 304.646 65.662 
L 304.646 64.842 
L 313.488 64.842 
L 313.488 73.378 
L 322.329 73.378 
L 322.329 81.586 
L 331.171 81.586 
L 331.171 87.003 
L 340.012 87.003 
L 340.012 88.152 
L 348.854 88.152 
L 348.854 94.390 
L 357.696 94.390 
L 357.696 99.319 
L 366.537 99.319 
L 366.537 108.388 
L 375.379 108.388 
L 375.379 106.975 
L 384.220 106.975 
L 384.220 112.076 
L 393.062 112.076 
L 393.062 114.627 
L 401.904 114.627 
L 401.904 117.906 
L 410.745 117.906 
L 410.745 122.825 
L 419.587 122.825 
L 419.587 129.202 
L 428.428 129.202 
L 428.428 131.024 
L 437.270 131.024 
L 437.270 131.935 
L 446.112 131.935 
L 446.112 133.028 
L 454.953 133.028 
L 454.953 134.303 
L 463.795 134.303 
L 463.795 137.582 
L 472.636 137.582 
L 472.636 138.311 
L 481.478 138.311 
L 481.478 141.591 
L 490.32 141.591 
L 490.32 143.048 
L 499.161 143.048 
L 499.161 144.323 
L 508.003 144.323 
L 508.003 143.959 
L 516.844 143.959 
L 516.844 143.777 
L 525.686 143.777 
L 525.686 143.959 
L 530.496 143.959 
L 530.496 150.336 
z
" fill="#fff" stroke="#000" stroke-width="1.85" stroke-linejoin="miter"/></mask><path d="M 92.448 150.336 
L 92.448 150.336 
L 101.289 150.336 
L 101.289 147.096 
L 110.131 147.096 
L 110.131 141.504 
L 118.972 141.504 
L 118.972 132.147 
L 127.814 132.147 
L 127.814 123.446 
L 136.656 123.446 
L 136.656 113.597 
L 145.497 113.597 
L 145.497 106.702 
L 154.339 106.702 
L 154.339 99.807 
L 163.180 99.807 
L 163.180 88.645 
L 172.022 88.645 
L 172.022 80.437 
L 180.864 80.437 
L 180.864 67.304 
L 189.705 67.304 
L 189.705 57.947 
L 198.547 57.947 
L 198.547 56.305 
L 207.388 56.305 
L 207.388 47.605 
L 216.230 47.605 
L 216.230 41.039 
L 225.072 41.039 
L 225.072 42.024 
L 233.913 42.024 
L 233.913 39.397 
L 242.755 39.397 
L 242.755 36.442 
L 251.596 36.442 
L 251.596 46.456 
L 260.438 46.456 
L 260.438 45.963 
L 269.28 45.963 
L 269.28 51.709 
L 278.121 51.709 
L 278.121 55.813 
L 286.963 55.813 
L 286.963 58.768 
L 295.804 58.768 
L 295.804 65.662 
L 304.646 65.662 
L 304.646 64.842 
L 313.488 64.842 
L 313.488 73.378 
L 322.329 73.378 
L 322.329 81.586 
L 331.171 81.586 
L 331.171 87.003 
L 340.012 87.003 
L 340.012 88.152 
L 348.854 88.152 
L 348.854 94.390 
L 357.696 94.390 
L 357.696 99.319 
L 366.537 99.319 
L 366.537 108.388 
L 375.379 108.388 
L 375.379 106.975 
L 384.220 106.975 
L 384.220 112.076 
L 393.062 112.076 
L 393.062 114.627 
L 401.904 114.627 
L 401.904 117.906 
L 410.745 117.906 
L 410.745 122.825 
L 419.587 122.825 
L 419.587 129.202 
L 428.428 129.202 
L 428.428 131.024 
L 437.270 131.024 
L 437.270 131.935 
L 446.112 131.935 
L 446.112 133.028 
L 454.953 133.028 
L 454.953 134.303 
L 463.795 134.303 
L 463.795 137.582 
L 472.636 137.582 
L 472.636 138.311 
L 481.478 138.311 
L 481.478 141.591 
L 490.32 141.591 
L 490.32 143.048 
L 499.161 143.048 
L 499.161 144.323 
L 508.003 144.323 
L 508.003 143.959 
L 516.844 143.959 
L 516.844 143.777 
L 525.686 143.777 
L 525.686 143.959 
L 530.496 143.959 
L 530.496 150.336 
z
" fill="#ff7f0e" fill-opacity="0.4" mask="url(#mH_to)"/><path d="M 92.448 150.336 
L 92.448 150.336 
L 101.289 150.336 
L 101.289 147.096 
L 110.131 147.096 
L 110.131 141.504 
L 118.972 141.504 
L 118.972 132.147 
L 127.814 132.147 
L 127.814 123.446 
L 136.656 123.446 
L 136.656 113.597 
L 145.497 113.597 
L 145.497 106.702 
L 154.339 106.702 
L 154.339 99.807 
L 163.180 99.807 
L 163.180 88.645 
L 172.022 88.645 
L 172.022 80.437 
L 180.864 80.437 
L 180.864 67.304 
L 189.705 67.304 
L 189.705 57.947 
L 198.547 57.947 
L 198.547 56.305 
L 207.388 56.305 
L 207.388 47.605 
L 216.230 47.605 
L 216.230 41.039 
L 225.072 41.039 
L 225.072 42.024 
L 233.913 42.024 
L 233.913 39.397 
L 242.755 39.397 
L 242.755 36.442 
L 251.596 36.442 
L 251.596 46.456 
L 260.438 46.456 
L 260.438 45.963 
L 269.28 45.963 
L 269.28 51.709 
L 278.121 51.709 
L 278.121 55.813 
L 286.963 55.813 
L 286.963 58.768 
L 295.804 58.768 
L 295.804 65.662 
L 304.646 65.662 
L 304.646 64.842 
L 313.488 64.842 
L 313.488 73.378 
L 322.329 73.378 
L 322.329 81.586 
L 331.171 81.586 
L 331.171 87.003 
L 340.012 87.003 
L 340.012 88.152 
L 348.854 88.152 
L 348.854 94.390 
L 357.696 94.390 
L 357.696 99.319 
L 366.537 99.319 
L 366.537 108.388 
L 375.379 108.388 
L 375.379 106.975 
L 384.220 106.975 
L 384.220 112.076 
L 393.062 112.076 
L 393.062 114.627 
L 401.904 114.627 
L 401.904 117.906 
L 410.745 117.906 
L 410.745 122.825 
L 419.587 122.825 
L 419.587 129.202 
L 428.428 129.202 
L 428.428 131.024 
L 437.270 131.024 
L 437.270 131.935 
L 446.112 131.935 
L 446.112 133.028 
L 454.953 133.028 
L 454.953 134.303 
L 463.795 134.303 
L 463.795 137.582 
L 472.636 137.582 
L 472.636 138.311 
L 481.478 138.311 
L 481.478 141.591 
L 490.32 141.591 
L 490.32 143.048 
L 499.161 143.048 
L 499.161 144.323 
L 508.003 144.323 
L 508.003 143.959 
L 516.844 143.959 
L 516.844 143.777 
L 525.686 143.777 
L 525.686 143.959 
L 530.496 143.959 
L 530.496 150.336 
z
" fill="none" stroke="#000000" stroke-opacity="0.4" stroke-width="1.85" stroke-linejoin="miter"/></g>
   <g id="matplotlib.axis_3">
    <g id="xtick_34">
     <g id="line2d_111">
      <g>
       <use href="#m6bbc13c40f" x="92.448" y="150.336" style="stroke: #000000; stroke-width: 1.7"/>
      </g>
     </g>
     <g id="line2d_112">
      <g>
       <use href="#mc6f41d7c7b" x="92.448" y="0.936" style="stroke: #000000; stroke-width: 1.7"/>
      </g>
     </g>
    </g>
    <g id="xtick_35">
     <g id="line2d_113">
      <g>
       <use href="#m6bbc13c40f" x="160.460" y="150.336" style="stroke: #000000; stroke-width: 1.7"/>
      </g>
     </g>
     <g id="line2d_114">
      <g>
       <use href="#mc6f41d7c7b" x="160.460" y="0.936" style="stroke: #000000; stroke-width: 1.7"/>
      </g>
     </g>
    </g>
    <g id="xtick_36">
     <g id="line2d_115">
      <g>
       <use href="#m6bbc13c40f" x="228.472" y="150.336" style="stroke: #000000; stroke-width: 1.7"/>
      </g>
     </g>
     <g id="line2d_116">
      <g>
       <use href="#mc6f41d7c7b" x="228.472" y="0.936" style="stroke: #000000; stroke-width: 1.7"/>
      </g>
     </g>
    </g>
    <g id="xtick_37">
     <g id="line2d_117">
      <g>
       <use href="#m6bbc13c40f" x="296.484" y="150.336" style="stroke: #000000; stroke-width: 1.7"/>
      </g>
     </g>
     <g id="line2d_118">
      <g>
       <use href="#mc6f41d7c7b" x="296.484" y="0.936" style="stroke: #000000; stroke-width: 1.7"/>
      </g>
     </g>
    </g>
    <g id="xtick_38">
     <g id="line2d_119">
      <g>
       <use href="#m6bbc13c40f" x="364.497" y="150.336" style="stroke: #000000; stroke-width: 1.7"/>
      </g>
     </g>
     <g id="line2d_120">
      <g>
       <use href="#mc6f41d7c7b" x="364.497" y="0.936" style="stroke: #000000; stroke-width: 1.7"/>
      </g>
     </g>
    </g>
    <g id="xtick_39">
     <g id="line2d_121">
      <g>
       <use href="#m6bbc13c40f" x="432.509" y="150.336" style="stroke: #000000; stroke-width: 1.7"/>
      </g>
     </g>
     <g id="line2d_122">
      <g>
       <use href="#mc6f41d7c7b" x="432.509" y="0.936" style="stroke: #000000; stroke-width: 1.7"/>
      </g>
     </g>
    </g>
    <g id="xtick_40">
     <g id="line2d_123">
      <g>
       <use href="#m6bbc13c40f" x="500.521" y="150.336" style="stroke: #000000; stroke-width: 1.7"/>
      </g>
     </g>
     <g id="line2d_124">
      <g>
       <use href="#mc6f41d7c7b" x="500.521" y="0.936" style="stroke: #000000; stroke-width: 1.7"/>
      </g>
     </g>
    </g>
    <g id="xtick_41">
     <g id="line2d_125">
      <g>
       <use href="#mdcc2ed4d52" x="106.050" y="150.336" style="stroke: #000000; stroke-width: 1.6"/>
      </g>
     </g>
     <g id="line2d_126">
      <g>
       <use href="#mb19a188a09" x="106.050" y="0.936" style="stroke: #000000; stroke-width: 1.6"/>
      </g>
     </g>
    </g>
    <g id="xtick_42">
     <g id="line2d_127">
      <g>
       <use href="#mdcc2ed4d52" x="119.652" y="150.336" style="stroke: #000000; stroke-width: 1.6"/>
      </g>
     </g>
     <g id="line2d_128">
      <g>
       <use href="#mb19a188a09" x="119.652" y="0.936" style="stroke: #000000; stroke-width: 1.6"/>
      </g>
     </g>
    </g>
    <g id="xtick_43">
     <g id="line2d_129">
      <g>
       <use href="#mdcc2ed4d52" x="133.255" y="150.336" style="stroke: #000000; stroke-width: 1.6"/>
      </g>
     </g>
     <g id="line2d_130">
      <g>
       <use href="#mb19a188a09" x="133.255" y="0.936" style="stroke: #000000; stroke-width: 1.6"/>
      </g>
     </g>
    </g>
    <g id="xtick_44">
     <g id="line2d_131">
      <g>
       <use href="#mdcc2ed4d52" x="146.857" y="150.336" style="stroke: #000000; stroke-width: 1.6"/>
      </g>
     </g>
     <g id="line2d_132">
      <g>
       <use href="#mb19a188a09" x="146.857" y="0.936" style="stroke: #000000; stroke-width: 1.6"/>
      </g>
     </g>
    </g>
    <g id="xtick_45">
     <g id="line2d_133">
      <g>
       <use href="#mdcc2ed4d52" x="174.062" y="150.336" style="stroke: #000000; stroke-width: 1.6"/>
      </g>
     </g>
     <g id="line2d_134">
      <g>
       <use href="#mb19a188a09" x="174.062" y="0.936" style="stroke: #000000; stroke-width: 1.6"/>
      </g>
     </g>
    </g>
    <g id="xtick_46">
     <g id="line2d_135">
      <g>
       <use href="#mdcc2ed4d52" x="187.665" y="150.336" style="stroke: #000000; stroke-width: 1.6"/>
      </g>
     </g>
     <g id="line2d_136">
      <g>
       <use href="#mb19a188a09" x="187.665" y="0.936" style="stroke: #000000; stroke-width: 1.6"/>
      </g>
     </g>
    </g>
    <g id="xtick_47">
     <g id="line2d_137">
      <g>
       <use href="#mdcc2ed4d52" x="201.267" y="150.336" style="stroke: #000000; stroke-width: 1.6"/>
      </g>
     </g>
     <g id="line2d_138">
      <g>
       <use href="#mb19a188a09" x="201.267" y="0.936" style="stroke: #000000; stroke-width: 1.6"/>
      </g>
     </g>
    </g>
    <g id="xtick_48">
     <g id="line2d_139">
      <g>
       <use href="#mdcc2ed4d52" x="214.870" y="150.336" style="stroke: #000000; stroke-width: 1.6"/>
      </g>
     </g>
     <g id="line2d_140">
      <g>
       <use href="#mb19a188a09" x="214.870" y="0.936" style="stroke: #000000; stroke-width: 1.6"/>
      </g>
     </g>
    </g>
    <g id="xtick_49">
     <g id="line2d_141">
      <g>
       <use href="#mdcc2ed4d52" x="242.075" y="150.336" style="stroke: #000000; stroke-width: 1.6"/>
      </g>
     </g>
     <g id="line2d_142">
      <g>
       <use href="#mb19a188a09" x="242.075" y="0.936" style="stroke: #000000; stroke-width: 1.6"/>
      </g>
     </g>
    </g>
    <g id="xtick_50">
     <g id="line2d_143">
      <g>
       <use href="#mdcc2ed4d52" x="255.677" y="150.336" style="stroke: #000000; stroke-width: 1.6"/>
      </g>
     </g>
     <g id="line2d_144">
      <g>
       <use href="#mb19a188a09" x="255.677" y="0.936" style="stroke: #000000; stroke-width: 1.6"/>
      </g>
     </g>
    </g>
    <g id="xtick_51">
     <g id="line2d_145">
      <g>
       <use href="#mdcc2ed4d52" x="269.28" y="150.336" style="stroke: #000000; stroke-width: 1.6"/>
      </g>
     </g>
     <g id="line2d_146">
      <g>
       <use href="#mb19a188a09" x="269.28" y="0.936" style="stroke: #000000; stroke-width: 1.6"/>
      </g>
     </g>
    </g>
    <g id="xtick_52">
     <g id="line2d_147">
      <g>
       <use href="#mdcc2ed4d52" x="282.882" y="150.336" style="stroke: #000000; stroke-width: 1.6"/>
      </g>
     </g>
     <g id="line2d_148">
      <g>
       <use href="#mb19a188a09" x="282.882" y="0.936" style="stroke: #000000; stroke-width: 1.6"/>
      </g>
     </g>
    </g>
    <g id="xtick_53">
     <g id="line2d_149">
      <g>
       <use href="#mdcc2ed4d52" x="310.087" y="150.336" style="stroke: #000000; stroke-width: 1.6"/>
      </g>
     </g>
     <g id="line2d_150">
      <g>
       <use href="#mb19a188a09" x="310.087" y="0.936" style="stroke: #000000; stroke-width: 1.6"/>
      </g>
     </g>
    </g>
    <g id="xtick_54">
     <g id="line2d_151">
      <g>
       <use href="#mdcc2ed4d52" x="323.689" y="150.336" style="stroke: #000000; stroke-width: 1.6"/>
      </g>
     </g>
     <g id="line2d_152">
      <g>
       <use href="#mb19a188a09" x="323.689" y="0.936" style="stroke: #000000; stroke-width: 1.6"/>
      </g>
     </g>
    </g>
    <g id="xtick_55">
     <g id="line2d_153">
      <g>
       <use href="#mdcc2ed4d52" x="337.292" y="150.336" style="stroke: #000000; stroke-width: 1.6"/>
      </g>
     </g>
     <g id="line2d_154">
      <g>
       <use href="#mb19a188a09" x="337.292" y="0.936" style="stroke: #000000; stroke-width: 1.6"/>
      </g>
     </g>
    </g>
    <g id="xtick_56">
     <g id="line2d_155">
      <g>
       <use href="#mdcc2ed4d52" x="350.894" y="150.336" style="stroke: #000000; stroke-width: 1.6"/>
      </g>
     </g>
     <g id="line2d_156">
      <g>
       <use href="#mb19a188a09" x="350.894" y="0.936" style="stroke: #000000; stroke-width: 1.6"/>
      </g>
     </g>
    </g>
    <g id="xtick_57">
     <g id="line2d_157">
      <g>
       <use href="#mdcc2ed4d52" x="378.099" y="150.336" style="stroke: #000000; stroke-width: 1.6"/>
      </g>
     </g>
     <g id="line2d_158">
      <g>
       <use href="#mb19a188a09" x="378.099" y="0.936" style="stroke: #000000; stroke-width: 1.6"/>
      </g>
     </g>
    </g>
    <g id="xtick_58">
     <g id="line2d_159">
      <g>
       <use href="#mdcc2ed4d52" x="391.702" y="150.336" style="stroke: #000000; stroke-width: 1.6"/>
      </g>
     </g>
     <g id="line2d_160">
      <g>
       <use href="#mb19a188a09" x="391.702" y="0.936" style="stroke: #000000; stroke-width: 1.6"/>
      </g>
     </g>
    </g>
    <g id="xtick_59">
     <g id="line2d_161">
      <g>
       <use href="#mdcc2ed4d52" x="405.304" y="150.336" style="stroke: #000000; stroke-width: 1.6"/>
      </g>
     </g>
     <g id="line2d_162">
      <g>
       <use href="#mb19a188a09" x="405.304" y="0.936" style="stroke: #000000; stroke-width: 1.6"/>
      </g>
     </g>
    </g>
    <g id="xtick_60">
     <g id="line2d_163">
      <g>
       <use href="#mdcc2ed4d52" x="418.907" y="150.336" style="stroke: #000000; stroke-width: 1.6"/>
      </g>
     </g>
     <g id="line2d_164">
      <g>
       <use href="#mb19a188a09" x="418.907" y="0.936" style="stroke: #000000; stroke-width: 1.6"/>
      </g>
     </g>
    </g>
    <g id="xtick_61">
     <g id="line2d_165">
      <g>
       <use href="#mdcc2ed4d52" x="446.112" y="150.336" style="stroke: #000000; stroke-width: 1.6"/>
      </g>
     </g>
     <g id="line2d_166">
      <g>
       <use href="#mb19a188a09" x="446.112" y="0.936" style="stroke: #000000; stroke-width: 1.6"/>
      </g>
     </g>
    </g>
    <g id="xtick_62">
     <g id="line2d_167">
      <g>
       <use href="#mdcc2ed4d52" x="459.714" y="150.336" style="stroke: #000000; stroke-width: 1.6"/>
      </g>
     </g>
     <g id="line2d_168">
      <g>
       <use href="#mb19a188a09" x="459.714" y="0.936" style="stroke: #000000; stroke-width: 1.6"/>
      </g>
     </g>
    </g>
    <g id="xtick_63">
     <g id="line2d_169">
      <g>
       <use href="#mdcc2ed4d52" x="473.316" y="150.336" style="stroke: #000000; stroke-width: 1.6"/>
      </g>
     </g>
     <g id="line2d_170">
      <g>
       <use href="#mb19a188a09" x="473.316" y="0.936" style="stroke: #000000; stroke-width: 1.6"/>
      </g>
     </g>
    </g>
    <g id="xtick_64">
     <g id="line2d_171">
      <g>
       <use href="#mdcc2ed4d52" x="486.919" y="150.336" style="stroke: #000000; stroke-width: 1.6"/>
      </g>
     </g>
     <g id="line2d_172">
      <g>
       <use href="#mb19a188a09" x="486.919" y="0.936" style="stroke: #000000; stroke-width: 1.6"/>
      </g>
     </g>
    </g>
    <g id="xtick_65">
     <g id="line2d_173">
      <g>
       <use href="#mdcc2ed4d52" x="514.124" y="150.336" style="stroke: #000000; stroke-width: 1.6"/>
      </g>
     </g>
     <g id="line2d_174">
      <g>
       <use href="#mb19a188a09" x="514.124" y="0.936" style="stroke: #000000; stroke-width: 1.6"/>
      </g>
     </g>
    </g>
    <g id="xtick_66">
     <g id="line2d_175">
      <g>
       <use href="#mdcc2ed4d52" x="527.726" y="150.336" style="stroke: #000000; stroke-width: 1.6"/>
      </g>
     </g>
     <g id="line2d_176">
      <g>
       <use href="#mb19a188a09" x="527.726" y="0.936" style="stroke: #000000; stroke-width: 1.6"/>
      </g>
     </g>
    </g>
   </g>
   <g id="matplotlib.axis_4">
    <g id="ytick_22">
     <g id="line2d_177">
      <g>
       <use href="#m655200f965" x="92.448" y="150.336" style="stroke: #000000; stroke-width: 1.7"/>
      </g>
     </g>
     <g id="line2d_178">
      <g>
       <use href="#mf1af1d5090" x="534.528" y="150.336" style="stroke: #000000; stroke-width: 1.7"/>
      </g>
     </g>
     <g id="text_17">
      <text style="font-size: 20px; font-family: 'DejaVu Serif', 'Liberation Serif', serif; text-anchor: end" x="85.448" y="158.934" transform="rotate(-0 85.448 158.934)">0.000</text>
     </g>
    </g>
    <g id="ytick_23">
     <g id="line2d_179">
      <g>
       <use href="#m655200f965" x="92.448" y="83.376" style="stroke: #000000; stroke-width: 1.7"/>
      </g>
     </g>
     <g id="line2d_180">
      <g>
       <use href="#mf1af1d5090" x="534.528" y="83.376" style="stroke: #000000; stroke-width: 1.7"/>
      </g>
     </g>
     <g id="text_18">
      <text style="font-size: 20px; font-family: 'DejaVu Serif', 'Liberation Serif', serif; text-anchor: end" x="85.448" y="91.974" transform="rotate(-0 85.448 91.974)">0.002</text>
     </g>
    </g>
    <g id="ytick_24">
     <g id="line2d_181">
      <g>
       <use href="#m655200f965" x="92.448" y="16.416" style="stroke: #000000; stroke-width: 1.7"/>
      </g>
     </g>
     <g id="line2d_182">
      <g>
       <use href="#mf1af1d5090" x="534.528" y="16.416" style="stroke: #000000; stroke-width: 1.7"/>
      </g>
     </g>
     <g id="text_19">
      <text style="font-size: 20px; font-family: 'DejaVu Serif', 'Liberation Serif', serif; text-anchor: end" x="85.448" y="25.014" transform="rotate(-0 85.448 25.014)">0.004</text>
     </g>
    </g>
    <g id="ytick_25">
     <g id="line2d_183">
      <g>
       <use href="#m14c185b99c" x="92.448" y="133.596" style="stroke: #000000; stroke-width: 1.6"/>
      </g>
     </g>
     <g id="line2d_184">
      <g>
       <use href="#m5b1c192d87" x="534.528" y="133.596" style="stroke: #000000; stroke-width: 1.6"/>
      </g>
     </g>
    </g>
    <g id="ytick_26">
     <g id="line2d_185">
      <g>
       <use href="#m14c185b99c" x="92.448" y="116.856" style="stroke: #000000; stroke-width: 1.6"/>
      </g>
     </g>
     <g id="line2d_186">
      <g>
       <use href="#m5b1c192d87" x="534.528" y="116.856" style="stroke: #000000; stroke-width: 1.6"/>
      </g>
     </g>
    </g>
    <g id="ytick_27">
     <g id="line2d_187">
      <g>
       <use href="#m14c185b99c" x="92.448" y="100.116" style="stroke: #000000; stroke-width: 1.6"/>
      </g>
     </g>
     <g id="line2d_188">
      <g>
       <use href="#m5b1c192d87" x="534.528" y="100.116" style="stroke: #000000; stroke-width: 1.6"/>
      </g>
     </g>
    </g>
    <g id="ytick_28">
     <g id="line2d_189">
      <g>
       <use href="#m14c185b99c" x="92.448" y="66.636" style="stroke: #000000; stroke-width: 1.6"/>
      </g>
     </g>
     <g id="line2d_190">
      <g>
       <use href="#m5b1c192d87" x="534.528" y="66.636" style="stroke: #000000; stroke-width: 1.6"/>
      </g>
     </g>
    </g>
    <g id="ytick_29">
     <g id="line2d_191">
      <g>
       <use href="#m14c185b99c" x="92.448" y="49.896" style="stroke: #000000; stroke-width: 1.6"/>
      </g>
     </g>
     <g id="line2d_192">
      <g>
       <use href="#m5b1c192d87" x="534.528" y="49.896" style="stroke: #000000; stroke-width: 1.6"/>
      </g>
     </g>
    </g>
    <g id="ytick_30">
     <g id="line2d_193">
      <g>
       <use href="#m14c185b99c" x="92.448" y="33.156" style="stroke: #000000; stroke-width: 1.6"/>
      </g>
     </g>
     <g id="line2d_194">
      <g>
       <use href="#m5b1c192d87" x="534.528" y="33.156" style="stroke: #000000; stroke-width: 1.6"/>
      </g>
     </g>
    </g>
    <g id="text_20">
     <text style="font-size: 20px; font-family: 'DejaVu Serif', 'Liberation Serif', serif; text-anchor: middle; letter-spacing: 0.17px" x="16.848" y="75.636" transform="rotate(-90 16.848 75.636)">Prob. Density</text>
    </g>
   </g>
   <g id="patch_10">
    <path d="M 92.448 150.336 
L 92.448 0.936 
" style="fill: none; stroke: #000000; stroke-width: 1.6; stroke-linejoin: miter; stroke-linecap: square"/>
   </g>
   <g id="patch_11">
    <path d="M 534.528 150.336 
L 534.528 0.936 
" style="fill: none; stroke: #000000; stroke-width: 1.6; stroke-linejoin: miter; stroke-linecap: square"/>
   </g>
   <g id="patch_12">
    <path d="M 92.448 150.336 
L 534.528 150.336 
" style="fill: none; stroke: #000000; stroke-width: 1.6; stroke-linejoin: miter; stroke-linecap: square"/>
   </g>
   <g id="patch_13">
    <path d="M 92.448 0.936 
L 534.528 0.936 
" style="fill: none; stroke: #000000; stroke-width: 1.6; stroke-linejoin: miter; stroke-linecap: square"/>
   </g>
   <g id="patch_14">
    <path d="M 413.32 93.24 
L 520.88 93.24 
Q 524.88 93.24 524.88 89.24 
L 524.88 14.224 
Q 524.88 10.224 520.88 10.224 
L 413.32 10.224 
Q 409.32 10.224 409.32 14.224 
L 409.32 89.24 
Q 409.32 93.24 413.32 93.24 
z
" style="fill: #ffffff; fill-opacity: 0.8; stroke: #c7c7c7; stroke-width: 1.8; stroke-linejoin: miter"/>
   </g>
   <g id="legend_2">
    <g id="H_l2_0"><mask id="mH_l2_0" maskUnits="userSpaceOnUse" x="0" y="0" width="712" height="680"><path d="M 418.008 40.336 
L 458.008 40.336 
L 458.008 26.336 
L 418.008 26.336 
z
" fill="#fff" stroke="#000" stroke-width="1.85" stroke-linejoin="miter"/></mask><path d="M 418.008 40.336 
L 458.008 40.336 
L 458.008 26.336 
L 418.008 26.336 
z
" fill="#1f77b4" fill-opacity="0.4" mask="url(#mH_l2_0)"/><path d="M 418.008 40.336 
L 458.008 40.336 
L 458.008 26.336 
L 418.008 26.336 
z
" fill="none" stroke="#000000" stroke-opacity="0.4" stroke-width="1.85" stroke-linejoin="miter"/></g>
    <g id="text_21">
     <!-- $\tilde{\phi}(\tilde{x})$ -->
     <g transform="translate(475.008 40.336)">
      <text>
       <tspan x="13.193" y="-0.546" style="font-size: 20px; font-family: 'DejaVu Sans', 'Liberation Sans', sans-serif">(</tspan>
       <tspan x="13.517" y="-5.468" style="font-size: 20px; font-family: 'DejaVu Sans', 'Liberation Sans', sans-serif">̃</tspan>
       <tspan x="32.832" y="-0.546" style="font-size: 20px; font-family: 'DejaVu Sans', 'Liberation Sans', sans-serif">)</tspan>
       <tspan x="33.173" y="-1.203" style="font-size: 20px; font-family: 'DejaVu Sans', 'Liberation Sans', sans-serif">̃</tspan>
       <tspan x="0" y="-0.546" style="font-style: oblique; font-size: 20px; font-family: 'DejaVu Sans', 'Liberation Sans', sans-serif">ϕ</tspan>
       <tspan x="20.996" y="-0.546" style="font-style: oblique; font-size: 20px; font-family: 'DejaVu Sans', 'Liberation Sans', sans-serif">x</tspan>
      </text>
     </g>
    </g>
    <g id="H_l2_1"><mask id="mH_l2_1" maskUnits="userSpaceOnUse" x="0" y="0" width="712" height="680"><path d="M 418.008 78.936 
L 458.008 78.936 
L 458.008 64.936 
L 418.008 64.936 
z
" fill="#fff" stroke="#000" stroke-width="1.85" stroke-linejoin="miter"/></mask><path d="M 418.008 78.936 
L 458.008 78.936 
L 458.008 64.936 
L 418.008 64.936 
z
" fill="#ff7f0e" fill-opacity="0.4" mask="url(#mH_l2_1)"/><path d="M 418.008 78.936 
L 458.008 78.936 
L 458.008 64.936 
L 418.008 64.936 
z
" fill="none" stroke="#000000" stroke-opacity="0.4" stroke-width="1.85" stroke-linejoin="miter"/></g>
    <g id="text_22">
     <!-- $\tilde{\phi}_{corr}$ -->
     <g transform="translate(475.008 78.936)">
      <text>
       <tspan x="13.517" y="-5.468" style="font-size: 20px; font-family: 'DejaVu Sans', 'Liberation Sans', sans-serif">̃</tspan>
       <tspan x="0" y="-0.546" style="font-style: oblique; font-size: 20px; font-family: 'DejaVu Sans', 'Liberation Sans', sans-serif">ϕ</tspan>
       <tspan x="13.384" y="2.734" style="font-style: oblique; font-size: 14px; font-family: 'DejaVu Sans', 'Liberation Sans', sans-serif">c</tspan>
       <tspan x="21.082" y="2.734" style="font-style: oblique; font-size: 14px; font-family: 'DejaVu Sans', 'Liberation Sans', sans-serif">o</tspan>
       <tspan x="29.647" y="2.734" style="font-style: oblique; font-size: 14px; font-family: 'DejaVu Sans', 'Liberation Sans', sans-serif">r</tspan>
       <tspan x="35.403" y="2.734" style="font-style: oblique; font-size: 14px; font-family: 'DejaVu Sans', 'Liberation Sans', sans-serif">r</tspan>
      </text>
     </g>
    </g>
   </g>
  </g>
  <g id="axes_3">
   <g id="patch_15">
    <path d="M 562.824 622.944 
L 709.92 622.944 
L 709.92 174.096 
L 562.824 174.096 
L 562.824 622.944 
z
" style="fill: none"/>
   </g>
   <g id="H_rb" clip-path="url(#p0d4ad72fb8)"><mask id="mH_rb" maskUnits="userSpaceOnUse" x="0" y="0" width="712" height="680"><path d="M 562.824 178.848 
L 573.317 178.848 
L 573.317 183.072 
L 582.937 183.072 
L 582.937 192.049 
L 593.678 192.049 
L 593.678 201.026 
L 607.305 201.026 
L 607.305 210.003 
L 629.750 210.003 
L 629.750 218.980 
L 637.446 218.980 
L 637.446 227.957 
L 651.073 227.957 
L 651.073 236.934 
L 661.494 236.934 
L 661.494 245.911 
L 665.822 245.911 
L 665.822 254.888 
L 681.053 254.888 
L 681.053 263.865 
L 687.786 263.865 
L 687.786 272.842 
L 689.069 272.842 
L 689.069 281.819 
L 690.993 281.819 
L 690.993 290.796 
L 694.680 290.796 
L 694.680 299.773 
L 693.878 299.773 
L 693.878 308.750 
L 697.085 308.750 
L 697.085 317.727 
L 699.971 317.727 
L 699.971 326.704 
L 691.474 326.704 
L 691.474 335.681 
L 691.955 335.681 
L 691.955 344.658 
L 681.053 344.658 
L 681.053 353.635 
L 673.357 353.635 
L 673.357 362.612 
L 668.548 362.612 
L 668.548 371.589 
L 661.494 371.589 
L 661.494 380.566 
L 650.592 380.566 
L 650.592 389.543 
L 640.973 389.543 
L 640.973 398.52 
L 639.369 398.52 
L 639.369 407.496 
L 634.079 407.496 
L 634.079 416.473 
L 627.345 416.473 
L 627.345 425.450 
L 607.305 425.450 
L 607.305 434.427 
L 607.305 434.427 
L 607.305 443.404 
L 598.007 443.404 
L 598.007 452.381 
L 596.243 452.381 
L 596.243 461.358 
L 588.868 461.358 
L 588.868 470.335 
L 584.860 470.335 
L 584.860 479.312 
L 583.257 479.312 
L 583.257 488.289 
L 581.333 488.289 
L 581.333 497.266 
L 577.325 497.266 
L 577.325 506.243 
L 577.806 506.243 
L 577.806 515.220 
L 574.440 515.220 
L 574.440 524.197 
L 572.836 524.197 
L 572.836 533.174 
L 570.913 533.174 
L 570.913 542.151 
L 569.630 542.151 
L 569.630 551.128 
L 568.027 551.128 
L 568.027 560.105 
L 567.706 560.105 
L 567.706 569.082 
L 567.576 569.082 
L 567.576 578.059 
L 566.568 578.059 
L 566.568 587.036 
L 566.136 587.036 
L 566.136 596.013 
L 565.848 596.013 
L 565.848 604.990 
L 565.56 604.990 
L 565.56 613.967 
L 565.272 613.967 
L 565.272 622.944 
L 562.824 622.944 
z
" fill="#fff" stroke="#000" stroke-width="1.85" stroke-linejoin="miter"/></mask><path d="M 562.824 178.848 
L 573.317 178.848 
L 573.317 183.072 
L 582.937 183.072 
L 582.937 192.049 
L 593.678 192.049 
L 593.678 201.026 
L 607.305 201.026 
L 607.305 210.003 
L 629.750 210.003 
L 629.750 218.980 
L 637.446 218.980 
L 637.446 227.957 
L 651.073 227.957 
L 651.073 236.934 
L 661.494 236.934 
L 661.494 245.911 
L 665.822 245.911 
L 665.822 254.888 
L 681.053 254.888 
L 681.053 263.865 
L 687.786 263.865 
L 687.786 272.842 
L 689.069 272.842 
L 689.069 281.819 
L 690.993 281.819 
L 690.993 290.796 
L 694.680 290.796 
L 694.680 299.773 
L 693.878 299.773 
L 693.878 308.750 
L 697.085 308.750 
L 697.085 317.727 
L 699.971 317.727 
L 699.971 326.704 
L 691.474 326.704 
L 691.474 335.681 
L 691.955 335.681 
L 691.955 344.658 
L 681.053 344.658 
L 681.053 353.635 
L 673.357 353.635 
L 673.357 362.612 
L 668.548 362.612 
L 668.548 371.589 
L 661.494 371.589 
L 661.494 380.566 
L 650.592 380.566 
L 650.592 389.543 
L 640.973 389.543 
L 640.973 398.52 
L 639.369 398.52 
L 639.369 407.496 
L 634.079 407.496 
L 634.079 416.473 
L 627.345 416.473 
L 627.345 425.450 
L 607.305 425.450 
L 607.305 434.427 
L 607.305 434.427 
L 607.305 443.404 
L 598.007 443.404 
L 598.007 452.381 
L 596.243 452.381 
L 596.243 461.358 
L 588.868 461.358 
L 588.868 470.335 
L 584.860 470.335 
L 584.860 479.312 
L 583.257 479.312 
L 583.257 488.289 
L 581.333 488.289 
L 581.333 497.266 
L 577.325 497.266 
L 577.325 506.243 
L 577.806 506.243 
L 577.806 515.220 
L 574.440 515.220 
L 574.440 524.197 
L 572.836 524.197 
L 572.836 533.174 
L 570.913 533.174 
L 570.913 542.151 
L 569.630 542.151 
L 569.630 551.128 
L 568.027 551.128 
L 568.027 560.105 
L 567.706 560.105 
L 567.706 569.082 
L 567.576 569.082 
L 567.576 578.059 
L 566.568 578.059 
L 566.568 587.036 
L 566.136 587.036 
L 566.136 596.013 
L 565.848 596.013 
L 565.848 604.990 
L 565.56 604.990 
L 565.56 613.967 
L 565.272 613.967 
L 565.272 622.944 
L 562.824 622.944 
z
" fill="#1f77b4" fill-opacity="0.4" mask="url(#mH_rb)"/><path d="M 562.824 178.848 
L 573.317 178.848 
L 573.317 183.072 
L 582.937 183.072 
L 582.937 192.049 
L 593.678 192.049 
L 593.678 201.026 
L 607.305 201.026 
L 607.305 210.003 
L 629.750 210.003 
L 629.750 218.980 
L 637.446 218.980 
L 637.446 227.957 
L 651.073 227.957 
L 651.073 236.934 
L 661.494 236.934 
L 661.494 245.911 
L 665.822 245.911 
L 665.822 254.888 
L 681.053 254.888 
L 681.053 263.865 
L 687.786 263.865 
L 687.786 272.842 
L 689.069 272.842 
L 689.069 281.819 
L 690.993 281.819 
L 690.993 290.796 
L 694.680 290.796 
L 694.680 299.773 
L 693.878 299.773 
L 693.878 308.750 
L 697.085 308.750 
L 697.085 317.727 
L 699.971 317.727 
L 699.971 326.704 
L 691.474 326.704 
L 691.474 335.681 
L 691.955 335.681 
L 691.955 344.658 
L 681.053 344.658 
L 681.053 353.635 
L 673.357 353.635 
L 673.357 362.612 
L 668.548 362.612 
L 668.548 371.589 
L 661.494 371.589 
L 661.494 380.566 
L 650.592 380.566 
L 650.592 389.543 
L 640.973 389.543 
L 640.973 398.52 
L 639.369 398.52 
L 639.369 407.496 
L 634.079 407.496 
L 634.079 416.473 
L 627.345 416.473 
L 627.345 425.450 
L 607.305 425.450 
L 607.305 434.427 
L 607.305 434.427 
L 607.305 443.404 
L 598.007 443.404 
L 598.007 452.381 
L 596.243 452.381 
L 596.243 461.358 
L 588.868 461.358 
L 588.868 470.335 
L 584.860 470.335 
L 584.860 479.312 
L 583.257 479.312 
L 583.257 488.289 
L 581.333 488.289 
L 581.333 497.266 
L 577.325 497.266 
L 577.325 506.243 
L 577.806 506.243 
L 577.806 515.220 
L 574.440 515.220 
L 574.440 524.197 
L 572.836 524.197 
L 572.836 533.174 
L 570.913 533.174 
L 570.913 542.151 
L 569.630 542.151 
L 569.630 551.128 
L 568.027 551.128 
L 568.027 560.105 
L 567.706 560.105 
L 567.706 569.082 
L 567.576 569.082 
L 567.576 578.059 
L 566.568 578.059 
L 566.568 587.036 
L 566.136 587.036 
L 566.136 596.013 
L 565.848 596.013 
L 565.848 604.990 
L 565.56 604.990 
L 565.56 613.967 
L 565.272 613.967 
L 565.272 622.944 
L 562.824 622.944 
z
" fill="none" stroke="#000000" stroke-opacity="0.4" stroke-width="1.85" stroke-linejoin="miter"/></g>
   <g id="H_ro" clip-path="url(#p0d4ad72fb8)"><mask id="mH_ro" maskUnits="userSpaceOnUse" x="0" y="0" width="712" height="680"><path d="M 562.824 178.848 
L 576.043 178.848 
L 576.043 183.072 
L 588.067 183.072 
L 588.067 192.049 
L 605.381 192.049 
L 605.381 201.026 
L 623.337 201.026 
L 623.337 210.003 
L 637.766 210.003 
L 637.766 218.980 
L 651.073 218.980 
L 651.073 227.957 
L 666.624 227.957 
L 666.624 236.934 
L 669.029 236.934 
L 669.029 245.911 
L 683.939 245.911 
L 683.939 254.888 
L 697.566 254.888 
L 697.566 263.865 
L 688.267 263.865 
L 688.267 272.842 
L 692.596 272.842 
L 692.596 281.819 
L 702.696 281.819 
L 702.696 290.796 
L 700.612 290.796 
L 700.612 299.773 
L 699.169 299.773 
L 699.169 308.750 
L 696.283 308.750 
L 696.283 317.727 
L 690.993 317.727 
L 690.993 326.704 
L 690.672 326.704 
L 690.672 335.681 
L 686.664 335.681 
L 686.664 344.658 
L 671.113 344.658 
L 671.113 353.635 
L 665.822 353.635 
L 665.822 362.612 
L 657.005 362.612 
L 657.005 371.589 
L 649.790 371.589 
L 649.790 380.566 
L 646.103 380.566 
L 646.103 389.543 
L 637.285 389.543 
L 637.285 398.52 
L 628.147 398.52 
L 628.147 407.496 
L 623.337 407.496 
L 623.337 416.473 
L 611.313 416.473 
L 611.313 425.450 
L 605.381 425.450 
L 605.381 434.427 
L 600.892 434.427 
L 600.892 443.404 
L 594.480 443.404 
L 594.480 452.381 
L 589.349 452.381 
L 589.349 461.358 
L 585.662 461.358 
L 585.662 470.335 
L 582.456 470.335 
L 582.456 479.312 
L 581.975 479.312 
L 581.975 488.289 
L 578.448 488.289 
L 578.448 497.266 
L 576.043 497.266 
L 576.043 506.243 
L 573.638 506.243 
L 573.638 515.220 
L 573.317 515.220 
L 573.317 524.197 
L 572.035 524.197 
L 572.035 533.174 
L 569.951 533.174 
L 569.951 542.151 
L 568.508 542.151 
L 568.508 551.128 
L 567.225 551.128 
L 567.225 560.105 
L 566.905 560.105 
L 566.905 569.082 
L 566.568 569.082 
L 566.568 578.059 
L 565.416 578.059 
L 565.416 587.036 
L 564.984 587.036 
L 564.984 596.013 
L 564.696 596.013 
L 564.696 604.990 
L 564.408 604.990 
L 564.408 613.967 
L 564.12 613.967 
L 564.12 622.944 
L 562.824 622.944 
z
" fill="#fff" stroke="#000" stroke-width="1.85" stroke-linejoin="miter"/></mask><path d="M 562.824 178.848 
L 576.043 178.848 
L 576.043 183.072 
L 588.067 183.072 
L 588.067 192.049 
L 605.381 192.049 
L 605.381 201.026 
L 623.337 201.026 
L 623.337 210.003 
L 637.766 210.003 
L 637.766 218.980 
L 651.073 218.980 
L 651.073 227.957 
L 666.624 227.957 
L 666.624 236.934 
L 669.029 236.934 
L 669.029 245.911 
L 683.939 245.911 
L 683.939 254.888 
L 697.566 254.888 
L 697.566 263.865 
L 688.267 263.865 
L 688.267 272.842 
L 692.596 272.842 
L 692.596 281.819 
L 702.696 281.819 
L 702.696 290.796 
L 700.612 290.796 
L 700.612 299.773 
L 699.169 299.773 
L 699.169 308.750 
L 696.283 308.750 
L 696.283 317.727 
L 690.993 317.727 
L 690.993 326.704 
L 690.672 326.704 
L 690.672 335.681 
L 686.664 335.681 
L 686.664 344.658 
L 671.113 344.658 
L 671.113 353.635 
L 665.822 353.635 
L 665.822 362.612 
L 657.005 362.612 
L 657.005 371.589 
L 649.790 371.589 
L 649.790 380.566 
L 646.103 380.566 
L 646.103 389.543 
L 637.285 389.543 
L 637.285 398.52 
L 628.147 398.52 
L 628.147 407.496 
L 623.337 407.496 
L 623.337 416.473 
L 611.313 416.473 
L 611.313 425.450 
L 605.381 425.450 
L 605.381 434.427 
L 600.892 434.427 
L 600.892 443.404 
L 594.480 443.404 
L 594.480 452.381 
L 589.349 452.381 
L 589.349 461.358 
L 585.662 461.358 
L 585.662 470.335 
L 582.456 470.335 
L 582.456 479.312 
L 581.975 479.312 
L 581.975 488.289 
L 578.448 488.289 
L 578.448 497.266 
L 576.043 497.266 
L 576.043 506.243 
L 573.638 506.243 
L 573.638 515.220 
L 573.317 515.220 
L 573.317 524.197 
L 572.035 524.197 
L 572.035 533.174 
L 569.951 533.174 
L 569.951 542.151 
L 568.508 542.151 
L 568.508 551.128 
L 567.225 551.128 
L 567.225 560.105 
L 566.905 560.105 
L 566.905 569.082 
L 566.568 569.082 
L 566.568 578.059 
L 565.416 578.059 
L 565.416 587.036 
L 564.984 587.036 
L 564.984 596.013 
L 564.696 596.013 
L 564.696 604.990 
L 564.408 604.990 
L 564.408 613.967 
L 564.12 613.967 
L 564.12 622.944 
L 562.824 622.944 
z
" fill="#ff7f0e" fill-opacity="0.4" mask="url(#mH_ro)"/><path d="M 562.824 178.848 
L 576.043 178.848 
L 576.043 183.072 
L 588.067 183.072 
L 588.067 192.049 
L 605.381 192.049 
L 605.381 201.026 
L 623.337 201.026 
L 623.337 210.003 
L 637.766 210.003 
L 637.766 218.980 
L 651.073 218.980 
L 651.073 227.957 
L 666.624 227.957 
L 666.624 236.934 
L 669.029 236.934 
L 669.029 245.911 
L 683.939 245.911 
L 683.939 254.888 
L 697.566 254.888 
L 697.566 263.865 
L 688.267 263.865 
L 688.267 272.842 
L 692.596 272.842 
L 692.596 281.819 
L 702.696 281.819 
L 702.696 290.796 
L 700.612 290.796 
L 700.612 299.773 
L 699.169 299.773 
L 699.169 308.750 
L 696.283 308.750 
L 696.283 317.727 
L 690.993 317.727 
L 690.993 326.704 
L 690.672 326.704 
L 690.672 335.681 
L 686.664 335.681 
L 686.664 344.658 
L 671.113 344.658 
L 671.113 353.635 
L 665.822 353.635 
L 665.822 362.612 
L 657.005 362.612 
L 657.005 371.589 
L 649.790 371.589 
L 649.790 380.566 
L 646.103 380.566 
L 646.103 389.543 
L 637.285 389.543 
L 637.285 398.52 
L 628.147 398.52 
L 628.147 407.496 
L 623.337 407.496 
L 623.337 416.473 
L 611.313 416.473 
L 611.313 425.450 
L 605.381 425.450 
L 605.381 434.427 
L 600.892 434.427 
L 600.892 443.404 
L 594.480 443.404 
L 594.480 452.381 
L 589.349 452.381 
L 589.349 461.358 
L 585.662 461.358 
L 585.662 470.335 
L 582.456 470.335 
L 582.456 479.312 
L 581.975 479.312 
L 581.975 488.289 
L 578.448 488.289 
L 578.448 497.266 
L 576.043 497.266 
L 576.043 506.243 
L 573.638 506.243 
L 573.638 515.220 
L 573.317 515.220 
L 573.317 524.197 
L 572.035 524.197 
L 572.035 533.174 
L 569.951 533.174 
L 569.951 542.151 
L 568.508 542.151 
L 568.508 551.128 
L 567.225 551.128 
L 567.225 560.105 
L 566.905 560.105 
L 566.905 569.082 
L 566.568 569.082 
L 566.568 578.059 
L 565.416 578.059 
L 565.416 587.036 
L 564.984 587.036 
L 564.984 596.013 
L 564.696 596.013 
L 564.696 604.990 
L 564.408 604.990 
L 564.408 613.967 
L 564.12 613.967 
L 564.12 622.944 
L 562.824 622.944 
z
" fill="none" stroke="#000000" stroke-opacity="0.4" stroke-width="1.85" stroke-linejoin="miter"/></g>
   <g id="matplotlib.axis_5">
    <g id="xtick_67">
     <g id="line2d_195">
      <g>
       <use href="#m6bbc13c40f" x="562.824" y="622.944" style="stroke: #000000; stroke-width: 1.7"/>
      </g>
     </g>
     <g id="line2d_196">
      <g>
       <use href="#mc6f41d7c7b" x="562.824" y="174.096" style="stroke: #000000; stroke-width: 1.7"/>
      </g>
     </g>
     <g id="text_23">
      <text style="font-size: 20px; font-family: 'DejaVu Serif', 'Liberation Serif', serif; text-anchor: middle" x="562.824" y="645.940" transform="rotate(-0 562.824 645.940)">0.0</text>
     </g>
    </g>
    <g id="xtick_68">
     <g id="line2d_197">
      <g>
       <use href="#m6bbc13c40f" x="681.84" y="622.944" style="stroke: #000000; stroke-width: 1.7"/>
      </g>
     </g>
     <g id="line2d_198">
      <g>
       <use href="#mc6f41d7c7b" x="681.84" y="174.096" style="stroke: #000000; stroke-width: 1.7"/>
      </g>
     </g>
     <g id="text_24">
      <text style="font-size: 20px; font-family: 'DejaVu Serif', 'Liberation Serif', serif; text-anchor: middle" x="681.84" y="645.940" transform="rotate(-0 681.84 645.940)">0.2</text>
     </g>
    </g>
    <g id="xtick_69">
     <g id="line2d_199">
      <g>
       <use href="#mdcc2ed4d52" x="592.578" y="622.944" style="stroke: #000000; stroke-width: 1.6"/>
      </g>
     </g>
     <g id="line2d_200">
      <g>
       <use href="#mb19a188a09" x="592.578" y="174.096" style="stroke: #000000; stroke-width: 1.6"/>
      </g>
     </g>
    </g>
    <g id="xtick_70">
     <g id="line2d_201">
      <g>
       <use href="#mdcc2ed4d52" x="622.332" y="622.944" style="stroke: #000000; stroke-width: 1.6"/>
      </g>
     </g>
     <g id="line2d_202">
      <g>
       <use href="#mb19a188a09" x="622.332" y="174.096" style="stroke: #000000; stroke-width: 1.6"/>
      </g>
     </g>
    </g>
    <g id="xtick_71">
     <g id="line2d_203">
      <g>
       <use href="#mdcc2ed4d52" x="652.086" y="622.944" style="stroke: #000000; stroke-width: 1.6"/>
      </g>
     </g>
     <g id="line2d_204">
      <g>
       <use href="#mb19a188a09" x="652.086" y="174.096" style="stroke: #000000; stroke-width: 1.6"/>
      </g>
     </g>
    </g>
    <g id="text_25">
     <text style="font-size: 20px; font-family: 'DejaVu Serif', 'Liberation Serif', serif; text-anchor: middle" x="636.372" y="673.597" transform="rotate(-0 636.372 673.597)">Prob. Density</text>
    </g>
   </g>
   <g id="matplotlib.axis_6">
    <g id="ytick_31">
     <g id="line2d_205">
      <g>
       <use href="#m655200f965" x="562.824" y="218.980" style="stroke: #000000; stroke-width: 1.7"/>
      </g>
     </g>
     <g id="line2d_206">
      <g>
       <use href="#mf1af1d5090" x="709.92" y="218.980" style="stroke: #000000; stroke-width: 1.7"/>
      </g>
     </g>
    </g>
    <g id="ytick_32">
     <g id="line2d_207">
      <g>
       <use href="#m655200f965" x="562.824" y="308.750" style="stroke: #000000; stroke-width: 1.7"/>
      </g>
     </g>
     <g id="line2d_208">
      <g>
       <use href="#mf1af1d5090" x="709.92" y="308.750" style="stroke: #000000; stroke-width: 1.7"/>
      </g>
     </g>
    </g>
    <g id="ytick_33">
     <g id="line2d_209">
      <g>
       <use href="#m655200f965" x="562.824" y="398.52" style="stroke: #000000; stroke-width: 1.7"/>
      </g>
     </g>
     <g id="line2d_210">
      <g>
       <use href="#mf1af1d5090" x="709.92" y="398.52" style="stroke: #000000; stroke-width: 1.7"/>
      </g>
     </g>
    </g>
    <g id="ytick_34">
     <g id="line2d_211">
      <g>
       <use href="#m655200f965" x="562.824" y="488.289" style="stroke: #000000; stroke-width: 1.7"/>
      </g>
     </g>
     <g id="line2d_212">
      <g>
       <use href="#mf1af1d5090" x="709.92" y="488.289" style="stroke: #000000; stroke-width: 1.7"/>
      </g>
     </g>
    </g>
    <g id="ytick_35">
     <g id="line2d_213">
      <g>
       <use href="#m655200f965" x="562.824" y="578.059" style="stroke: #000000; stroke-width: 1.7"/>
      </g>
     </g>
     <g id="line2d_214">
      <g>
       <use href="#mf1af1d5090" x="709.92" y="578.059" style="stroke: #000000; stroke-width: 1.7"/>
      </g>
     </g>
    </g>
    <g id="ytick_36">
     <g id="line2d_215">
      <g>
       <use href="#m14c185b99c" x="562.824" y="174.096" style="stroke: #000000; stroke-width: 1.6"/>
      </g>
     </g>
     <g id="line2d_216">
      <g>
       <use href="#m5b1c192d87" x="709.92" y="174.096" style="stroke: #000000; stroke-width: 1.6"/>
      </g>
     </g>
    </g>
    <g id="ytick_37">
     <g id="line2d_217">
      <g>
       <use href="#m14c185b99c" x="562.824" y="196.538" style="stroke: #000000; stroke-width: 1.6"/>
      </g>
     </g>
     <g id="line2d_218">
      <g>
       <use href="#m5b1c192d87" x="709.92" y="196.538" style="stroke: #000000; stroke-width: 1.6"/>
      </g>
     </g>
    </g>
    <g id="ytick_38">
     <g id="line2d_219">
      <g>
       <use href="#m14c185b99c" x="562.824" y="241.423" style="stroke: #000000; stroke-width: 1.6"/>
      </g>
     </g>
     <g id="line2d_220">
      <g>
       <use href="#m5b1c192d87" x="709.92" y="241.423" style="stroke: #000000; stroke-width: 1.6"/>
      </g>
     </g>
    </g>
    <g id="ytick_39">
     <g id="line2d_221">
      <g>
       <use href="#m14c185b99c" x="562.824" y="263.865" style="stroke: #000000; stroke-width: 1.6"/>
      </g>
     </g>
     <g id="line2d_222">
      <g>
       <use href="#m5b1c192d87" x="709.92" y="263.865" style="stroke: #000000; stroke-width: 1.6"/>
      </g>
     </g>
    </g>
    <g id="ytick_40">
     <g id="line2d_223">
      <g>
       <use href="#m14c185b99c" x="562.824" y="286.308" style="stroke: #000000; stroke-width: 1.6"/>
      </g>
     </g>
     <g id="line2d_224">
      <g>
       <use href="#m5b1c192d87" x="709.92" y="286.308" style="stroke: #000000; stroke-width: 1.6"/>
      </g>
     </g>
    </g>
    <g id="ytick_41">
     <g id="line2d_225">
      <g>
       <use href="#m14c185b99c" x="562.824" y="331.192" style="stroke: #000000; stroke-width: 1.6"/>
      </g>
     </g>
     <g id="line2d_226">
      <g>
       <use href="#m5b1c192d87" x="709.92" y="331.192" style="stroke: #000000; stroke-width: 1.6"/>
      </g>
     </g>
    </g>
    <g id="ytick_42">
     <g id="line2d_227">
      <g>
       <use href="#m14c185b99c" x="562.824" y="353.635" style="stroke: #000000; stroke-width: 1.6"/>
      </g>
     </g>
     <g id="line2d_228">
      <g>
       <use href="#m5b1c192d87" x="709.92" y="353.635" style="stroke: #000000; stroke-width: 1.6"/>
      </g>
     </g>
    </g>
    <g id="ytick_43">
     <g id="line2d_229">
      <g>
       <use href="#m14c185b99c" x="562.824" y="376.077" style="stroke: #000000; stroke-width: 1.6"/>
      </g>
     </g>
     <g id="line2d_230">
      <g>
       <use href="#m5b1c192d87" x="709.92" y="376.077" style="stroke: #000000; stroke-width: 1.6"/>
      </g>
     </g>
    </g>
    <g id="ytick_44">
     <g id="line2d_231">
      <g>
       <use href="#m14c185b99c" x="562.824" y="420.962" style="stroke: #000000; stroke-width: 1.6"/>
      </g>
     </g>
     <g id="line2d_232">
      <g>
       <use href="#m5b1c192d87" x="709.92" y="420.962" style="stroke: #000000; stroke-width: 1.6"/>
      </g>
     </g>
    </g>
    <g id="ytick_45">
     <g id="line2d_233">
      <g>
       <use href="#m14c185b99c" x="562.824" y="443.404" style="stroke: #000000; stroke-width: 1.6"/>
      </g>
     </g>
     <g id="line2d_234">
      <g>
       <use href="#m5b1c192d87" x="709.92" y="443.404" style="stroke: #000000; stroke-width: 1.6"/>
      </g>
     </g>
    </g>
    <g id="ytick_46">
     <g id="line2d_235">
      <g>
       <use href="#m14c185b99c" x="562.824" y="465.847" style="stroke: #000000; stroke-width: 1.6"/>
      </g>
     </g>
     <g id="line2d_236">
      <g>
       <use href="#m5b1c192d87" x="709.92" y="465.847" style="stroke: #000000; stroke-width: 1.6"/>
      </g>
     </g>
    </g>
    <g id="ytick_47">
     <g id="line2d_237">
      <g>
       <use href="#m14c185b99c" x="562.824" y="510.732" style="stroke: #000000; stroke-width: 1.6"/>
      </g>
     </g>
     <g id="line2d_238">
      <g>
       <use href="#m5b1c192d87" x="709.92" y="510.732" style="stroke: #000000; stroke-width: 1.6"/>
      </g>
     </g>
    </g>
    <g id="ytick_48">
     <g id="line2d_239">
      <g>
       <use href="#m14c185b99c" x="562.824" y="533.174" style="stroke: #000000; stroke-width: 1.6"/>
      </g>
     </g>
     <g id="line2d_240">
      <g>
       <use href="#m5b1c192d87" x="709.92" y="533.174" style="stroke: #000000; stroke-width: 1.6"/>
      </g>
     </g>
    </g>
    <g id="ytick_49">
     <g id="line2d_241">
      <g>
       <use href="#m14c185b99c" x="562.824" y="555.616" style="stroke: #000000; stroke-width: 1.6"/>
      </g>
     </g>
     <g id="line2d_242">
      <g>
       <use href="#m5b1c192d87" x="709.92" y="555.616" style="stroke: #000000; stroke-width: 1.6"/>
      </g>
     </g>
    </g>
    <g id="ytick_50">
     <g id="line2d_243">
      <g>
       <use href="#m14c185b99c" x="562.824" y="600.501" style="stroke: #000000; stroke-width: 1.6"/>
      </g>
     </g>
     <g id="line2d_244">
      <g>
       <use href="#m5b1c192d87" x="709.92" y="600.501" style="stroke: #000000; stroke-width: 1.6"/>
      </g>
     </g>
    </g>
    <g id="ytick_51">
     <g id="line2d_245">
      <g>
       <use href="#m14c185b99c" x="562.824" y="622.944" style="stroke: #000000; stroke-width: 1.6"/>
      </g>
     </g>
     <g id="line2d_246">
      <g>
       <use href="#m5b1c192d87" x="709.92" y="622.944" style="stroke: #000000; stroke-width: 1.6"/>
      </g>
     </g>
    </g>
   </g>
   <g id="patch_16">
    <path d="M 562.824 622.944 
L 562.824 174.096 
" style="fill: none; stroke: #000000; stroke-width: 1.6; stroke-linejoin: miter; stroke-linecap: square"/>
   </g>
   <g id="patch_17">
    <path d="M 709.92 622.944 
L 709.92 174.096 
" style="fill: none; stroke: #000000; stroke-width: 1.6; stroke-linejoin: miter; stroke-linecap: square"/>
   </g>
   <g id="patch_18">
    <path d="M 562.824 622.944 
L 709.92 622.944 
" style="fill: none; stroke: #000000; stroke-width: 1.6; stroke-linejoin: miter; stroke-linecap: square"/>
   </g>
   <g id="patch_19">
    <path d="M 562.824 174.096 
L 709.92 174.096 
" style="fill: none; stroke: #000000; stroke-width: 1.6; stroke-linejoin: miter; stroke-linecap: square"/>
   </g>
   <g id="patch_20">
    <path d="M 589.36 612.864 
L 695.984 612.864 
Q 699.984 612.864 699.984 608.864 
L 699.984 534.64 
Q 699.984 530.64 695.984 530.64 
L 589.36 530.64 
Q 585.36 530.64 585.36 534.64 
L 585.36 608.864 
Q 585.36 612.864 589.36 612.864 
z
" style="fill: #ffffff; fill-opacity: 0.8; stroke: #c7c7c7; stroke-width: 1.8; stroke-linejoin: miter"/>
   </g>
   <g id="legend_3">
    <g id="H_l3_0"><mask id="mH_l3_0" maskUnits="userSpaceOnUse" x="0" y="0" width="712" height="680"><path d="M 593.616 560.850 
L 633.616 560.850 
L 633.616 546.850 
L 593.616 546.850 
z
" fill="#fff" stroke="#000" stroke-width="1.85" stroke-linejoin="miter"/></mask><path d="M 593.616 560.850 
L 633.616 560.850 
L 633.616 546.850 
L 593.616 546.850 
z
" fill="#1f77b4" fill-opacity="0.4" mask="url(#mH_l3_0)"/><path d="M 593.616 560.850 
L 633.616 560.850 
L 633.616 546.850 
L 593.616 546.850 
z
" fill="none" stroke="#000000" stroke-opacity="0.4" stroke-width="1.85" stroke-linejoin="miter"/></g>
    <g id="text_26">
     <!-- $\tilde{\phi}(\tilde{y})$ -->
     <g transform="translate(650.616 560.850)">
      <text>
       <tspan x="13.193" y="-0.546" style="font-size: 20px; font-family: 'DejaVu Sans', 'Liberation Sans', sans-serif">(</tspan>
       <tspan x="13.517" y="-5.468" style="font-size: 20px; font-family: 'DejaVu Sans', 'Liberation Sans', sans-serif">̃</tspan>
       <tspan x="32.832" y="-0.546" style="font-size: 20px; font-family: 'DejaVu Sans', 'Liberation Sans', sans-serif">)</tspan>
       <tspan x="33.173" y="-1.203" style="font-size: 20px; font-family: 'DejaVu Sans', 'Liberation Sans', sans-serif">̃</tspan>
       <tspan x="0" y="-0.546" style="font-style: oblique; font-size: 20px; font-family: 'DejaVu Sans', 'Liberation Sans', sans-serif">ϕ</tspan>
       <tspan x="20.996" y="-0.546" style="font-style: oblique; font-size: 20px; font-family: 'DejaVu Sans', 'Liberation Sans', sans-serif">y</tspan>
      </text>
     </g>
    </g>
    <g id="H_l3_1"><mask id="mH_l3_1" maskUnits="userSpaceOnUse" x="0" y="0" width="712" height="680"><path d="M 593.616 599.450 
L 633.616 599.450 
L 633.616 585.450 
L 593.616 585.450 
z
" fill="#fff" stroke="#000" stroke-width="1.85" stroke-linejoin="miter"/></mask><path d="M 593.616 599.450 
L 633.616 599.450 
L 633.616 585.450 
L 593.616 585.450 
z
" fill="#ff7f0e" fill-opacity="0.4" mask="url(#mH_l3_1)"/><path d="M 593.616 599.450 
L 633.616 599.450 
L 633.616 585.450 
L 593.616 585.450 
z
" fill="none" stroke="#000000" stroke-opacity="0.4" stroke-width="1.85" stroke-linejoin="miter"/></g>
    <g id="text_27">
     <!-- $\tilde{\phi}_{corr}$ -->
     <g transform="translate(650.616 599.450)">
      <text>
       <tspan x="13.517" y="-5.468" style="font-size: 20px; font-family: 'DejaVu Sans', 'Liberation Sans', sans-serif">̃</tspan>
       <tspan x="0" y="-0.546" style="font-style: oblique; font-size: 20px; font-family: 'DejaVu Sans', 'Liberation Sans', sans-serif">ϕ</tspan>
       <tspan x="13.384" y="2.734" style="font-style: oblique; font-size: 14px; font-family: 'DejaVu Sans', 'Liberation Sans', sans-serif">c</tspan>
       <tspan x="21.082" y="2.734" style="font-style: oblique; font-size: 14px; font-family: 'DejaVu Sans', 'Liberation Sans', sans-serif">o</tspan>
       <tspan x="29.647" y="2.734" style="font-style: oblique; font-size: 14px; font-family: 'DejaVu Sans', 'Liberation Sans', sans-serif">r</tspan>
       <tspan x="35.403" y="2.734" style="font-style: oblique; font-size: 14px; font-family: 'DejaVu Sans', 'Liberation Sans', sans-serif">r</tspan>
      </text>
     </g>
    </g>
   </g>
  </g>
 </g>
 <defs>
  <clipPath id="pa96011f8ba">
   <rect x="92.448" y="174.096" width="442.08" height="448.848"/>
  </clipPath>
  <clipPath id="pdfea9045f9">
   <rect x="92.448" y="0.936" width="442.08" height="149.4"/>
  </clipPath>
  <clipPath id="p0d4ad72fb8">
   <rect x="562.824" y="174.096" width="147.096" height="448.848"/>
  </clipPath>
 </defs>
</svg>

</body></html>
